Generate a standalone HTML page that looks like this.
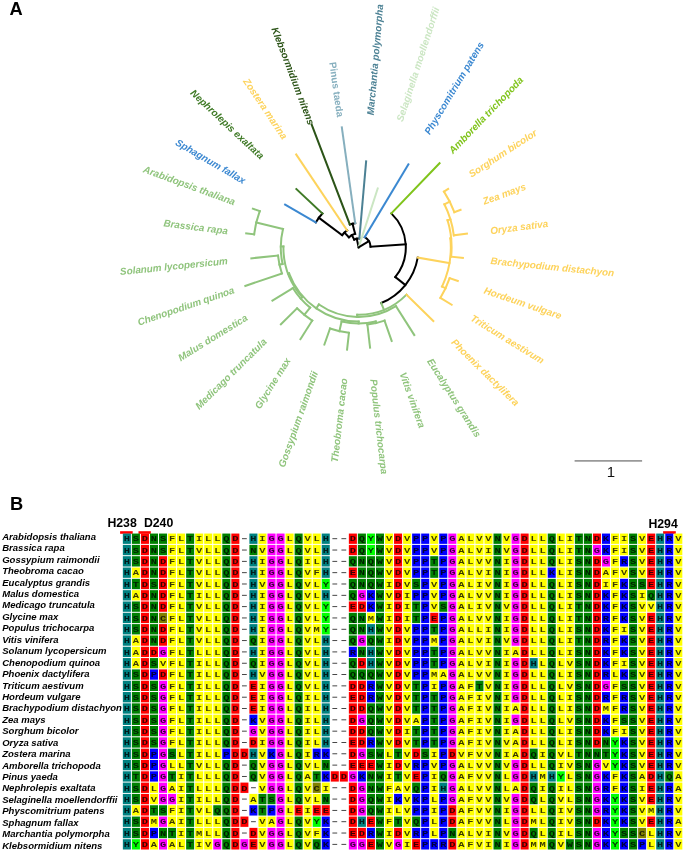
<!DOCTYPE html>
<html><head><meta charset="utf-8"><style>
html,body{margin:0;padding:0;background:#fff;}
svg{display:block;filter:blur(0.3px);}
.tree path{fill:none;stroke-width:2.0;stroke-linecap:square;}
.lb{font:italic bold 9.9px "Liberation Sans",Arial,sans-serif;dominant-baseline:central;}
.li{font:italic 9.9px "Liberation Sans",Arial,sans-serif;dominant-baseline:central;}
.lbo{font:bold 9.9px "Liberation Sans",Arial,sans-serif;dominant-baseline:central;}
.lr{font:9.9px "Liberation Sans",Arial,sans-serif;dominant-baseline:central;}
.aa text{font:bold 8.0px "Liberation Mono","Courier New",monospace;text-anchor:middle;fill:#000;fill-opacity:0.78;}
.rl text{font:italic bold 9.8px "Liberation Sans",Arial,sans-serif;fill:#000;}
.pl{font:bold 18.3px "Liberation Sans",Arial,sans-serif;fill:#000;}
.ml{font:bold 12.3px "Liberation Sans",Arial,sans-serif;fill:#000;}
</style></head><body>
<svg width="685" height="852" viewBox="0 0 685 852">
<rect width="685" height="852" fill="#fff"/>
<text class="pl" x="9.6" y="14.5">A</text>
<g class="tree">
<path d="M358.60,247.40L356.73,238.60" stroke="#000000"/>
<path d="M354.23,239.53A9.00,9.00 0 0 1 359.38,238.43" stroke="#000000"/>
<path d="M354.23,239.53L351.81,235.16" stroke="#000000"/>
<path d="M348.95,237.26A14.00,14.00 0 0 1 355.11,233.84" stroke="#000000"/>
<path d="M348.95,237.26L344.46,232.55" stroke="#000000"/>
<path d="M342.16,235.15A20.50,20.50 0 0 1 347.17,230.38" stroke="#000000"/>
<path d="M342.16,235.15L318.82,217.77" stroke="#000000"/>
<path d="M315.73,222.45A49.60,49.60 0 0 1 322.42,213.47" stroke="#000000"/>
<path d="M315.73,222.45L285.14,204.64" stroke="#3b88d1"/>
<path d="M322.42,213.47L296.38,189.05" stroke="#3f7a26"/>
<path d="M347.17,230.38L296.17,154.42" stroke="#fdd35c"/>
<path d="M355.11,233.84L352.49,223.67" stroke="#000000"/>
<path d="M349.85,224.52A24.50,24.50 0 0 1 355.21,223.14" stroke="#000000"/>
<path d="M349.85,224.52L311.65,124.57" stroke="#2c5418"/>
<path d="M355.21,223.14L341.83,127.47" stroke="#86afbe"/>
<path d="M359.38,238.43L366.12,161.43" stroke="#4c8194"/>
<path d="M358.60,247.40L377.72,188.42" stroke="#cbe6c3"/>
<path d="M358.60,247.40L368.85,241.15" stroke="#000000"/>
<path d="M364.77,237.11A12.00,12.00 0 0 1 370.58,246.64" stroke="#000000"/>
<path d="M364.77,237.11L408.39,164.27" stroke="#3b88d1"/>
<path d="M370.58,246.64L405.70,244.40" stroke="#000000"/>
<path d="M391.32,213.38A47.20,47.20 0 0 1 395.37,276.99" stroke="#000000"/>
<path d="M391.32,213.38L439.56,163.21" stroke="#80c41c"/>
<path d="M395.37,276.99L405.34,285.02" stroke="#000000"/>
<path d="M417.73,257.58A60.00,60.00 0 0 1 381.19,302.99" stroke="#000000"/>
<path d="M417.73,257.58L449.46,263.05" stroke="#fdd35c"/>
<path d="M450.36,238.37A92.20,92.20 0 0 1 442.05,286.60" stroke="#fdd35c"/>
<path d="M450.36,238.37L451.15,238.29" stroke="#fdd35c"/>
<path d="M447.56,220.27A93.00,93.00 0 0 1 451.14,256.67" stroke="#fdd35c"/>
<path d="M447.56,220.27L450.42,219.40" stroke="#fdd35c"/>
<path d="M444.38,204.30A96.00,96.00 0 0 1 453.83,235.30" stroke="#fdd35c"/>
<path d="M444.38,204.30L449.74,201.60" stroke="#fdd35c"/>
<path d="M443.99,191.61A102.00,102.00 0 0 1 454.33,212.18" stroke="#fdd35c"/>
<path d="M443.99,191.61L448.17,188.87" stroke="#fdd35c"/>
<path d="M454.33,212.18L460.52,209.90" stroke="#fdd35c"/>
<path d="M453.83,235.30L466.93,233.64" stroke="#fdd35c"/>
<path d="M451.14,256.67L462.88,257.85" stroke="#fdd35c"/>
<path d="M442.05,286.60L445.58,288.26" stroke="#fdd35c"/>
<path d="M449.64,278.18A96.10,96.10 0 0 1 440.42,297.81" stroke="#fdd35c"/>
<path d="M449.64,278.18L457.78,280.93" stroke="#fdd35c"/>
<path d="M440.42,297.81L451.65,304.74" stroke="#fdd35c"/>
<path d="M381.19,302.99L383.93,309.75" stroke="#8fc47c"/>
<path d="M406.52,294.65A67.30,67.30 0 0 1 357.22,314.69" stroke="#8fc47c"/>
<path d="M406.52,294.65L433.36,321.13" stroke="#fdd35c"/>
<path d="M357.22,314.69L357.17,316.89" stroke="#8fc47c"/>
<path d="M395.88,306.05A69.50,69.50 0 0 1 318.95,304.48" stroke="#8fc47c"/>
<path d="M395.88,306.05L414.28,335.00" stroke="#8fc47c"/>
<path d="M318.95,304.48L316.26,308.34" stroke="#8fc47c"/>
<path d="M358.65,321.60A74.20,74.20 0 0 1 289.04,273.24" stroke="#8fc47c"/>
<path d="M358.65,321.60L358.65,323.40" stroke="#8fc47c"/>
<path d="M375.70,321.45A76.00,76.00 0 0 1 341.61,321.48" stroke="#8fc47c"/>
<path d="M375.70,321.45L376.08,323.11" stroke="#8fc47c"/>
<path d="M384.51,320.65A77.70,77.70 0 0 1 367.42,324.60" stroke="#8fc47c"/>
<path d="M384.51,320.65L391.68,340.92" stroke="#8fc47c"/>
<path d="M367.42,324.60L370.06,347.65" stroke="#8fc47c"/>
<path d="M341.61,321.48L339.37,331.22" stroke="#8fc47c"/>
<path d="M348.95,332.86A86.00,86.00 0 0 1 330.03,328.52" stroke="#8fc47c"/>
<path d="M348.95,332.86L347.07,349.55" stroke="#8fc47c"/>
<path d="M330.03,328.52L324.39,344.55" stroke="#8fc47c"/>
<path d="M289.04,273.24L288.11,273.59" stroke="#8fc47c"/>
<path d="M302.23,297.17A75.20,75.20 0 0 1 283.41,246.51" stroke="#8fc47c"/>
<path d="M302.23,297.17L300.65,298.56" stroke="#8fc47c"/>
<path d="M310.12,307.61A77.30,77.30 0 0 1 292.85,288.04" stroke="#8fc47c"/>
<path d="M310.12,307.61L304.29,314.85" stroke="#8fc47c"/>
<path d="M312.25,320.55A86.60,86.60 0 0 1 297.02,308.29" stroke="#8fc47c"/>
<path d="M312.25,320.55L300.47,339.13" stroke="#8fc47c"/>
<path d="M297.02,308.29L280.88,324.25" stroke="#8fc47c"/>
<path d="M292.85,288.04L272.43,300.66" stroke="#8fc47c"/>
<path d="M283.41,246.51L280.81,246.48" stroke="#8fc47c"/>
<path d="M282.58,263.95A77.80,77.80 0 0 1 282.99,229.05" stroke="#8fc47c"/>
<path d="M282.58,263.95L279.45,264.63" stroke="#8fc47c"/>
<path d="M281.90,273.45A81.00,81.00 0 0 1 278.01,255.59" stroke="#8fc47c"/>
<path d="M281.90,273.45L245.35,285.86" stroke="#8fc47c"/>
<path d="M278.01,255.59L251.35,258.29" stroke="#8fc47c"/>
<path d="M282.99,229.05L256.27,222.57" stroke="#8fc47c"/>
<path d="M254.12,234.28A105.30,105.30 0 0 1 259.73,211.18" stroke="#8fc47c"/>
<path d="M254.12,234.28L246.18,233.28" stroke="#8fc47c"/>
<path d="M259.73,211.18L252.87,208.67" stroke="#8fc47c"/>
</g>
<g>
<text class="lb" x="244.78" y="181.15" fill="#3b88d1" text-anchor="end" transform="rotate(30.20 244.78 181.15)">Sphagnum fallax</text>
<text class="lb" x="262.53" y="157.31" fill="#3f7a26" text-anchor="end" transform="rotate(43.16 262.53 157.31)">Nephrolepis exaltata</text>
<text class="lb" x="285.18" y="138.06" fill="#fdd35c" text-anchor="end" transform="rotate(56.12 285.18 138.06)">Zostera marina</text>
<text class="lb" x="311.57" y="124.38" fill="#2c5418" text-anchor="end" transform="rotate(69.08 311.57 124.38)">Klebsormidium nitens</text>
<text class="lbo" x="340.36" y="116.97" fill="#86afbe" text-anchor="end" transform="rotate(82.04 340.36 116.97)">Pinus taeda</text>
<text class="lb" x="370.17" y="115.20" fill="#4c8194" text-anchor="start" transform="rotate(-85.00 370.17 115.20)">Marchantia polymorpha</text>
<text class="lb" x="399.52" y="121.17" fill="#cbe6c3" text-anchor="start" transform="rotate(-72.04 399.52 121.17)">Selaginella moellendorffii</text>
<text class="lb" x="426.79" y="133.56" fill="#3b88d1" text-anchor="start" transform="rotate(-59.08 426.79 133.56)">Physcomitrium patens</text>
<text class="lb" x="450.58" y="151.75" fill="#80c41c" text-anchor="start" transform="rotate(-46.12 450.58 151.75)">Amborella trichopoda</text>
<text class="lb" x="469.69" y="174.82" fill="#fdd35c" text-anchor="start" transform="rotate(-33.16 469.69 174.82)">Sorghum bicolor</text>
<text class="lb" x="483.14" y="201.58" fill="#fdd35c" text-anchor="start" transform="rotate(-20.20 483.14 201.58)">Zea mays</text>
<text class="lb" x="490.24" y="230.68" fill="#fdd35c" text-anchor="start" transform="rotate(-7.24 490.24 230.68)">Oryza sativa</text>
<text class="lb" x="490.64" y="260.63" fill="#fdd35c" text-anchor="start" transform="rotate(5.72 490.64 260.63)">Brachypodium distachyon</text>
<text class="lb" x="484.31" y="289.90" fill="#fdd35c" text-anchor="start" transform="rotate(18.68 484.31 289.90)">Hordeum vulgare</text>
<text class="lb" x="471.58" y="317.01" fill="#fdd35c" text-anchor="start" transform="rotate(31.64 471.58 317.01)">Triticum aestivum</text>
<text class="lb" x="453.09" y="340.58" fill="#fdd35c" text-anchor="start" transform="rotate(44.60 453.09 340.58)">Phoenix dactylifera</text>
<text class="lb" x="429.78" y="359.39" fill="#8fc47c" text-anchor="start" transform="rotate(57.56 429.78 359.39)">Eucalyptus grandis</text>
<text class="lb" x="402.85" y="372.50" fill="#8fc47c" text-anchor="start" transform="rotate(70.52 402.85 372.50)">Vitis vinifera</text>
<text class="lb" x="373.67" y="379.24" fill="#8fc47c" text-anchor="start" transform="rotate(83.48 373.67 379.24)">Populus trichocarpa</text>
<text class="lb" x="343.83" y="378.27" fill="#8fc47c" text-anchor="end" transform="rotate(276.44 343.83 378.27)">Theobroma cacao</text>
<text class="lb" x="314.85" y="371.62" fill="#8fc47c" text-anchor="end" transform="rotate(289.40 314.85 371.62)">Gossypium raimondii</text>
<text class="lb" x="288.11" y="358.65" fill="#8fc47c" text-anchor="end" transform="rotate(302.36 288.11 358.65)">Glycine max</text>
<text class="lb" x="264.96" y="340.00" fill="#8fc47c" text-anchor="end" transform="rotate(315.32 264.96 340.00)">Medicago truncatula</text>
<text class="lb" x="246.57" y="316.64" fill="#8fc47c" text-anchor="end" transform="rotate(328.28 246.57 316.64)">Malus domestica</text>
<text class="lb" x="233.90" y="289.76" fill="#8fc47c" text-anchor="end" transform="rotate(341.24 233.90 289.76)">Chenopodium quinoa</text>
<text class="lb" x="227.57" y="260.71" fill="#8fc47c" text-anchor="end" transform="rotate(354.20 227.57 260.71)">Solanum lycopersicum</text>
<text class="lb" x="227.93" y="230.98" fill="#8fc47c" text-anchor="end" transform="rotate(7.16 227.93 230.98)">Brassica rapa</text>
<text class="lb" x="234.94" y="202.10" fill="#8fc47c" text-anchor="end" transform="rotate(20.12 234.94 202.10)">Arabidopsis thaliana</text>
</g>
<line x1="574.6" y1="460.9" x2="642.1" y2="460.9" stroke="#999" stroke-width="1.6"/>
<text x="611" y="477.2" font-family="Liberation Sans, Arial, sans-serif" font-size="15" text-anchor="middle" fill="#111">1</text>
<text class="pl" x="10.0" y="509.7">B</text>
<text class="ml" x="107.4" y="526.7">H238</text>
<text class="ml" x="143.9" y="526.7">D240</text>
<text class="ml" x="648.4" y="527.6">H294</text>
<rect x="120.1" y="531.2" width="12.6" height="2.6" fill="#ff0000"/>
<rect x="138.5" y="531.2" width="12.3" height="2.6" fill="#ff0000"/>
<rect x="663.1" y="531.2" width="12.7" height="2.6" fill="#ff0000"/>
<g class="rl" transform="translate(2.2,0) scale(0.975,1)">
<text x="0" y="539.80">Arabidopsis thaliana</text>
<text x="0" y="551.24">Brassica rapa</text>
<text x="0" y="562.68">Gossypium raimondii</text>
<text x="0" y="574.12">Theobroma cacao</text>
<text x="0" y="585.56">Eucalyptus grandis</text>
<text x="0" y="597.00">Malus domestica</text>
<text x="0" y="608.44">Medicago truncatula</text>
<text x="0" y="619.88">Glycine max</text>
<text x="0" y="631.32">Populus trichocarpa</text>
<text x="0" y="642.76">Vitis vinifera</text>
<text x="0" y="654.20">Solanum lycopersicum</text>
<text x="0" y="665.64">Chenopodium quinoa</text>
<text x="0" y="677.08">Phoenix dactylifera</text>
<text x="0" y="688.52">Triticum aestivum</text>
<text x="0" y="699.96">Hordeum vulgare</text>
<text x="0" y="711.40">Brachypodium distachyon</text>
<text x="0" y="722.84">Zea mays</text>
<text x="0" y="734.28">Sorghum bicolor</text>
<text x="0" y="745.72">Oryza sativa</text>
<text x="0" y="757.16">Zostera marina</text>
<text x="0" y="768.60">Amborella trichopoda</text>
<text x="0" y="780.04">Pinus yaeda</text>
<text x="0" y="791.48">Nephrolepis exaltata</text>
<text x="0" y="802.92">Selaginella moellendorffii</text>
<text x="0" y="814.36">Physcomitrium patens</text>
<text x="0" y="825.80">Sphagnum fallax</text>
<text x="0" y="837.24">Marchantia polymorpha</text>
<text x="0" y="848.68">Klebsormidium nitens</text>
</g>
<g class="aa">
<rect x="122.85" y="533.55" width="8.04" height="10.32" fill="#008080"/>
<rect x="131.89" y="533.55" width="8.04" height="10.32" fill="#008000"/>
<rect x="140.93" y="533.55" width="8.04" height="10.32" fill="#ff0000"/>
<rect x="149.97" y="533.55" width="8.04" height="10.32" fill="#008000"/>
<rect x="159.01" y="533.55" width="8.04" height="10.32" fill="#008000"/>
<rect x="168.05" y="533.55" width="8.04" height="10.32" fill="#ffff00"/>
<rect x="177.09" y="533.55" width="8.04" height="10.32" fill="#ffff00"/>
<rect x="186.13" y="533.55" width="8.04" height="10.32" fill="#008000"/>
<rect x="195.17" y="533.55" width="8.04" height="10.32" fill="#ffff00"/>
<rect x="204.21" y="533.55" width="8.04" height="10.32" fill="#ffff00"/>
<rect x="213.25" y="533.55" width="8.04" height="10.32" fill="#ffff00"/>
<rect x="222.29" y="533.55" width="8.04" height="10.32" fill="#008000"/>
<rect x="231.33" y="533.55" width="8.04" height="10.32" fill="#ff0000"/>
<rect x="249.41" y="533.55" width="8.04" height="10.32" fill="#008080"/>
<rect x="258.45" y="533.55" width="8.04" height="10.32" fill="#ffff00"/>
<rect x="267.49" y="533.55" width="8.04" height="10.32" fill="#ff00ff"/>
<rect x="276.53" y="533.55" width="8.04" height="10.32" fill="#ff00ff"/>
<rect x="285.57" y="533.55" width="8.04" height="10.32" fill="#ffff00"/>
<rect x="294.61" y="533.55" width="8.04" height="10.32" fill="#008000"/>
<rect x="303.65" y="533.55" width="8.04" height="10.32" fill="#ffff00"/>
<rect x="312.69" y="533.55" width="8.04" height="10.32" fill="#ffff00"/>
<rect x="321.73" y="533.55" width="8.04" height="10.32" fill="#008080"/>
<rect x="348.85" y="533.55" width="8.04" height="10.32" fill="#ff0000"/>
<rect x="357.89" y="533.55" width="8.04" height="10.32" fill="#008000"/>
<rect x="366.93" y="533.55" width="8.04" height="10.32" fill="#00ff00"/>
<rect x="375.97" y="533.55" width="8.04" height="10.32" fill="#008000"/>
<rect x="385.01" y="533.55" width="8.04" height="10.32" fill="#ffff00"/>
<rect x="394.05" y="533.55" width="8.04" height="10.32" fill="#ff0000"/>
<rect x="403.09" y="533.55" width="8.04" height="10.32" fill="#ffff00"/>
<rect x="412.13" y="533.55" width="8.04" height="10.32" fill="#0000ff"/>
<rect x="421.17" y="533.55" width="8.04" height="10.32" fill="#0000ff"/>
<rect x="430.21" y="533.55" width="8.04" height="10.32" fill="#ffff00"/>
<rect x="439.25" y="533.55" width="8.04" height="10.32" fill="#0000ff"/>
<rect x="448.29" y="533.55" width="8.04" height="10.32" fill="#ff00ff"/>
<rect x="457.33" y="533.55" width="8.04" height="10.32" fill="#ffff00"/>
<rect x="466.37" y="533.55" width="8.04" height="10.32" fill="#ffff00"/>
<rect x="475.41" y="533.55" width="8.04" height="10.32" fill="#ffff00"/>
<rect x="484.45" y="533.55" width="8.04" height="10.32" fill="#ffff00"/>
<rect x="493.49" y="533.55" width="8.04" height="10.32" fill="#008000"/>
<rect x="502.53" y="533.55" width="8.04" height="10.32" fill="#ffff00"/>
<rect x="511.57" y="533.55" width="8.04" height="10.32" fill="#ff00ff"/>
<rect x="520.61" y="533.55" width="8.04" height="10.32" fill="#ff0000"/>
<rect x="529.65" y="533.55" width="8.04" height="10.32" fill="#ffff00"/>
<rect x="538.69" y="533.55" width="8.04" height="10.32" fill="#ffff00"/>
<rect x="547.73" y="533.55" width="8.04" height="10.32" fill="#008000"/>
<rect x="556.77" y="533.55" width="8.04" height="10.32" fill="#ffff00"/>
<rect x="565.81" y="533.55" width="8.04" height="10.32" fill="#ffff00"/>
<rect x="574.85" y="533.55" width="8.04" height="10.32" fill="#008000"/>
<rect x="583.89" y="533.55" width="8.04" height="10.32" fill="#008000"/>
<rect x="592.93" y="533.55" width="8.04" height="10.32" fill="#ff0000"/>
<rect x="601.97" y="533.55" width="8.04" height="10.32" fill="#0000ff"/>
<rect x="611.01" y="533.55" width="8.04" height="10.32" fill="#ffff00"/>
<rect x="620.05" y="533.55" width="8.04" height="10.32" fill="#ffff00"/>
<rect x="629.09" y="533.55" width="8.04" height="10.32" fill="#008000"/>
<rect x="638.13" y="533.55" width="8.04" height="10.32" fill="#ffff00"/>
<rect x="647.17" y="533.55" width="8.04" height="10.32" fill="#ff0000"/>
<rect x="656.21" y="533.55" width="8.04" height="10.32" fill="#008080"/>
<rect x="665.25" y="533.55" width="8.04" height="10.32" fill="#0000ff"/>
<rect x="674.29" y="533.55" width="8.04" height="10.32" fill="#ffff00"/>
<rect x="122.85" y="544.87" width="8.04" height="10.32" fill="#008080"/>
<rect x="131.89" y="544.87" width="8.04" height="10.32" fill="#008000"/>
<rect x="140.93" y="544.87" width="8.04" height="10.32" fill="#ff0000"/>
<rect x="149.97" y="544.87" width="8.04" height="10.32" fill="#008000"/>
<rect x="159.01" y="544.87" width="8.04" height="10.32" fill="#008000"/>
<rect x="168.05" y="544.87" width="8.04" height="10.32" fill="#ffff00"/>
<rect x="177.09" y="544.87" width="8.04" height="10.32" fill="#ffff00"/>
<rect x="186.13" y="544.87" width="8.04" height="10.32" fill="#008000"/>
<rect x="195.17" y="544.87" width="8.04" height="10.32" fill="#ffff00"/>
<rect x="204.21" y="544.87" width="8.04" height="10.32" fill="#ffff00"/>
<rect x="213.25" y="544.87" width="8.04" height="10.32" fill="#ffff00"/>
<rect x="222.29" y="544.87" width="8.04" height="10.32" fill="#008000"/>
<rect x="231.33" y="544.87" width="8.04" height="10.32" fill="#ff0000"/>
<rect x="249.41" y="544.87" width="8.04" height="10.32" fill="#008000"/>
<rect x="258.45" y="544.87" width="8.04" height="10.32" fill="#ffff00"/>
<rect x="267.49" y="544.87" width="8.04" height="10.32" fill="#ff00ff"/>
<rect x="276.53" y="544.87" width="8.04" height="10.32" fill="#ff00ff"/>
<rect x="285.57" y="544.87" width="8.04" height="10.32" fill="#ffff00"/>
<rect x="294.61" y="544.87" width="8.04" height="10.32" fill="#008000"/>
<rect x="303.65" y="544.87" width="8.04" height="10.32" fill="#ffff00"/>
<rect x="312.69" y="544.87" width="8.04" height="10.32" fill="#ffff00"/>
<rect x="321.73" y="544.87" width="8.04" height="10.32" fill="#008080"/>
<rect x="348.85" y="544.87" width="8.04" height="10.32" fill="#ff0000"/>
<rect x="357.89" y="544.87" width="8.04" height="10.32" fill="#008000"/>
<rect x="366.93" y="544.87" width="8.04" height="10.32" fill="#00ff00"/>
<rect x="375.97" y="544.87" width="8.04" height="10.32" fill="#008000"/>
<rect x="385.01" y="544.87" width="8.04" height="10.32" fill="#ffff00"/>
<rect x="394.05" y="544.87" width="8.04" height="10.32" fill="#ff0000"/>
<rect x="403.09" y="544.87" width="8.04" height="10.32" fill="#ffff00"/>
<rect x="412.13" y="544.87" width="8.04" height="10.32" fill="#0000ff"/>
<rect x="421.17" y="544.87" width="8.04" height="10.32" fill="#0000ff"/>
<rect x="430.21" y="544.87" width="8.04" height="10.32" fill="#ffff00"/>
<rect x="439.25" y="544.87" width="8.04" height="10.32" fill="#0000ff"/>
<rect x="448.29" y="544.87" width="8.04" height="10.32" fill="#ff00ff"/>
<rect x="457.33" y="544.87" width="8.04" height="10.32" fill="#ffff00"/>
<rect x="466.37" y="544.87" width="8.04" height="10.32" fill="#ffff00"/>
<rect x="475.41" y="544.87" width="8.04" height="10.32" fill="#ffff00"/>
<rect x="484.45" y="544.87" width="8.04" height="10.32" fill="#ffff00"/>
<rect x="493.49" y="544.87" width="8.04" height="10.32" fill="#008000"/>
<rect x="502.53" y="544.87" width="8.04" height="10.32" fill="#ffff00"/>
<rect x="511.57" y="544.87" width="8.04" height="10.32" fill="#ff00ff"/>
<rect x="520.61" y="544.87" width="8.04" height="10.32" fill="#ff0000"/>
<rect x="529.65" y="544.87" width="8.04" height="10.32" fill="#ffff00"/>
<rect x="538.69" y="544.87" width="8.04" height="10.32" fill="#ffff00"/>
<rect x="547.73" y="544.87" width="8.04" height="10.32" fill="#008000"/>
<rect x="556.77" y="544.87" width="8.04" height="10.32" fill="#ffff00"/>
<rect x="565.81" y="544.87" width="8.04" height="10.32" fill="#ffff00"/>
<rect x="574.85" y="544.87" width="8.04" height="10.32" fill="#008000"/>
<rect x="583.89" y="544.87" width="8.04" height="10.32" fill="#008000"/>
<rect x="592.93" y="544.87" width="8.04" height="10.32" fill="#ff00ff"/>
<rect x="601.97" y="544.87" width="8.04" height="10.32" fill="#0000ff"/>
<rect x="611.01" y="544.87" width="8.04" height="10.32" fill="#ffff00"/>
<rect x="620.05" y="544.87" width="8.04" height="10.32" fill="#ffff00"/>
<rect x="629.09" y="544.87" width="8.04" height="10.32" fill="#008000"/>
<rect x="638.13" y="544.87" width="8.04" height="10.32" fill="#ffff00"/>
<rect x="647.17" y="544.87" width="8.04" height="10.32" fill="#ff0000"/>
<rect x="656.21" y="544.87" width="8.04" height="10.32" fill="#008080"/>
<rect x="665.25" y="544.87" width="8.04" height="10.32" fill="#0000ff"/>
<rect x="674.29" y="544.87" width="8.04" height="10.32" fill="#ffff00"/>
<rect x="122.85" y="556.19" width="8.04" height="10.32" fill="#008080"/>
<rect x="131.89" y="556.19" width="8.04" height="10.32" fill="#008000"/>
<rect x="140.93" y="556.19" width="8.04" height="10.32" fill="#ff0000"/>
<rect x="149.97" y="556.19" width="8.04" height="10.32" fill="#008000"/>
<rect x="159.01" y="556.19" width="8.04" height="10.32" fill="#ff0000"/>
<rect x="168.05" y="556.19" width="8.04" height="10.32" fill="#ffff00"/>
<rect x="177.09" y="556.19" width="8.04" height="10.32" fill="#ffff00"/>
<rect x="186.13" y="556.19" width="8.04" height="10.32" fill="#008000"/>
<rect x="195.17" y="556.19" width="8.04" height="10.32" fill="#ffff00"/>
<rect x="204.21" y="556.19" width="8.04" height="10.32" fill="#ffff00"/>
<rect x="213.25" y="556.19" width="8.04" height="10.32" fill="#ffff00"/>
<rect x="222.29" y="556.19" width="8.04" height="10.32" fill="#008000"/>
<rect x="231.33" y="556.19" width="8.04" height="10.32" fill="#ff0000"/>
<rect x="249.41" y="556.19" width="8.04" height="10.32" fill="#008080"/>
<rect x="258.45" y="556.19" width="8.04" height="10.32" fill="#ffff00"/>
<rect x="267.49" y="556.19" width="8.04" height="10.32" fill="#ff00ff"/>
<rect x="276.53" y="556.19" width="8.04" height="10.32" fill="#ff00ff"/>
<rect x="285.57" y="556.19" width="8.04" height="10.32" fill="#ffff00"/>
<rect x="294.61" y="556.19" width="8.04" height="10.32" fill="#008000"/>
<rect x="303.65" y="556.19" width="8.04" height="10.32" fill="#ffff00"/>
<rect x="312.69" y="556.19" width="8.04" height="10.32" fill="#ffff00"/>
<rect x="321.73" y="556.19" width="8.04" height="10.32" fill="#008080"/>
<rect x="348.85" y="556.19" width="8.04" height="10.32" fill="#008000"/>
<rect x="357.89" y="556.19" width="8.04" height="10.32" fill="#008000"/>
<rect x="366.93" y="556.19" width="8.04" height="10.32" fill="#008000"/>
<rect x="375.97" y="556.19" width="8.04" height="10.32" fill="#008000"/>
<rect x="385.01" y="556.19" width="8.04" height="10.32" fill="#ffff00"/>
<rect x="394.05" y="556.19" width="8.04" height="10.32" fill="#ff0000"/>
<rect x="403.09" y="556.19" width="8.04" height="10.32" fill="#ffff00"/>
<rect x="412.13" y="556.19" width="8.04" height="10.32" fill="#0000ff"/>
<rect x="421.17" y="556.19" width="8.04" height="10.32" fill="#0000ff"/>
<rect x="430.21" y="556.19" width="8.04" height="10.32" fill="#008000"/>
<rect x="439.25" y="556.19" width="8.04" height="10.32" fill="#0000ff"/>
<rect x="448.29" y="556.19" width="8.04" height="10.32" fill="#ff00ff"/>
<rect x="457.33" y="556.19" width="8.04" height="10.32" fill="#ffff00"/>
<rect x="466.37" y="556.19" width="8.04" height="10.32" fill="#ffff00"/>
<rect x="475.41" y="556.19" width="8.04" height="10.32" fill="#ffff00"/>
<rect x="484.45" y="556.19" width="8.04" height="10.32" fill="#ffff00"/>
<rect x="493.49" y="556.19" width="8.04" height="10.32" fill="#008000"/>
<rect x="502.53" y="556.19" width="8.04" height="10.32" fill="#ffff00"/>
<rect x="511.57" y="556.19" width="8.04" height="10.32" fill="#ff00ff"/>
<rect x="520.61" y="556.19" width="8.04" height="10.32" fill="#ff0000"/>
<rect x="529.65" y="556.19" width="8.04" height="10.32" fill="#ffff00"/>
<rect x="538.69" y="556.19" width="8.04" height="10.32" fill="#ffff00"/>
<rect x="547.73" y="556.19" width="8.04" height="10.32" fill="#008000"/>
<rect x="556.77" y="556.19" width="8.04" height="10.32" fill="#ffff00"/>
<rect x="565.81" y="556.19" width="8.04" height="10.32" fill="#ffff00"/>
<rect x="574.85" y="556.19" width="8.04" height="10.32" fill="#008000"/>
<rect x="583.89" y="556.19" width="8.04" height="10.32" fill="#008000"/>
<rect x="592.93" y="556.19" width="8.04" height="10.32" fill="#ff0000"/>
<rect x="601.97" y="556.19" width="8.04" height="10.32" fill="#ff00ff"/>
<rect x="611.01" y="556.19" width="8.04" height="10.32" fill="#ffff00"/>
<rect x="620.05" y="556.19" width="8.04" height="10.32" fill="#0000ff"/>
<rect x="629.09" y="556.19" width="8.04" height="10.32" fill="#008000"/>
<rect x="638.13" y="556.19" width="8.04" height="10.32" fill="#ffff00"/>
<rect x="647.17" y="556.19" width="8.04" height="10.32" fill="#ff0000"/>
<rect x="656.21" y="556.19" width="8.04" height="10.32" fill="#008080"/>
<rect x="665.25" y="556.19" width="8.04" height="10.32" fill="#0000ff"/>
<rect x="674.29" y="556.19" width="8.04" height="10.32" fill="#ffff00"/>
<rect x="122.85" y="567.51" width="8.04" height="10.32" fill="#008080"/>
<rect x="131.89" y="567.51" width="8.04" height="10.32" fill="#ffff00"/>
<rect x="140.93" y="567.51" width="8.04" height="10.32" fill="#ff0000"/>
<rect x="149.97" y="567.51" width="8.04" height="10.32" fill="#008000"/>
<rect x="159.01" y="567.51" width="8.04" height="10.32" fill="#ff0000"/>
<rect x="168.05" y="567.51" width="8.04" height="10.32" fill="#ffff00"/>
<rect x="177.09" y="567.51" width="8.04" height="10.32" fill="#ffff00"/>
<rect x="186.13" y="567.51" width="8.04" height="10.32" fill="#008000"/>
<rect x="195.17" y="567.51" width="8.04" height="10.32" fill="#ffff00"/>
<rect x="204.21" y="567.51" width="8.04" height="10.32" fill="#ffff00"/>
<rect x="213.25" y="567.51" width="8.04" height="10.32" fill="#ffff00"/>
<rect x="222.29" y="567.51" width="8.04" height="10.32" fill="#008000"/>
<rect x="231.33" y="567.51" width="8.04" height="10.32" fill="#ff0000"/>
<rect x="249.41" y="567.51" width="8.04" height="10.32" fill="#008080"/>
<rect x="258.45" y="567.51" width="8.04" height="10.32" fill="#ffff00"/>
<rect x="267.49" y="567.51" width="8.04" height="10.32" fill="#ff00ff"/>
<rect x="276.53" y="567.51" width="8.04" height="10.32" fill="#ff00ff"/>
<rect x="285.57" y="567.51" width="8.04" height="10.32" fill="#ffff00"/>
<rect x="294.61" y="567.51" width="8.04" height="10.32" fill="#008000"/>
<rect x="303.65" y="567.51" width="8.04" height="10.32" fill="#ffff00"/>
<rect x="312.69" y="567.51" width="8.04" height="10.32" fill="#ffff00"/>
<rect x="321.73" y="567.51" width="8.04" height="10.32" fill="#008080"/>
<rect x="348.85" y="567.51" width="8.04" height="10.32" fill="#ff0000"/>
<rect x="357.89" y="567.51" width="8.04" height="10.32" fill="#008000"/>
<rect x="366.93" y="567.51" width="8.04" height="10.32" fill="#008000"/>
<rect x="375.97" y="567.51" width="8.04" height="10.32" fill="#008000"/>
<rect x="385.01" y="567.51" width="8.04" height="10.32" fill="#ffff00"/>
<rect x="394.05" y="567.51" width="8.04" height="10.32" fill="#ff0000"/>
<rect x="403.09" y="567.51" width="8.04" height="10.32" fill="#ffff00"/>
<rect x="412.13" y="567.51" width="8.04" height="10.32" fill="#0000ff"/>
<rect x="421.17" y="567.51" width="8.04" height="10.32" fill="#0000ff"/>
<rect x="430.21" y="567.51" width="8.04" height="10.32" fill="#008000"/>
<rect x="439.25" y="567.51" width="8.04" height="10.32" fill="#0000ff"/>
<rect x="448.29" y="567.51" width="8.04" height="10.32" fill="#ff00ff"/>
<rect x="457.33" y="567.51" width="8.04" height="10.32" fill="#ffff00"/>
<rect x="466.37" y="567.51" width="8.04" height="10.32" fill="#ffff00"/>
<rect x="475.41" y="567.51" width="8.04" height="10.32" fill="#ffff00"/>
<rect x="484.45" y="567.51" width="8.04" height="10.32" fill="#ffff00"/>
<rect x="493.49" y="567.51" width="8.04" height="10.32" fill="#008000"/>
<rect x="502.53" y="567.51" width="8.04" height="10.32" fill="#ffff00"/>
<rect x="511.57" y="567.51" width="8.04" height="10.32" fill="#ff00ff"/>
<rect x="520.61" y="567.51" width="8.04" height="10.32" fill="#ff0000"/>
<rect x="529.65" y="567.51" width="8.04" height="10.32" fill="#ffff00"/>
<rect x="538.69" y="567.51" width="8.04" height="10.32" fill="#ffff00"/>
<rect x="547.73" y="567.51" width="8.04" height="10.32" fill="#0000ff"/>
<rect x="556.77" y="567.51" width="8.04" height="10.32" fill="#ffff00"/>
<rect x="565.81" y="567.51" width="8.04" height="10.32" fill="#ffff00"/>
<rect x="574.85" y="567.51" width="8.04" height="10.32" fill="#008000"/>
<rect x="583.89" y="567.51" width="8.04" height="10.32" fill="#008000"/>
<rect x="592.93" y="567.51" width="8.04" height="10.32" fill="#ff0000"/>
<rect x="601.97" y="567.51" width="8.04" height="10.32" fill="#ffff00"/>
<rect x="611.01" y="567.51" width="8.04" height="10.32" fill="#ffff00"/>
<rect x="620.05" y="567.51" width="8.04" height="10.32" fill="#ffff00"/>
<rect x="629.09" y="567.51" width="8.04" height="10.32" fill="#008000"/>
<rect x="638.13" y="567.51" width="8.04" height="10.32" fill="#ffff00"/>
<rect x="647.17" y="567.51" width="8.04" height="10.32" fill="#ff0000"/>
<rect x="656.21" y="567.51" width="8.04" height="10.32" fill="#008080"/>
<rect x="665.25" y="567.51" width="8.04" height="10.32" fill="#0000ff"/>
<rect x="674.29" y="567.51" width="8.04" height="10.32" fill="#ffff00"/>
<rect x="122.85" y="578.83" width="8.04" height="10.32" fill="#008080"/>
<rect x="131.89" y="578.83" width="8.04" height="10.32" fill="#008000"/>
<rect x="140.93" y="578.83" width="8.04" height="10.32" fill="#ff0000"/>
<rect x="149.97" y="578.83" width="8.04" height="10.32" fill="#008000"/>
<rect x="159.01" y="578.83" width="8.04" height="10.32" fill="#ff0000"/>
<rect x="168.05" y="578.83" width="8.04" height="10.32" fill="#ffff00"/>
<rect x="177.09" y="578.83" width="8.04" height="10.32" fill="#ffff00"/>
<rect x="186.13" y="578.83" width="8.04" height="10.32" fill="#008000"/>
<rect x="195.17" y="578.83" width="8.04" height="10.32" fill="#ffff00"/>
<rect x="204.21" y="578.83" width="8.04" height="10.32" fill="#ffff00"/>
<rect x="213.25" y="578.83" width="8.04" height="10.32" fill="#ffff00"/>
<rect x="222.29" y="578.83" width="8.04" height="10.32" fill="#008000"/>
<rect x="231.33" y="578.83" width="8.04" height="10.32" fill="#ff0000"/>
<rect x="249.41" y="578.83" width="8.04" height="10.32" fill="#008080"/>
<rect x="258.45" y="578.83" width="8.04" height="10.32" fill="#ffff00"/>
<rect x="267.49" y="578.83" width="8.04" height="10.32" fill="#ff00ff"/>
<rect x="276.53" y="578.83" width="8.04" height="10.32" fill="#ff00ff"/>
<rect x="285.57" y="578.83" width="8.04" height="10.32" fill="#ffff00"/>
<rect x="294.61" y="578.83" width="8.04" height="10.32" fill="#008000"/>
<rect x="303.65" y="578.83" width="8.04" height="10.32" fill="#ffff00"/>
<rect x="312.69" y="578.83" width="8.04" height="10.32" fill="#ffff00"/>
<rect x="321.73" y="578.83" width="8.04" height="10.32" fill="#00ff00"/>
<rect x="348.85" y="578.83" width="8.04" height="10.32" fill="#008000"/>
<rect x="357.89" y="578.83" width="8.04" height="10.32" fill="#008000"/>
<rect x="366.93" y="578.83" width="8.04" height="10.32" fill="#008000"/>
<rect x="375.97" y="578.83" width="8.04" height="10.32" fill="#008000"/>
<rect x="385.01" y="578.83" width="8.04" height="10.32" fill="#ffff00"/>
<rect x="394.05" y="578.83" width="8.04" height="10.32" fill="#ff0000"/>
<rect x="403.09" y="578.83" width="8.04" height="10.32" fill="#ffff00"/>
<rect x="412.13" y="578.83" width="8.04" height="10.32" fill="#008000"/>
<rect x="421.17" y="578.83" width="8.04" height="10.32" fill="#0000ff"/>
<rect x="430.21" y="578.83" width="8.04" height="10.32" fill="#ffff00"/>
<rect x="439.25" y="578.83" width="8.04" height="10.32" fill="#0000ff"/>
<rect x="448.29" y="578.83" width="8.04" height="10.32" fill="#ff00ff"/>
<rect x="457.33" y="578.83" width="8.04" height="10.32" fill="#ffff00"/>
<rect x="466.37" y="578.83" width="8.04" height="10.32" fill="#ffff00"/>
<rect x="475.41" y="578.83" width="8.04" height="10.32" fill="#ffff00"/>
<rect x="484.45" y="578.83" width="8.04" height="10.32" fill="#ffff00"/>
<rect x="493.49" y="578.83" width="8.04" height="10.32" fill="#008000"/>
<rect x="502.53" y="578.83" width="8.04" height="10.32" fill="#ffff00"/>
<rect x="511.57" y="578.83" width="8.04" height="10.32" fill="#ff00ff"/>
<rect x="520.61" y="578.83" width="8.04" height="10.32" fill="#ff0000"/>
<rect x="529.65" y="578.83" width="8.04" height="10.32" fill="#ffff00"/>
<rect x="538.69" y="578.83" width="8.04" height="10.32" fill="#ffff00"/>
<rect x="547.73" y="578.83" width="8.04" height="10.32" fill="#008000"/>
<rect x="556.77" y="578.83" width="8.04" height="10.32" fill="#ffff00"/>
<rect x="565.81" y="578.83" width="8.04" height="10.32" fill="#ffff00"/>
<rect x="574.85" y="578.83" width="8.04" height="10.32" fill="#008000"/>
<rect x="583.89" y="578.83" width="8.04" height="10.32" fill="#008000"/>
<rect x="592.93" y="578.83" width="8.04" height="10.32" fill="#ff0000"/>
<rect x="601.97" y="578.83" width="8.04" height="10.32" fill="#ffff00"/>
<rect x="611.01" y="578.83" width="8.04" height="10.32" fill="#ffff00"/>
<rect x="620.05" y="578.83" width="8.04" height="10.32" fill="#0000ff"/>
<rect x="629.09" y="578.83" width="8.04" height="10.32" fill="#008000"/>
<rect x="638.13" y="578.83" width="8.04" height="10.32" fill="#008000"/>
<rect x="647.17" y="578.83" width="8.04" height="10.32" fill="#ff0000"/>
<rect x="656.21" y="578.83" width="8.04" height="10.32" fill="#008080"/>
<rect x="665.25" y="578.83" width="8.04" height="10.32" fill="#0000ff"/>
<rect x="674.29" y="578.83" width="8.04" height="10.32" fill="#ffff00"/>
<rect x="122.85" y="590.15" width="8.04" height="10.32" fill="#008080"/>
<rect x="131.89" y="590.15" width="8.04" height="10.32" fill="#ffff00"/>
<rect x="140.93" y="590.15" width="8.04" height="10.32" fill="#ff0000"/>
<rect x="149.97" y="590.15" width="8.04" height="10.32" fill="#008000"/>
<rect x="159.01" y="590.15" width="8.04" height="10.32" fill="#ff0000"/>
<rect x="168.05" y="590.15" width="8.04" height="10.32" fill="#ffff00"/>
<rect x="177.09" y="590.15" width="8.04" height="10.32" fill="#ffff00"/>
<rect x="186.13" y="590.15" width="8.04" height="10.32" fill="#008000"/>
<rect x="195.17" y="590.15" width="8.04" height="10.32" fill="#ffff00"/>
<rect x="204.21" y="590.15" width="8.04" height="10.32" fill="#ffff00"/>
<rect x="213.25" y="590.15" width="8.04" height="10.32" fill="#ffff00"/>
<rect x="222.29" y="590.15" width="8.04" height="10.32" fill="#008000"/>
<rect x="231.33" y="590.15" width="8.04" height="10.32" fill="#ff0000"/>
<rect x="249.41" y="590.15" width="8.04" height="10.32" fill="#008080"/>
<rect x="258.45" y="590.15" width="8.04" height="10.32" fill="#ffff00"/>
<rect x="267.49" y="590.15" width="8.04" height="10.32" fill="#ff00ff"/>
<rect x="276.53" y="590.15" width="8.04" height="10.32" fill="#ff00ff"/>
<rect x="285.57" y="590.15" width="8.04" height="10.32" fill="#ffff00"/>
<rect x="294.61" y="590.15" width="8.04" height="10.32" fill="#008000"/>
<rect x="303.65" y="590.15" width="8.04" height="10.32" fill="#ffff00"/>
<rect x="312.69" y="590.15" width="8.04" height="10.32" fill="#ffff00"/>
<rect x="321.73" y="590.15" width="8.04" height="10.32" fill="#008080"/>
<rect x="348.85" y="590.15" width="8.04" height="10.32" fill="#008000"/>
<rect x="357.89" y="590.15" width="8.04" height="10.32" fill="#ff00ff"/>
<rect x="366.93" y="590.15" width="8.04" height="10.32" fill="#0000ff"/>
<rect x="375.97" y="590.15" width="8.04" height="10.32" fill="#008000"/>
<rect x="385.01" y="590.15" width="8.04" height="10.32" fill="#ffff00"/>
<rect x="394.05" y="590.15" width="8.04" height="10.32" fill="#ff0000"/>
<rect x="403.09" y="590.15" width="8.04" height="10.32" fill="#ffff00"/>
<rect x="412.13" y="590.15" width="8.04" height="10.32" fill="#0000ff"/>
<rect x="421.17" y="590.15" width="8.04" height="10.32" fill="#0000ff"/>
<rect x="430.21" y="590.15" width="8.04" height="10.32" fill="#ffff00"/>
<rect x="439.25" y="590.15" width="8.04" height="10.32" fill="#0000ff"/>
<rect x="448.29" y="590.15" width="8.04" height="10.32" fill="#ff00ff"/>
<rect x="457.33" y="590.15" width="8.04" height="10.32" fill="#ffff00"/>
<rect x="466.37" y="590.15" width="8.04" height="10.32" fill="#ffff00"/>
<rect x="475.41" y="590.15" width="8.04" height="10.32" fill="#ffff00"/>
<rect x="484.45" y="590.15" width="8.04" height="10.32" fill="#ffff00"/>
<rect x="493.49" y="590.15" width="8.04" height="10.32" fill="#008000"/>
<rect x="502.53" y="590.15" width="8.04" height="10.32" fill="#ffff00"/>
<rect x="511.57" y="590.15" width="8.04" height="10.32" fill="#ff00ff"/>
<rect x="520.61" y="590.15" width="8.04" height="10.32" fill="#ff0000"/>
<rect x="529.65" y="590.15" width="8.04" height="10.32" fill="#ffff00"/>
<rect x="538.69" y="590.15" width="8.04" height="10.32" fill="#ffff00"/>
<rect x="547.73" y="590.15" width="8.04" height="10.32" fill="#008000"/>
<rect x="556.77" y="590.15" width="8.04" height="10.32" fill="#ffff00"/>
<rect x="565.81" y="590.15" width="8.04" height="10.32" fill="#ffff00"/>
<rect x="574.85" y="590.15" width="8.04" height="10.32" fill="#008000"/>
<rect x="583.89" y="590.15" width="8.04" height="10.32" fill="#008000"/>
<rect x="592.93" y="590.15" width="8.04" height="10.32" fill="#ff0000"/>
<rect x="601.97" y="590.15" width="8.04" height="10.32" fill="#0000ff"/>
<rect x="611.01" y="590.15" width="8.04" height="10.32" fill="#ffff00"/>
<rect x="620.05" y="590.15" width="8.04" height="10.32" fill="#0000ff"/>
<rect x="629.09" y="590.15" width="8.04" height="10.32" fill="#008000"/>
<rect x="638.13" y="590.15" width="8.04" height="10.32" fill="#ffff00"/>
<rect x="647.17" y="590.15" width="8.04" height="10.32" fill="#008000"/>
<rect x="656.21" y="590.15" width="8.04" height="10.32" fill="#008080"/>
<rect x="665.25" y="590.15" width="8.04" height="10.32" fill="#0000ff"/>
<rect x="674.29" y="590.15" width="8.04" height="10.32" fill="#ffff00"/>
<rect x="122.85" y="601.47" width="8.04" height="10.32" fill="#008080"/>
<rect x="131.89" y="601.47" width="8.04" height="10.32" fill="#008000"/>
<rect x="140.93" y="601.47" width="8.04" height="10.32" fill="#ff0000"/>
<rect x="149.97" y="601.47" width="8.04" height="10.32" fill="#008000"/>
<rect x="159.01" y="601.47" width="8.04" height="10.32" fill="#ff0000"/>
<rect x="168.05" y="601.47" width="8.04" height="10.32" fill="#ffff00"/>
<rect x="177.09" y="601.47" width="8.04" height="10.32" fill="#ffff00"/>
<rect x="186.13" y="601.47" width="8.04" height="10.32" fill="#008000"/>
<rect x="195.17" y="601.47" width="8.04" height="10.32" fill="#ffff00"/>
<rect x="204.21" y="601.47" width="8.04" height="10.32" fill="#ffff00"/>
<rect x="213.25" y="601.47" width="8.04" height="10.32" fill="#ffff00"/>
<rect x="222.29" y="601.47" width="8.04" height="10.32" fill="#008000"/>
<rect x="231.33" y="601.47" width="8.04" height="10.32" fill="#ff0000"/>
<rect x="249.41" y="601.47" width="8.04" height="10.32" fill="#008080"/>
<rect x="258.45" y="601.47" width="8.04" height="10.32" fill="#ffff00"/>
<rect x="267.49" y="601.47" width="8.04" height="10.32" fill="#ff00ff"/>
<rect x="276.53" y="601.47" width="8.04" height="10.32" fill="#ff00ff"/>
<rect x="285.57" y="601.47" width="8.04" height="10.32" fill="#ffff00"/>
<rect x="294.61" y="601.47" width="8.04" height="10.32" fill="#008000"/>
<rect x="303.65" y="601.47" width="8.04" height="10.32" fill="#ffff00"/>
<rect x="312.69" y="601.47" width="8.04" height="10.32" fill="#ffff00"/>
<rect x="321.73" y="601.47" width="8.04" height="10.32" fill="#00ff00"/>
<rect x="348.85" y="601.47" width="8.04" height="10.32" fill="#ff0000"/>
<rect x="357.89" y="601.47" width="8.04" height="10.32" fill="#ff0000"/>
<rect x="366.93" y="601.47" width="8.04" height="10.32" fill="#0000ff"/>
<rect x="375.97" y="601.47" width="8.04" height="10.32" fill="#008000"/>
<rect x="385.01" y="601.47" width="8.04" height="10.32" fill="#ffff00"/>
<rect x="394.05" y="601.47" width="8.04" height="10.32" fill="#ff0000"/>
<rect x="403.09" y="601.47" width="8.04" height="10.32" fill="#ffff00"/>
<rect x="412.13" y="601.47" width="8.04" height="10.32" fill="#008000"/>
<rect x="421.17" y="601.47" width="8.04" height="10.32" fill="#0000ff"/>
<rect x="430.21" y="601.47" width="8.04" height="10.32" fill="#ffff00"/>
<rect x="439.25" y="601.47" width="8.04" height="10.32" fill="#008000"/>
<rect x="448.29" y="601.47" width="8.04" height="10.32" fill="#ff00ff"/>
<rect x="457.33" y="601.47" width="8.04" height="10.32" fill="#ffff00"/>
<rect x="466.37" y="601.47" width="8.04" height="10.32" fill="#ffff00"/>
<rect x="475.41" y="601.47" width="8.04" height="10.32" fill="#ffff00"/>
<rect x="484.45" y="601.47" width="8.04" height="10.32" fill="#ffff00"/>
<rect x="493.49" y="601.47" width="8.04" height="10.32" fill="#008000"/>
<rect x="502.53" y="601.47" width="8.04" height="10.32" fill="#ffff00"/>
<rect x="511.57" y="601.47" width="8.04" height="10.32" fill="#ff00ff"/>
<rect x="520.61" y="601.47" width="8.04" height="10.32" fill="#ff0000"/>
<rect x="529.65" y="601.47" width="8.04" height="10.32" fill="#ffff00"/>
<rect x="538.69" y="601.47" width="8.04" height="10.32" fill="#ffff00"/>
<rect x="547.73" y="601.47" width="8.04" height="10.32" fill="#008000"/>
<rect x="556.77" y="601.47" width="8.04" height="10.32" fill="#ffff00"/>
<rect x="565.81" y="601.47" width="8.04" height="10.32" fill="#ffff00"/>
<rect x="574.85" y="601.47" width="8.04" height="10.32" fill="#008000"/>
<rect x="583.89" y="601.47" width="8.04" height="10.32" fill="#008000"/>
<rect x="592.93" y="601.47" width="8.04" height="10.32" fill="#ff0000"/>
<rect x="601.97" y="601.47" width="8.04" height="10.32" fill="#0000ff"/>
<rect x="611.01" y="601.47" width="8.04" height="10.32" fill="#ffff00"/>
<rect x="620.05" y="601.47" width="8.04" height="10.32" fill="#0000ff"/>
<rect x="629.09" y="601.47" width="8.04" height="10.32" fill="#008000"/>
<rect x="638.13" y="601.47" width="8.04" height="10.32" fill="#ffff00"/>
<rect x="647.17" y="601.47" width="8.04" height="10.32" fill="#ffff00"/>
<rect x="656.21" y="601.47" width="8.04" height="10.32" fill="#008080"/>
<rect x="665.25" y="601.47" width="8.04" height="10.32" fill="#0000ff"/>
<rect x="674.29" y="601.47" width="8.04" height="10.32" fill="#ffff00"/>
<rect x="122.85" y="612.79" width="8.04" height="10.32" fill="#008080"/>
<rect x="131.89" y="612.79" width="8.04" height="10.32" fill="#008000"/>
<rect x="140.93" y="612.79" width="8.04" height="10.32" fill="#ff0000"/>
<rect x="149.97" y="612.79" width="8.04" height="10.32" fill="#008000"/>
<rect x="159.01" y="612.79" width="8.04" height="10.32" fill="#808000"/>
<rect x="168.05" y="612.79" width="8.04" height="10.32" fill="#ffff00"/>
<rect x="177.09" y="612.79" width="8.04" height="10.32" fill="#ffff00"/>
<rect x="186.13" y="612.79" width="8.04" height="10.32" fill="#008000"/>
<rect x="195.17" y="612.79" width="8.04" height="10.32" fill="#ffff00"/>
<rect x="204.21" y="612.79" width="8.04" height="10.32" fill="#ffff00"/>
<rect x="213.25" y="612.79" width="8.04" height="10.32" fill="#ffff00"/>
<rect x="222.29" y="612.79" width="8.04" height="10.32" fill="#008000"/>
<rect x="231.33" y="612.79" width="8.04" height="10.32" fill="#ff0000"/>
<rect x="249.41" y="612.79" width="8.04" height="10.32" fill="#008080"/>
<rect x="258.45" y="612.79" width="8.04" height="10.32" fill="#ffff00"/>
<rect x="267.49" y="612.79" width="8.04" height="10.32" fill="#ff00ff"/>
<rect x="276.53" y="612.79" width="8.04" height="10.32" fill="#ff00ff"/>
<rect x="285.57" y="612.79" width="8.04" height="10.32" fill="#ffff00"/>
<rect x="294.61" y="612.79" width="8.04" height="10.32" fill="#008000"/>
<rect x="303.65" y="612.79" width="8.04" height="10.32" fill="#ffff00"/>
<rect x="312.69" y="612.79" width="8.04" height="10.32" fill="#ffff00"/>
<rect x="321.73" y="612.79" width="8.04" height="10.32" fill="#00ff00"/>
<rect x="348.85" y="612.79" width="8.04" height="10.32" fill="#008000"/>
<rect x="357.89" y="612.79" width="8.04" height="10.32" fill="#008000"/>
<rect x="366.93" y="612.79" width="8.04" height="10.32" fill="#ffff00"/>
<rect x="375.97" y="612.79" width="8.04" height="10.32" fill="#008000"/>
<rect x="385.01" y="612.79" width="8.04" height="10.32" fill="#ffff00"/>
<rect x="394.05" y="612.79" width="8.04" height="10.32" fill="#ff0000"/>
<rect x="403.09" y="612.79" width="8.04" height="10.32" fill="#ffff00"/>
<rect x="412.13" y="612.79" width="8.04" height="10.32" fill="#008000"/>
<rect x="421.17" y="612.79" width="8.04" height="10.32" fill="#0000ff"/>
<rect x="430.21" y="612.79" width="8.04" height="10.32" fill="#ff0000"/>
<rect x="439.25" y="612.79" width="8.04" height="10.32" fill="#0000ff"/>
<rect x="448.29" y="612.79" width="8.04" height="10.32" fill="#ff00ff"/>
<rect x="457.33" y="612.79" width="8.04" height="10.32" fill="#ffff00"/>
<rect x="466.37" y="612.79" width="8.04" height="10.32" fill="#ffff00"/>
<rect x="475.41" y="612.79" width="8.04" height="10.32" fill="#ffff00"/>
<rect x="484.45" y="612.79" width="8.04" height="10.32" fill="#ffff00"/>
<rect x="493.49" y="612.79" width="8.04" height="10.32" fill="#008000"/>
<rect x="502.53" y="612.79" width="8.04" height="10.32" fill="#ffff00"/>
<rect x="511.57" y="612.79" width="8.04" height="10.32" fill="#ff00ff"/>
<rect x="520.61" y="612.79" width="8.04" height="10.32" fill="#ff0000"/>
<rect x="529.65" y="612.79" width="8.04" height="10.32" fill="#ffff00"/>
<rect x="538.69" y="612.79" width="8.04" height="10.32" fill="#ffff00"/>
<rect x="547.73" y="612.79" width="8.04" height="10.32" fill="#008000"/>
<rect x="556.77" y="612.79" width="8.04" height="10.32" fill="#ffff00"/>
<rect x="565.81" y="612.79" width="8.04" height="10.32" fill="#ffff00"/>
<rect x="574.85" y="612.79" width="8.04" height="10.32" fill="#008000"/>
<rect x="583.89" y="612.79" width="8.04" height="10.32" fill="#008000"/>
<rect x="592.93" y="612.79" width="8.04" height="10.32" fill="#ff0000"/>
<rect x="601.97" y="612.79" width="8.04" height="10.32" fill="#0000ff"/>
<rect x="611.01" y="612.79" width="8.04" height="10.32" fill="#ffff00"/>
<rect x="620.05" y="612.79" width="8.04" height="10.32" fill="#0000ff"/>
<rect x="629.09" y="612.79" width="8.04" height="10.32" fill="#008000"/>
<rect x="638.13" y="612.79" width="8.04" height="10.32" fill="#ffff00"/>
<rect x="647.17" y="612.79" width="8.04" height="10.32" fill="#ff0000"/>
<rect x="656.21" y="612.79" width="8.04" height="10.32" fill="#008080"/>
<rect x="665.25" y="612.79" width="8.04" height="10.32" fill="#0000ff"/>
<rect x="674.29" y="612.79" width="8.04" height="10.32" fill="#ffff00"/>
<rect x="122.85" y="624.11" width="8.04" height="10.32" fill="#008080"/>
<rect x="131.89" y="624.11" width="8.04" height="10.32" fill="#008000"/>
<rect x="140.93" y="624.11" width="8.04" height="10.32" fill="#ff0000"/>
<rect x="149.97" y="624.11" width="8.04" height="10.32" fill="#008000"/>
<rect x="159.01" y="624.11" width="8.04" height="10.32" fill="#ff0000"/>
<rect x="168.05" y="624.11" width="8.04" height="10.32" fill="#ffff00"/>
<rect x="177.09" y="624.11" width="8.04" height="10.32" fill="#ffff00"/>
<rect x="186.13" y="624.11" width="8.04" height="10.32" fill="#008000"/>
<rect x="195.17" y="624.11" width="8.04" height="10.32" fill="#ffff00"/>
<rect x="204.21" y="624.11" width="8.04" height="10.32" fill="#ffff00"/>
<rect x="213.25" y="624.11" width="8.04" height="10.32" fill="#ffff00"/>
<rect x="222.29" y="624.11" width="8.04" height="10.32" fill="#008000"/>
<rect x="231.33" y="624.11" width="8.04" height="10.32" fill="#ff0000"/>
<rect x="249.41" y="624.11" width="8.04" height="10.32" fill="#008080"/>
<rect x="258.45" y="624.11" width="8.04" height="10.32" fill="#ffff00"/>
<rect x="267.49" y="624.11" width="8.04" height="10.32" fill="#ff00ff"/>
<rect x="276.53" y="624.11" width="8.04" height="10.32" fill="#ff00ff"/>
<rect x="285.57" y="624.11" width="8.04" height="10.32" fill="#ffff00"/>
<rect x="294.61" y="624.11" width="8.04" height="10.32" fill="#008000"/>
<rect x="303.65" y="624.11" width="8.04" height="10.32" fill="#ffff00"/>
<rect x="312.69" y="624.11" width="8.04" height="10.32" fill="#ffff00"/>
<rect x="321.73" y="624.11" width="8.04" height="10.32" fill="#00ff00"/>
<rect x="348.85" y="624.11" width="8.04" height="10.32" fill="#008000"/>
<rect x="357.89" y="624.11" width="8.04" height="10.32" fill="#008000"/>
<rect x="366.93" y="624.11" width="8.04" height="10.32" fill="#008080"/>
<rect x="375.97" y="624.11" width="8.04" height="10.32" fill="#008000"/>
<rect x="385.01" y="624.11" width="8.04" height="10.32" fill="#ffff00"/>
<rect x="394.05" y="624.11" width="8.04" height="10.32" fill="#ff0000"/>
<rect x="403.09" y="624.11" width="8.04" height="10.32" fill="#ffff00"/>
<rect x="412.13" y="624.11" width="8.04" height="10.32" fill="#0000ff"/>
<rect x="421.17" y="624.11" width="8.04" height="10.32" fill="#0000ff"/>
<rect x="430.21" y="624.11" width="8.04" height="10.32" fill="#008000"/>
<rect x="439.25" y="624.11" width="8.04" height="10.32" fill="#0000ff"/>
<rect x="448.29" y="624.11" width="8.04" height="10.32" fill="#ff00ff"/>
<rect x="457.33" y="624.11" width="8.04" height="10.32" fill="#ffff00"/>
<rect x="466.37" y="624.11" width="8.04" height="10.32" fill="#ffff00"/>
<rect x="475.41" y="624.11" width="8.04" height="10.32" fill="#ffff00"/>
<rect x="484.45" y="624.11" width="8.04" height="10.32" fill="#ffff00"/>
<rect x="493.49" y="624.11" width="8.04" height="10.32" fill="#008000"/>
<rect x="502.53" y="624.11" width="8.04" height="10.32" fill="#ffff00"/>
<rect x="511.57" y="624.11" width="8.04" height="10.32" fill="#ff00ff"/>
<rect x="520.61" y="624.11" width="8.04" height="10.32" fill="#ff0000"/>
<rect x="529.65" y="624.11" width="8.04" height="10.32" fill="#ffff00"/>
<rect x="538.69" y="624.11" width="8.04" height="10.32" fill="#ffff00"/>
<rect x="547.73" y="624.11" width="8.04" height="10.32" fill="#008000"/>
<rect x="556.77" y="624.11" width="8.04" height="10.32" fill="#ffff00"/>
<rect x="565.81" y="624.11" width="8.04" height="10.32" fill="#ffff00"/>
<rect x="574.85" y="624.11" width="8.04" height="10.32" fill="#008000"/>
<rect x="583.89" y="624.11" width="8.04" height="10.32" fill="#008000"/>
<rect x="592.93" y="624.11" width="8.04" height="10.32" fill="#ff0000"/>
<rect x="601.97" y="624.11" width="8.04" height="10.32" fill="#0000ff"/>
<rect x="611.01" y="624.11" width="8.04" height="10.32" fill="#ffff00"/>
<rect x="620.05" y="624.11" width="8.04" height="10.32" fill="#ffff00"/>
<rect x="629.09" y="624.11" width="8.04" height="10.32" fill="#008000"/>
<rect x="638.13" y="624.11" width="8.04" height="10.32" fill="#ffff00"/>
<rect x="647.17" y="624.11" width="8.04" height="10.32" fill="#ff0000"/>
<rect x="656.21" y="624.11" width="8.04" height="10.32" fill="#008080"/>
<rect x="665.25" y="624.11" width="8.04" height="10.32" fill="#0000ff"/>
<rect x="674.29" y="624.11" width="8.04" height="10.32" fill="#ffff00"/>
<rect x="122.85" y="635.43" width="8.04" height="10.32" fill="#008080"/>
<rect x="131.89" y="635.43" width="8.04" height="10.32" fill="#ffff00"/>
<rect x="140.93" y="635.43" width="8.04" height="10.32" fill="#ff0000"/>
<rect x="149.97" y="635.43" width="8.04" height="10.32" fill="#008000"/>
<rect x="159.01" y="635.43" width="8.04" height="10.32" fill="#ff0000"/>
<rect x="168.05" y="635.43" width="8.04" height="10.32" fill="#ffff00"/>
<rect x="177.09" y="635.43" width="8.04" height="10.32" fill="#ffff00"/>
<rect x="186.13" y="635.43" width="8.04" height="10.32" fill="#008000"/>
<rect x="195.17" y="635.43" width="8.04" height="10.32" fill="#ffff00"/>
<rect x="204.21" y="635.43" width="8.04" height="10.32" fill="#ffff00"/>
<rect x="213.25" y="635.43" width="8.04" height="10.32" fill="#ffff00"/>
<rect x="222.29" y="635.43" width="8.04" height="10.32" fill="#008000"/>
<rect x="231.33" y="635.43" width="8.04" height="10.32" fill="#ff0000"/>
<rect x="249.41" y="635.43" width="8.04" height="10.32" fill="#008000"/>
<rect x="258.45" y="635.43" width="8.04" height="10.32" fill="#ffff00"/>
<rect x="267.49" y="635.43" width="8.04" height="10.32" fill="#ff00ff"/>
<rect x="276.53" y="635.43" width="8.04" height="10.32" fill="#ff00ff"/>
<rect x="285.57" y="635.43" width="8.04" height="10.32" fill="#ffff00"/>
<rect x="294.61" y="635.43" width="8.04" height="10.32" fill="#008000"/>
<rect x="303.65" y="635.43" width="8.04" height="10.32" fill="#ffff00"/>
<rect x="312.69" y="635.43" width="8.04" height="10.32" fill="#ffff00"/>
<rect x="321.73" y="635.43" width="8.04" height="10.32" fill="#008080"/>
<rect x="348.85" y="635.43" width="8.04" height="10.32" fill="#008000"/>
<rect x="357.89" y="635.43" width="8.04" height="10.32" fill="#ff00ff"/>
<rect x="366.93" y="635.43" width="8.04" height="10.32" fill="#008000"/>
<rect x="375.97" y="635.43" width="8.04" height="10.32" fill="#008000"/>
<rect x="385.01" y="635.43" width="8.04" height="10.32" fill="#ffff00"/>
<rect x="394.05" y="635.43" width="8.04" height="10.32" fill="#ff0000"/>
<rect x="403.09" y="635.43" width="8.04" height="10.32" fill="#ffff00"/>
<rect x="412.13" y="635.43" width="8.04" height="10.32" fill="#0000ff"/>
<rect x="421.17" y="635.43" width="8.04" height="10.32" fill="#0000ff"/>
<rect x="430.21" y="635.43" width="8.04" height="10.32" fill="#ffff00"/>
<rect x="439.25" y="635.43" width="8.04" height="10.32" fill="#0000ff"/>
<rect x="448.29" y="635.43" width="8.04" height="10.32" fill="#ff00ff"/>
<rect x="457.33" y="635.43" width="8.04" height="10.32" fill="#ffff00"/>
<rect x="466.37" y="635.43" width="8.04" height="10.32" fill="#ffff00"/>
<rect x="475.41" y="635.43" width="8.04" height="10.32" fill="#ffff00"/>
<rect x="484.45" y="635.43" width="8.04" height="10.32" fill="#ffff00"/>
<rect x="493.49" y="635.43" width="8.04" height="10.32" fill="#008000"/>
<rect x="502.53" y="635.43" width="8.04" height="10.32" fill="#ffff00"/>
<rect x="511.57" y="635.43" width="8.04" height="10.32" fill="#ff00ff"/>
<rect x="520.61" y="635.43" width="8.04" height="10.32" fill="#ff0000"/>
<rect x="529.65" y="635.43" width="8.04" height="10.32" fill="#ffff00"/>
<rect x="538.69" y="635.43" width="8.04" height="10.32" fill="#ffff00"/>
<rect x="547.73" y="635.43" width="8.04" height="10.32" fill="#008000"/>
<rect x="556.77" y="635.43" width="8.04" height="10.32" fill="#ffff00"/>
<rect x="565.81" y="635.43" width="8.04" height="10.32" fill="#ffff00"/>
<rect x="574.85" y="635.43" width="8.04" height="10.32" fill="#008000"/>
<rect x="583.89" y="635.43" width="8.04" height="10.32" fill="#008000"/>
<rect x="592.93" y="635.43" width="8.04" height="10.32" fill="#ff0000"/>
<rect x="601.97" y="635.43" width="8.04" height="10.32" fill="#0000ff"/>
<rect x="611.01" y="635.43" width="8.04" height="10.32" fill="#ffff00"/>
<rect x="620.05" y="635.43" width="8.04" height="10.32" fill="#0000ff"/>
<rect x="629.09" y="635.43" width="8.04" height="10.32" fill="#008000"/>
<rect x="638.13" y="635.43" width="8.04" height="10.32" fill="#ffff00"/>
<rect x="647.17" y="635.43" width="8.04" height="10.32" fill="#ff0000"/>
<rect x="656.21" y="635.43" width="8.04" height="10.32" fill="#008080"/>
<rect x="665.25" y="635.43" width="8.04" height="10.32" fill="#0000ff"/>
<rect x="674.29" y="635.43" width="8.04" height="10.32" fill="#ffff00"/>
<rect x="122.85" y="646.75" width="8.04" height="10.32" fill="#008080"/>
<rect x="131.89" y="646.75" width="8.04" height="10.32" fill="#ffff00"/>
<rect x="140.93" y="646.75" width="8.04" height="10.32" fill="#ff0000"/>
<rect x="149.97" y="646.75" width="8.04" height="10.32" fill="#ff0000"/>
<rect x="159.01" y="646.75" width="8.04" height="10.32" fill="#ff00ff"/>
<rect x="168.05" y="646.75" width="8.04" height="10.32" fill="#ffff00"/>
<rect x="177.09" y="646.75" width="8.04" height="10.32" fill="#ffff00"/>
<rect x="186.13" y="646.75" width="8.04" height="10.32" fill="#008000"/>
<rect x="195.17" y="646.75" width="8.04" height="10.32" fill="#ffff00"/>
<rect x="204.21" y="646.75" width="8.04" height="10.32" fill="#ffff00"/>
<rect x="213.25" y="646.75" width="8.04" height="10.32" fill="#ffff00"/>
<rect x="222.29" y="646.75" width="8.04" height="10.32" fill="#008000"/>
<rect x="231.33" y="646.75" width="8.04" height="10.32" fill="#ff0000"/>
<rect x="249.41" y="646.75" width="8.04" height="10.32" fill="#008080"/>
<rect x="258.45" y="646.75" width="8.04" height="10.32" fill="#ffff00"/>
<rect x="267.49" y="646.75" width="8.04" height="10.32" fill="#ff00ff"/>
<rect x="276.53" y="646.75" width="8.04" height="10.32" fill="#ff00ff"/>
<rect x="285.57" y="646.75" width="8.04" height="10.32" fill="#ffff00"/>
<rect x="294.61" y="646.75" width="8.04" height="10.32" fill="#008000"/>
<rect x="303.65" y="646.75" width="8.04" height="10.32" fill="#ffff00"/>
<rect x="312.69" y="646.75" width="8.04" height="10.32" fill="#ffff00"/>
<rect x="321.73" y="646.75" width="8.04" height="10.32" fill="#008080"/>
<rect x="348.85" y="646.75" width="8.04" height="10.32" fill="#0000ff"/>
<rect x="357.89" y="646.75" width="8.04" height="10.32" fill="#008000"/>
<rect x="366.93" y="646.75" width="8.04" height="10.32" fill="#008080"/>
<rect x="375.97" y="646.75" width="8.04" height="10.32" fill="#008000"/>
<rect x="385.01" y="646.75" width="8.04" height="10.32" fill="#ffff00"/>
<rect x="394.05" y="646.75" width="8.04" height="10.32" fill="#ff0000"/>
<rect x="403.09" y="646.75" width="8.04" height="10.32" fill="#ffff00"/>
<rect x="412.13" y="646.75" width="8.04" height="10.32" fill="#0000ff"/>
<rect x="421.17" y="646.75" width="8.04" height="10.32" fill="#0000ff"/>
<rect x="430.21" y="646.75" width="8.04" height="10.32" fill="#008000"/>
<rect x="439.25" y="646.75" width="8.04" height="10.32" fill="#0000ff"/>
<rect x="448.29" y="646.75" width="8.04" height="10.32" fill="#ff00ff"/>
<rect x="457.33" y="646.75" width="8.04" height="10.32" fill="#ffff00"/>
<rect x="466.37" y="646.75" width="8.04" height="10.32" fill="#ffff00"/>
<rect x="475.41" y="646.75" width="8.04" height="10.32" fill="#ffff00"/>
<rect x="484.45" y="646.75" width="8.04" height="10.32" fill="#ffff00"/>
<rect x="493.49" y="646.75" width="8.04" height="10.32" fill="#008000"/>
<rect x="502.53" y="646.75" width="8.04" height="10.32" fill="#ffff00"/>
<rect x="511.57" y="646.75" width="8.04" height="10.32" fill="#ffff00"/>
<rect x="520.61" y="646.75" width="8.04" height="10.32" fill="#ff0000"/>
<rect x="529.65" y="646.75" width="8.04" height="10.32" fill="#ffff00"/>
<rect x="538.69" y="646.75" width="8.04" height="10.32" fill="#ffff00"/>
<rect x="547.73" y="646.75" width="8.04" height="10.32" fill="#008000"/>
<rect x="556.77" y="646.75" width="8.04" height="10.32" fill="#ffff00"/>
<rect x="565.81" y="646.75" width="8.04" height="10.32" fill="#ffff00"/>
<rect x="574.85" y="646.75" width="8.04" height="10.32" fill="#008000"/>
<rect x="583.89" y="646.75" width="8.04" height="10.32" fill="#008000"/>
<rect x="592.93" y="646.75" width="8.04" height="10.32" fill="#ff0000"/>
<rect x="601.97" y="646.75" width="8.04" height="10.32" fill="#0000ff"/>
<rect x="611.01" y="646.75" width="8.04" height="10.32" fill="#ffff00"/>
<rect x="620.05" y="646.75" width="8.04" height="10.32" fill="#0000ff"/>
<rect x="629.09" y="646.75" width="8.04" height="10.32" fill="#008000"/>
<rect x="638.13" y="646.75" width="8.04" height="10.32" fill="#ffff00"/>
<rect x="647.17" y="646.75" width="8.04" height="10.32" fill="#ff0000"/>
<rect x="656.21" y="646.75" width="8.04" height="10.32" fill="#008080"/>
<rect x="665.25" y="646.75" width="8.04" height="10.32" fill="#0000ff"/>
<rect x="674.29" y="646.75" width="8.04" height="10.32" fill="#ffff00"/>
<rect x="122.85" y="658.07" width="8.04" height="10.32" fill="#008080"/>
<rect x="131.89" y="658.07" width="8.04" height="10.32" fill="#ffff00"/>
<rect x="140.93" y="658.07" width="8.04" height="10.32" fill="#ff0000"/>
<rect x="149.97" y="658.07" width="8.04" height="10.32" fill="#008000"/>
<rect x="159.01" y="658.07" width="8.04" height="10.32" fill="#ffff00"/>
<rect x="168.05" y="658.07" width="8.04" height="10.32" fill="#ffff00"/>
<rect x="177.09" y="658.07" width="8.04" height="10.32" fill="#ffff00"/>
<rect x="186.13" y="658.07" width="8.04" height="10.32" fill="#008000"/>
<rect x="195.17" y="658.07" width="8.04" height="10.32" fill="#ffff00"/>
<rect x="204.21" y="658.07" width="8.04" height="10.32" fill="#ffff00"/>
<rect x="213.25" y="658.07" width="8.04" height="10.32" fill="#ffff00"/>
<rect x="222.29" y="658.07" width="8.04" height="10.32" fill="#008000"/>
<rect x="231.33" y="658.07" width="8.04" height="10.32" fill="#ff0000"/>
<rect x="249.41" y="658.07" width="8.04" height="10.32" fill="#008000"/>
<rect x="258.45" y="658.07" width="8.04" height="10.32" fill="#ffff00"/>
<rect x="267.49" y="658.07" width="8.04" height="10.32" fill="#ff00ff"/>
<rect x="276.53" y="658.07" width="8.04" height="10.32" fill="#ff00ff"/>
<rect x="285.57" y="658.07" width="8.04" height="10.32" fill="#ffff00"/>
<rect x="294.61" y="658.07" width="8.04" height="10.32" fill="#008000"/>
<rect x="303.65" y="658.07" width="8.04" height="10.32" fill="#ffff00"/>
<rect x="312.69" y="658.07" width="8.04" height="10.32" fill="#ffff00"/>
<rect x="321.73" y="658.07" width="8.04" height="10.32" fill="#008080"/>
<rect x="348.85" y="658.07" width="8.04" height="10.32" fill="#008000"/>
<rect x="357.89" y="658.07" width="8.04" height="10.32" fill="#ff0000"/>
<rect x="366.93" y="658.07" width="8.04" height="10.32" fill="#008080"/>
<rect x="375.97" y="658.07" width="8.04" height="10.32" fill="#008000"/>
<rect x="385.01" y="658.07" width="8.04" height="10.32" fill="#ffff00"/>
<rect x="394.05" y="658.07" width="8.04" height="10.32" fill="#ff0000"/>
<rect x="403.09" y="658.07" width="8.04" height="10.32" fill="#ffff00"/>
<rect x="412.13" y="658.07" width="8.04" height="10.32" fill="#0000ff"/>
<rect x="421.17" y="658.07" width="8.04" height="10.32" fill="#0000ff"/>
<rect x="430.21" y="658.07" width="8.04" height="10.32" fill="#008000"/>
<rect x="439.25" y="658.07" width="8.04" height="10.32" fill="#0000ff"/>
<rect x="448.29" y="658.07" width="8.04" height="10.32" fill="#ff00ff"/>
<rect x="457.33" y="658.07" width="8.04" height="10.32" fill="#ffff00"/>
<rect x="466.37" y="658.07" width="8.04" height="10.32" fill="#ffff00"/>
<rect x="475.41" y="658.07" width="8.04" height="10.32" fill="#ffff00"/>
<rect x="484.45" y="658.07" width="8.04" height="10.32" fill="#ffff00"/>
<rect x="493.49" y="658.07" width="8.04" height="10.32" fill="#008000"/>
<rect x="502.53" y="658.07" width="8.04" height="10.32" fill="#ffff00"/>
<rect x="511.57" y="658.07" width="8.04" height="10.32" fill="#ff00ff"/>
<rect x="520.61" y="658.07" width="8.04" height="10.32" fill="#ff0000"/>
<rect x="529.65" y="658.07" width="8.04" height="10.32" fill="#008080"/>
<rect x="538.69" y="658.07" width="8.04" height="10.32" fill="#ffff00"/>
<rect x="547.73" y="658.07" width="8.04" height="10.32" fill="#008000"/>
<rect x="556.77" y="658.07" width="8.04" height="10.32" fill="#ffff00"/>
<rect x="565.81" y="658.07" width="8.04" height="10.32" fill="#ffff00"/>
<rect x="574.85" y="658.07" width="8.04" height="10.32" fill="#008000"/>
<rect x="583.89" y="658.07" width="8.04" height="10.32" fill="#008000"/>
<rect x="592.93" y="658.07" width="8.04" height="10.32" fill="#ff0000"/>
<rect x="601.97" y="658.07" width="8.04" height="10.32" fill="#0000ff"/>
<rect x="611.01" y="658.07" width="8.04" height="10.32" fill="#ffff00"/>
<rect x="620.05" y="658.07" width="8.04" height="10.32" fill="#ffff00"/>
<rect x="629.09" y="658.07" width="8.04" height="10.32" fill="#008000"/>
<rect x="638.13" y="658.07" width="8.04" height="10.32" fill="#ffff00"/>
<rect x="647.17" y="658.07" width="8.04" height="10.32" fill="#ff0000"/>
<rect x="656.21" y="658.07" width="8.04" height="10.32" fill="#008080"/>
<rect x="665.25" y="658.07" width="8.04" height="10.32" fill="#0000ff"/>
<rect x="674.29" y="658.07" width="8.04" height="10.32" fill="#ffff00"/>
<rect x="122.85" y="669.39" width="8.04" height="10.32" fill="#008080"/>
<rect x="131.89" y="669.39" width="8.04" height="10.32" fill="#008000"/>
<rect x="140.93" y="669.39" width="8.04" height="10.32" fill="#ff0000"/>
<rect x="149.97" y="669.39" width="8.04" height="10.32" fill="#0000ff"/>
<rect x="159.01" y="669.39" width="8.04" height="10.32" fill="#ff0000"/>
<rect x="168.05" y="669.39" width="8.04" height="10.32" fill="#ffff00"/>
<rect x="177.09" y="669.39" width="8.04" height="10.32" fill="#ffff00"/>
<rect x="186.13" y="669.39" width="8.04" height="10.32" fill="#008000"/>
<rect x="195.17" y="669.39" width="8.04" height="10.32" fill="#ffff00"/>
<rect x="204.21" y="669.39" width="8.04" height="10.32" fill="#ffff00"/>
<rect x="213.25" y="669.39" width="8.04" height="10.32" fill="#ffff00"/>
<rect x="222.29" y="669.39" width="8.04" height="10.32" fill="#008000"/>
<rect x="231.33" y="669.39" width="8.04" height="10.32" fill="#ff0000"/>
<rect x="249.41" y="669.39" width="8.04" height="10.32" fill="#008080"/>
<rect x="258.45" y="669.39" width="8.04" height="10.32" fill="#ffff00"/>
<rect x="267.49" y="669.39" width="8.04" height="10.32" fill="#ff00ff"/>
<rect x="276.53" y="669.39" width="8.04" height="10.32" fill="#ff00ff"/>
<rect x="285.57" y="669.39" width="8.04" height="10.32" fill="#ffff00"/>
<rect x="294.61" y="669.39" width="8.04" height="10.32" fill="#008000"/>
<rect x="303.65" y="669.39" width="8.04" height="10.32" fill="#ffff00"/>
<rect x="312.69" y="669.39" width="8.04" height="10.32" fill="#ffff00"/>
<rect x="321.73" y="669.39" width="8.04" height="10.32" fill="#008080"/>
<rect x="348.85" y="669.39" width="8.04" height="10.32" fill="#008000"/>
<rect x="357.89" y="669.39" width="8.04" height="10.32" fill="#008000"/>
<rect x="366.93" y="669.39" width="8.04" height="10.32" fill="#008000"/>
<rect x="375.97" y="669.39" width="8.04" height="10.32" fill="#008000"/>
<rect x="385.01" y="669.39" width="8.04" height="10.32" fill="#ffff00"/>
<rect x="394.05" y="669.39" width="8.04" height="10.32" fill="#ff0000"/>
<rect x="403.09" y="669.39" width="8.04" height="10.32" fill="#ffff00"/>
<rect x="412.13" y="669.39" width="8.04" height="10.32" fill="#0000ff"/>
<rect x="421.17" y="669.39" width="8.04" height="10.32" fill="#0000ff"/>
<rect x="430.21" y="669.39" width="8.04" height="10.32" fill="#ffff00"/>
<rect x="439.25" y="669.39" width="8.04" height="10.32" fill="#ffff00"/>
<rect x="448.29" y="669.39" width="8.04" height="10.32" fill="#ff00ff"/>
<rect x="457.33" y="669.39" width="8.04" height="10.32" fill="#ffff00"/>
<rect x="466.37" y="669.39" width="8.04" height="10.32" fill="#ffff00"/>
<rect x="475.41" y="669.39" width="8.04" height="10.32" fill="#ffff00"/>
<rect x="484.45" y="669.39" width="8.04" height="10.32" fill="#ffff00"/>
<rect x="493.49" y="669.39" width="8.04" height="10.32" fill="#008000"/>
<rect x="502.53" y="669.39" width="8.04" height="10.32" fill="#ffff00"/>
<rect x="511.57" y="669.39" width="8.04" height="10.32" fill="#ff00ff"/>
<rect x="520.61" y="669.39" width="8.04" height="10.32" fill="#ff0000"/>
<rect x="529.65" y="669.39" width="8.04" height="10.32" fill="#ffff00"/>
<rect x="538.69" y="669.39" width="8.04" height="10.32" fill="#ffff00"/>
<rect x="547.73" y="669.39" width="8.04" height="10.32" fill="#008000"/>
<rect x="556.77" y="669.39" width="8.04" height="10.32" fill="#ffff00"/>
<rect x="565.81" y="669.39" width="8.04" height="10.32" fill="#ffff00"/>
<rect x="574.85" y="669.39" width="8.04" height="10.32" fill="#008000"/>
<rect x="583.89" y="669.39" width="8.04" height="10.32" fill="#008000"/>
<rect x="592.93" y="669.39" width="8.04" height="10.32" fill="#ff0000"/>
<rect x="601.97" y="669.39" width="8.04" height="10.32" fill="#0000ff"/>
<rect x="611.01" y="669.39" width="8.04" height="10.32" fill="#ffff00"/>
<rect x="620.05" y="669.39" width="8.04" height="10.32" fill="#0000ff"/>
<rect x="629.09" y="669.39" width="8.04" height="10.32" fill="#008000"/>
<rect x="638.13" y="669.39" width="8.04" height="10.32" fill="#ffff00"/>
<rect x="647.17" y="669.39" width="8.04" height="10.32" fill="#ff0000"/>
<rect x="656.21" y="669.39" width="8.04" height="10.32" fill="#008080"/>
<rect x="665.25" y="669.39" width="8.04" height="10.32" fill="#0000ff"/>
<rect x="674.29" y="669.39" width="8.04" height="10.32" fill="#ffff00"/>
<rect x="122.85" y="680.71" width="8.04" height="10.32" fill="#008080"/>
<rect x="131.89" y="680.71" width="8.04" height="10.32" fill="#008000"/>
<rect x="140.93" y="680.71" width="8.04" height="10.32" fill="#ff0000"/>
<rect x="149.97" y="680.71" width="8.04" height="10.32" fill="#008000"/>
<rect x="159.01" y="680.71" width="8.04" height="10.32" fill="#ff00ff"/>
<rect x="168.05" y="680.71" width="8.04" height="10.32" fill="#ffff00"/>
<rect x="177.09" y="680.71" width="8.04" height="10.32" fill="#ffff00"/>
<rect x="186.13" y="680.71" width="8.04" height="10.32" fill="#008000"/>
<rect x="195.17" y="680.71" width="8.04" height="10.32" fill="#ffff00"/>
<rect x="204.21" y="680.71" width="8.04" height="10.32" fill="#ffff00"/>
<rect x="213.25" y="680.71" width="8.04" height="10.32" fill="#ffff00"/>
<rect x="222.29" y="680.71" width="8.04" height="10.32" fill="#008000"/>
<rect x="231.33" y="680.71" width="8.04" height="10.32" fill="#ff0000"/>
<rect x="249.41" y="680.71" width="8.04" height="10.32" fill="#ff0000"/>
<rect x="258.45" y="680.71" width="8.04" height="10.32" fill="#ffff00"/>
<rect x="267.49" y="680.71" width="8.04" height="10.32" fill="#ff00ff"/>
<rect x="276.53" y="680.71" width="8.04" height="10.32" fill="#ff00ff"/>
<rect x="285.57" y="680.71" width="8.04" height="10.32" fill="#ffff00"/>
<rect x="294.61" y="680.71" width="8.04" height="10.32" fill="#008000"/>
<rect x="303.65" y="680.71" width="8.04" height="10.32" fill="#ffff00"/>
<rect x="312.69" y="680.71" width="8.04" height="10.32" fill="#ffff00"/>
<rect x="321.73" y="680.71" width="8.04" height="10.32" fill="#008080"/>
<rect x="348.85" y="680.71" width="8.04" height="10.32" fill="#ff0000"/>
<rect x="357.89" y="680.71" width="8.04" height="10.32" fill="#ff0000"/>
<rect x="366.93" y="680.71" width="8.04" height="10.32" fill="#0000ff"/>
<rect x="375.97" y="680.71" width="8.04" height="10.32" fill="#008000"/>
<rect x="385.01" y="680.71" width="8.04" height="10.32" fill="#ffff00"/>
<rect x="394.05" y="680.71" width="8.04" height="10.32" fill="#ff0000"/>
<rect x="403.09" y="680.71" width="8.04" height="10.32" fill="#ffff00"/>
<rect x="412.13" y="680.71" width="8.04" height="10.32" fill="#008000"/>
<rect x="421.17" y="680.71" width="8.04" height="10.32" fill="#0000ff"/>
<rect x="430.21" y="680.71" width="8.04" height="10.32" fill="#ffff00"/>
<rect x="439.25" y="680.71" width="8.04" height="10.32" fill="#0000ff"/>
<rect x="448.29" y="680.71" width="8.04" height="10.32" fill="#ff00ff"/>
<rect x="457.33" y="680.71" width="8.04" height="10.32" fill="#ffff00"/>
<rect x="466.37" y="680.71" width="8.04" height="10.32" fill="#ffff00"/>
<rect x="475.41" y="680.71" width="8.04" height="10.32" fill="#008000"/>
<rect x="484.45" y="680.71" width="8.04" height="10.32" fill="#ffff00"/>
<rect x="493.49" y="680.71" width="8.04" height="10.32" fill="#008000"/>
<rect x="502.53" y="680.71" width="8.04" height="10.32" fill="#ffff00"/>
<rect x="511.57" y="680.71" width="8.04" height="10.32" fill="#ff00ff"/>
<rect x="520.61" y="680.71" width="8.04" height="10.32" fill="#ff0000"/>
<rect x="529.65" y="680.71" width="8.04" height="10.32" fill="#ffff00"/>
<rect x="538.69" y="680.71" width="8.04" height="10.32" fill="#ffff00"/>
<rect x="547.73" y="680.71" width="8.04" height="10.32" fill="#008000"/>
<rect x="556.77" y="680.71" width="8.04" height="10.32" fill="#ffff00"/>
<rect x="565.81" y="680.71" width="8.04" height="10.32" fill="#ffff00"/>
<rect x="574.85" y="680.71" width="8.04" height="10.32" fill="#008000"/>
<rect x="583.89" y="680.71" width="8.04" height="10.32" fill="#008000"/>
<rect x="592.93" y="680.71" width="8.04" height="10.32" fill="#ff0000"/>
<rect x="601.97" y="680.71" width="8.04" height="10.32" fill="#ff00ff"/>
<rect x="611.01" y="680.71" width="8.04" height="10.32" fill="#ffff00"/>
<rect x="620.05" y="680.71" width="8.04" height="10.32" fill="#008000"/>
<rect x="629.09" y="680.71" width="8.04" height="10.32" fill="#008000"/>
<rect x="638.13" y="680.71" width="8.04" height="10.32" fill="#ffff00"/>
<rect x="647.17" y="680.71" width="8.04" height="10.32" fill="#ff0000"/>
<rect x="656.21" y="680.71" width="8.04" height="10.32" fill="#008080"/>
<rect x="665.25" y="680.71" width="8.04" height="10.32" fill="#0000ff"/>
<rect x="674.29" y="680.71" width="8.04" height="10.32" fill="#ffff00"/>
<rect x="122.85" y="692.03" width="8.04" height="10.32" fill="#008080"/>
<rect x="131.89" y="692.03" width="8.04" height="10.32" fill="#008000"/>
<rect x="140.93" y="692.03" width="8.04" height="10.32" fill="#ff0000"/>
<rect x="149.97" y="692.03" width="8.04" height="10.32" fill="#008000"/>
<rect x="159.01" y="692.03" width="8.04" height="10.32" fill="#ff00ff"/>
<rect x="168.05" y="692.03" width="8.04" height="10.32" fill="#ffff00"/>
<rect x="177.09" y="692.03" width="8.04" height="10.32" fill="#ffff00"/>
<rect x="186.13" y="692.03" width="8.04" height="10.32" fill="#008000"/>
<rect x="195.17" y="692.03" width="8.04" height="10.32" fill="#ffff00"/>
<rect x="204.21" y="692.03" width="8.04" height="10.32" fill="#ffff00"/>
<rect x="213.25" y="692.03" width="8.04" height="10.32" fill="#ffff00"/>
<rect x="222.29" y="692.03" width="8.04" height="10.32" fill="#008000"/>
<rect x="231.33" y="692.03" width="8.04" height="10.32" fill="#ff0000"/>
<rect x="249.41" y="692.03" width="8.04" height="10.32" fill="#ff0000"/>
<rect x="258.45" y="692.03" width="8.04" height="10.32" fill="#ffff00"/>
<rect x="267.49" y="692.03" width="8.04" height="10.32" fill="#ff00ff"/>
<rect x="276.53" y="692.03" width="8.04" height="10.32" fill="#ff00ff"/>
<rect x="285.57" y="692.03" width="8.04" height="10.32" fill="#ffff00"/>
<rect x="294.61" y="692.03" width="8.04" height="10.32" fill="#008000"/>
<rect x="303.65" y="692.03" width="8.04" height="10.32" fill="#ffff00"/>
<rect x="312.69" y="692.03" width="8.04" height="10.32" fill="#ffff00"/>
<rect x="321.73" y="692.03" width="8.04" height="10.32" fill="#008080"/>
<rect x="348.85" y="692.03" width="8.04" height="10.32" fill="#ff0000"/>
<rect x="357.89" y="692.03" width="8.04" height="10.32" fill="#ff0000"/>
<rect x="366.93" y="692.03" width="8.04" height="10.32" fill="#0000ff"/>
<rect x="375.97" y="692.03" width="8.04" height="10.32" fill="#008000"/>
<rect x="385.01" y="692.03" width="8.04" height="10.32" fill="#ffff00"/>
<rect x="394.05" y="692.03" width="8.04" height="10.32" fill="#ff0000"/>
<rect x="403.09" y="692.03" width="8.04" height="10.32" fill="#ffff00"/>
<rect x="412.13" y="692.03" width="8.04" height="10.32" fill="#008000"/>
<rect x="421.17" y="692.03" width="8.04" height="10.32" fill="#0000ff"/>
<rect x="430.21" y="692.03" width="8.04" height="10.32" fill="#008000"/>
<rect x="439.25" y="692.03" width="8.04" height="10.32" fill="#0000ff"/>
<rect x="448.29" y="692.03" width="8.04" height="10.32" fill="#ff00ff"/>
<rect x="457.33" y="692.03" width="8.04" height="10.32" fill="#ffff00"/>
<rect x="466.37" y="692.03" width="8.04" height="10.32" fill="#ffff00"/>
<rect x="475.41" y="692.03" width="8.04" height="10.32" fill="#ffff00"/>
<rect x="484.45" y="692.03" width="8.04" height="10.32" fill="#ffff00"/>
<rect x="493.49" y="692.03" width="8.04" height="10.32" fill="#008000"/>
<rect x="502.53" y="692.03" width="8.04" height="10.32" fill="#ffff00"/>
<rect x="511.57" y="692.03" width="8.04" height="10.32" fill="#ff00ff"/>
<rect x="520.61" y="692.03" width="8.04" height="10.32" fill="#ff0000"/>
<rect x="529.65" y="692.03" width="8.04" height="10.32" fill="#ffff00"/>
<rect x="538.69" y="692.03" width="8.04" height="10.32" fill="#ffff00"/>
<rect x="547.73" y="692.03" width="8.04" height="10.32" fill="#008000"/>
<rect x="556.77" y="692.03" width="8.04" height="10.32" fill="#ffff00"/>
<rect x="565.81" y="692.03" width="8.04" height="10.32" fill="#ffff00"/>
<rect x="574.85" y="692.03" width="8.04" height="10.32" fill="#008000"/>
<rect x="583.89" y="692.03" width="8.04" height="10.32" fill="#008000"/>
<rect x="592.93" y="692.03" width="8.04" height="10.32" fill="#ff0000"/>
<rect x="601.97" y="692.03" width="8.04" height="10.32" fill="#0000ff"/>
<rect x="611.01" y="692.03" width="8.04" height="10.32" fill="#ffff00"/>
<rect x="620.05" y="692.03" width="8.04" height="10.32" fill="#0000ff"/>
<rect x="629.09" y="692.03" width="8.04" height="10.32" fill="#008000"/>
<rect x="638.13" y="692.03" width="8.04" height="10.32" fill="#ffff00"/>
<rect x="647.17" y="692.03" width="8.04" height="10.32" fill="#ff0000"/>
<rect x="656.21" y="692.03" width="8.04" height="10.32" fill="#008080"/>
<rect x="665.25" y="692.03" width="8.04" height="10.32" fill="#0000ff"/>
<rect x="674.29" y="692.03" width="8.04" height="10.32" fill="#ffff00"/>
<rect x="122.85" y="703.35" width="8.04" height="10.32" fill="#008080"/>
<rect x="131.89" y="703.35" width="8.04" height="10.32" fill="#008000"/>
<rect x="140.93" y="703.35" width="8.04" height="10.32" fill="#ff0000"/>
<rect x="149.97" y="703.35" width="8.04" height="10.32" fill="#008000"/>
<rect x="159.01" y="703.35" width="8.04" height="10.32" fill="#ff00ff"/>
<rect x="168.05" y="703.35" width="8.04" height="10.32" fill="#ffff00"/>
<rect x="177.09" y="703.35" width="8.04" height="10.32" fill="#ffff00"/>
<rect x="186.13" y="703.35" width="8.04" height="10.32" fill="#008000"/>
<rect x="195.17" y="703.35" width="8.04" height="10.32" fill="#ffff00"/>
<rect x="204.21" y="703.35" width="8.04" height="10.32" fill="#ffff00"/>
<rect x="213.25" y="703.35" width="8.04" height="10.32" fill="#ffff00"/>
<rect x="222.29" y="703.35" width="8.04" height="10.32" fill="#008000"/>
<rect x="231.33" y="703.35" width="8.04" height="10.32" fill="#ff0000"/>
<rect x="249.41" y="703.35" width="8.04" height="10.32" fill="#ff0000"/>
<rect x="258.45" y="703.35" width="8.04" height="10.32" fill="#ffff00"/>
<rect x="267.49" y="703.35" width="8.04" height="10.32" fill="#ff00ff"/>
<rect x="276.53" y="703.35" width="8.04" height="10.32" fill="#ff00ff"/>
<rect x="285.57" y="703.35" width="8.04" height="10.32" fill="#ffff00"/>
<rect x="294.61" y="703.35" width="8.04" height="10.32" fill="#008000"/>
<rect x="303.65" y="703.35" width="8.04" height="10.32" fill="#ffff00"/>
<rect x="312.69" y="703.35" width="8.04" height="10.32" fill="#ffff00"/>
<rect x="321.73" y="703.35" width="8.04" height="10.32" fill="#008080"/>
<rect x="348.85" y="703.35" width="8.04" height="10.32" fill="#ff0000"/>
<rect x="357.89" y="703.35" width="8.04" height="10.32" fill="#ff0000"/>
<rect x="366.93" y="703.35" width="8.04" height="10.32" fill="#008000"/>
<rect x="375.97" y="703.35" width="8.04" height="10.32" fill="#008000"/>
<rect x="385.01" y="703.35" width="8.04" height="10.32" fill="#ffff00"/>
<rect x="394.05" y="703.35" width="8.04" height="10.32" fill="#ff0000"/>
<rect x="403.09" y="703.35" width="8.04" height="10.32" fill="#ffff00"/>
<rect x="412.13" y="703.35" width="8.04" height="10.32" fill="#008000"/>
<rect x="421.17" y="703.35" width="8.04" height="10.32" fill="#0000ff"/>
<rect x="430.21" y="703.35" width="8.04" height="10.32" fill="#008000"/>
<rect x="439.25" y="703.35" width="8.04" height="10.32" fill="#0000ff"/>
<rect x="448.29" y="703.35" width="8.04" height="10.32" fill="#ff00ff"/>
<rect x="457.33" y="703.35" width="8.04" height="10.32" fill="#ffff00"/>
<rect x="466.37" y="703.35" width="8.04" height="10.32" fill="#ffff00"/>
<rect x="475.41" y="703.35" width="8.04" height="10.32" fill="#ffff00"/>
<rect x="484.45" y="703.35" width="8.04" height="10.32" fill="#ffff00"/>
<rect x="493.49" y="703.35" width="8.04" height="10.32" fill="#008000"/>
<rect x="502.53" y="703.35" width="8.04" height="10.32" fill="#ffff00"/>
<rect x="511.57" y="703.35" width="8.04" height="10.32" fill="#ffff00"/>
<rect x="520.61" y="703.35" width="8.04" height="10.32" fill="#ff0000"/>
<rect x="529.65" y="703.35" width="8.04" height="10.32" fill="#ffff00"/>
<rect x="538.69" y="703.35" width="8.04" height="10.32" fill="#ffff00"/>
<rect x="547.73" y="703.35" width="8.04" height="10.32" fill="#008000"/>
<rect x="556.77" y="703.35" width="8.04" height="10.32" fill="#ffff00"/>
<rect x="565.81" y="703.35" width="8.04" height="10.32" fill="#ffff00"/>
<rect x="574.85" y="703.35" width="8.04" height="10.32" fill="#008000"/>
<rect x="583.89" y="703.35" width="8.04" height="10.32" fill="#008000"/>
<rect x="592.93" y="703.35" width="8.04" height="10.32" fill="#ff0000"/>
<rect x="601.97" y="703.35" width="8.04" height="10.32" fill="#ffff00"/>
<rect x="611.01" y="703.35" width="8.04" height="10.32" fill="#ffff00"/>
<rect x="620.05" y="703.35" width="8.04" height="10.32" fill="#0000ff"/>
<rect x="629.09" y="703.35" width="8.04" height="10.32" fill="#008000"/>
<rect x="638.13" y="703.35" width="8.04" height="10.32" fill="#ffff00"/>
<rect x="647.17" y="703.35" width="8.04" height="10.32" fill="#ff0000"/>
<rect x="656.21" y="703.35" width="8.04" height="10.32" fill="#008080"/>
<rect x="665.25" y="703.35" width="8.04" height="10.32" fill="#0000ff"/>
<rect x="674.29" y="703.35" width="8.04" height="10.32" fill="#ffff00"/>
<rect x="122.85" y="714.67" width="8.04" height="10.32" fill="#008080"/>
<rect x="131.89" y="714.67" width="8.04" height="10.32" fill="#008000"/>
<rect x="140.93" y="714.67" width="8.04" height="10.32" fill="#ff0000"/>
<rect x="149.97" y="714.67" width="8.04" height="10.32" fill="#008000"/>
<rect x="159.01" y="714.67" width="8.04" height="10.32" fill="#ff00ff"/>
<rect x="168.05" y="714.67" width="8.04" height="10.32" fill="#ffff00"/>
<rect x="177.09" y="714.67" width="8.04" height="10.32" fill="#ffff00"/>
<rect x="186.13" y="714.67" width="8.04" height="10.32" fill="#008000"/>
<rect x="195.17" y="714.67" width="8.04" height="10.32" fill="#ffff00"/>
<rect x="204.21" y="714.67" width="8.04" height="10.32" fill="#ffff00"/>
<rect x="213.25" y="714.67" width="8.04" height="10.32" fill="#ffff00"/>
<rect x="222.29" y="714.67" width="8.04" height="10.32" fill="#008000"/>
<rect x="231.33" y="714.67" width="8.04" height="10.32" fill="#ff0000"/>
<rect x="249.41" y="714.67" width="8.04" height="10.32" fill="#0000ff"/>
<rect x="258.45" y="714.67" width="8.04" height="10.32" fill="#ffff00"/>
<rect x="267.49" y="714.67" width="8.04" height="10.32" fill="#ff00ff"/>
<rect x="276.53" y="714.67" width="8.04" height="10.32" fill="#ff00ff"/>
<rect x="285.57" y="714.67" width="8.04" height="10.32" fill="#ffff00"/>
<rect x="294.61" y="714.67" width="8.04" height="10.32" fill="#008000"/>
<rect x="303.65" y="714.67" width="8.04" height="10.32" fill="#ffff00"/>
<rect x="312.69" y="714.67" width="8.04" height="10.32" fill="#ffff00"/>
<rect x="321.73" y="714.67" width="8.04" height="10.32" fill="#008080"/>
<rect x="348.85" y="714.67" width="8.04" height="10.32" fill="#ff0000"/>
<rect x="357.89" y="714.67" width="8.04" height="10.32" fill="#ff00ff"/>
<rect x="366.93" y="714.67" width="8.04" height="10.32" fill="#008000"/>
<rect x="375.97" y="714.67" width="8.04" height="10.32" fill="#008000"/>
<rect x="385.01" y="714.67" width="8.04" height="10.32" fill="#ffff00"/>
<rect x="394.05" y="714.67" width="8.04" height="10.32" fill="#ff0000"/>
<rect x="403.09" y="714.67" width="8.04" height="10.32" fill="#ffff00"/>
<rect x="412.13" y="714.67" width="8.04" height="10.32" fill="#ffff00"/>
<rect x="421.17" y="714.67" width="8.04" height="10.32" fill="#0000ff"/>
<rect x="430.21" y="714.67" width="8.04" height="10.32" fill="#008000"/>
<rect x="439.25" y="714.67" width="8.04" height="10.32" fill="#0000ff"/>
<rect x="448.29" y="714.67" width="8.04" height="10.32" fill="#ff00ff"/>
<rect x="457.33" y="714.67" width="8.04" height="10.32" fill="#ffff00"/>
<rect x="466.37" y="714.67" width="8.04" height="10.32" fill="#ffff00"/>
<rect x="475.41" y="714.67" width="8.04" height="10.32" fill="#ffff00"/>
<rect x="484.45" y="714.67" width="8.04" height="10.32" fill="#ffff00"/>
<rect x="493.49" y="714.67" width="8.04" height="10.32" fill="#008000"/>
<rect x="502.53" y="714.67" width="8.04" height="10.32" fill="#ffff00"/>
<rect x="511.57" y="714.67" width="8.04" height="10.32" fill="#ff00ff"/>
<rect x="520.61" y="714.67" width="8.04" height="10.32" fill="#ff0000"/>
<rect x="529.65" y="714.67" width="8.04" height="10.32" fill="#ffff00"/>
<rect x="538.69" y="714.67" width="8.04" height="10.32" fill="#ffff00"/>
<rect x="547.73" y="714.67" width="8.04" height="10.32" fill="#008000"/>
<rect x="556.77" y="714.67" width="8.04" height="10.32" fill="#ffff00"/>
<rect x="565.81" y="714.67" width="8.04" height="10.32" fill="#ffff00"/>
<rect x="574.85" y="714.67" width="8.04" height="10.32" fill="#008000"/>
<rect x="583.89" y="714.67" width="8.04" height="10.32" fill="#008000"/>
<rect x="592.93" y="714.67" width="8.04" height="10.32" fill="#ff0000"/>
<rect x="601.97" y="714.67" width="8.04" height="10.32" fill="#0000ff"/>
<rect x="611.01" y="714.67" width="8.04" height="10.32" fill="#ffff00"/>
<rect x="620.05" y="714.67" width="8.04" height="10.32" fill="#008000"/>
<rect x="629.09" y="714.67" width="8.04" height="10.32" fill="#008000"/>
<rect x="638.13" y="714.67" width="8.04" height="10.32" fill="#ffff00"/>
<rect x="647.17" y="714.67" width="8.04" height="10.32" fill="#ff0000"/>
<rect x="656.21" y="714.67" width="8.04" height="10.32" fill="#008080"/>
<rect x="665.25" y="714.67" width="8.04" height="10.32" fill="#0000ff"/>
<rect x="674.29" y="714.67" width="8.04" height="10.32" fill="#ffff00"/>
<rect x="122.85" y="725.99" width="8.04" height="10.32" fill="#008080"/>
<rect x="131.89" y="725.99" width="8.04" height="10.32" fill="#008000"/>
<rect x="140.93" y="725.99" width="8.04" height="10.32" fill="#ff0000"/>
<rect x="149.97" y="725.99" width="8.04" height="10.32" fill="#008000"/>
<rect x="159.01" y="725.99" width="8.04" height="10.32" fill="#ff00ff"/>
<rect x="168.05" y="725.99" width="8.04" height="10.32" fill="#ffff00"/>
<rect x="177.09" y="725.99" width="8.04" height="10.32" fill="#ffff00"/>
<rect x="186.13" y="725.99" width="8.04" height="10.32" fill="#008000"/>
<rect x="195.17" y="725.99" width="8.04" height="10.32" fill="#ffff00"/>
<rect x="204.21" y="725.99" width="8.04" height="10.32" fill="#ffff00"/>
<rect x="213.25" y="725.99" width="8.04" height="10.32" fill="#ffff00"/>
<rect x="222.29" y="725.99" width="8.04" height="10.32" fill="#008000"/>
<rect x="231.33" y="725.99" width="8.04" height="10.32" fill="#ff0000"/>
<rect x="249.41" y="725.99" width="8.04" height="10.32" fill="#ff00ff"/>
<rect x="258.45" y="725.99" width="8.04" height="10.32" fill="#ffff00"/>
<rect x="267.49" y="725.99" width="8.04" height="10.32" fill="#ff00ff"/>
<rect x="276.53" y="725.99" width="8.04" height="10.32" fill="#ff00ff"/>
<rect x="285.57" y="725.99" width="8.04" height="10.32" fill="#ffff00"/>
<rect x="294.61" y="725.99" width="8.04" height="10.32" fill="#008000"/>
<rect x="303.65" y="725.99" width="8.04" height="10.32" fill="#ffff00"/>
<rect x="312.69" y="725.99" width="8.04" height="10.32" fill="#ffff00"/>
<rect x="321.73" y="725.99" width="8.04" height="10.32" fill="#008080"/>
<rect x="348.85" y="725.99" width="8.04" height="10.32" fill="#ff0000"/>
<rect x="357.89" y="725.99" width="8.04" height="10.32" fill="#ff0000"/>
<rect x="366.93" y="725.99" width="8.04" height="10.32" fill="#008000"/>
<rect x="375.97" y="725.99" width="8.04" height="10.32" fill="#008000"/>
<rect x="385.01" y="725.99" width="8.04" height="10.32" fill="#ffff00"/>
<rect x="394.05" y="725.99" width="8.04" height="10.32" fill="#ff0000"/>
<rect x="403.09" y="725.99" width="8.04" height="10.32" fill="#ffff00"/>
<rect x="412.13" y="725.99" width="8.04" height="10.32" fill="#008000"/>
<rect x="421.17" y="725.99" width="8.04" height="10.32" fill="#0000ff"/>
<rect x="430.21" y="725.99" width="8.04" height="10.32" fill="#008000"/>
<rect x="439.25" y="725.99" width="8.04" height="10.32" fill="#0000ff"/>
<rect x="448.29" y="725.99" width="8.04" height="10.32" fill="#ff00ff"/>
<rect x="457.33" y="725.99" width="8.04" height="10.32" fill="#ffff00"/>
<rect x="466.37" y="725.99" width="8.04" height="10.32" fill="#ffff00"/>
<rect x="475.41" y="725.99" width="8.04" height="10.32" fill="#ffff00"/>
<rect x="484.45" y="725.99" width="8.04" height="10.32" fill="#ffff00"/>
<rect x="493.49" y="725.99" width="8.04" height="10.32" fill="#008000"/>
<rect x="502.53" y="725.99" width="8.04" height="10.32" fill="#ffff00"/>
<rect x="511.57" y="725.99" width="8.04" height="10.32" fill="#ffff00"/>
<rect x="520.61" y="725.99" width="8.04" height="10.32" fill="#ff0000"/>
<rect x="529.65" y="725.99" width="8.04" height="10.32" fill="#ffff00"/>
<rect x="538.69" y="725.99" width="8.04" height="10.32" fill="#ffff00"/>
<rect x="547.73" y="725.99" width="8.04" height="10.32" fill="#008000"/>
<rect x="556.77" y="725.99" width="8.04" height="10.32" fill="#ffff00"/>
<rect x="565.81" y="725.99" width="8.04" height="10.32" fill="#ffff00"/>
<rect x="574.85" y="725.99" width="8.04" height="10.32" fill="#008000"/>
<rect x="583.89" y="725.99" width="8.04" height="10.32" fill="#008000"/>
<rect x="592.93" y="725.99" width="8.04" height="10.32" fill="#ff0000"/>
<rect x="601.97" y="725.99" width="8.04" height="10.32" fill="#0000ff"/>
<rect x="611.01" y="725.99" width="8.04" height="10.32" fill="#ffff00"/>
<rect x="620.05" y="725.99" width="8.04" height="10.32" fill="#ffff00"/>
<rect x="629.09" y="725.99" width="8.04" height="10.32" fill="#008000"/>
<rect x="638.13" y="725.99" width="8.04" height="10.32" fill="#ffff00"/>
<rect x="647.17" y="725.99" width="8.04" height="10.32" fill="#ff0000"/>
<rect x="656.21" y="725.99" width="8.04" height="10.32" fill="#008080"/>
<rect x="665.25" y="725.99" width="8.04" height="10.32" fill="#0000ff"/>
<rect x="674.29" y="725.99" width="8.04" height="10.32" fill="#ffff00"/>
<rect x="122.85" y="737.31" width="8.04" height="10.32" fill="#008080"/>
<rect x="131.89" y="737.31" width="8.04" height="10.32" fill="#008000"/>
<rect x="140.93" y="737.31" width="8.04" height="10.32" fill="#ff0000"/>
<rect x="149.97" y="737.31" width="8.04" height="10.32" fill="#008000"/>
<rect x="159.01" y="737.31" width="8.04" height="10.32" fill="#ff00ff"/>
<rect x="168.05" y="737.31" width="8.04" height="10.32" fill="#ffff00"/>
<rect x="177.09" y="737.31" width="8.04" height="10.32" fill="#ffff00"/>
<rect x="186.13" y="737.31" width="8.04" height="10.32" fill="#008000"/>
<rect x="195.17" y="737.31" width="8.04" height="10.32" fill="#ffff00"/>
<rect x="204.21" y="737.31" width="8.04" height="10.32" fill="#ffff00"/>
<rect x="213.25" y="737.31" width="8.04" height="10.32" fill="#ffff00"/>
<rect x="222.29" y="737.31" width="8.04" height="10.32" fill="#008000"/>
<rect x="231.33" y="737.31" width="8.04" height="10.32" fill="#ff0000"/>
<rect x="249.41" y="737.31" width="8.04" height="10.32" fill="#ff0000"/>
<rect x="258.45" y="737.31" width="8.04" height="10.32" fill="#ffff00"/>
<rect x="267.49" y="737.31" width="8.04" height="10.32" fill="#ff00ff"/>
<rect x="276.53" y="737.31" width="8.04" height="10.32" fill="#ff00ff"/>
<rect x="285.57" y="737.31" width="8.04" height="10.32" fill="#ffff00"/>
<rect x="294.61" y="737.31" width="8.04" height="10.32" fill="#008000"/>
<rect x="303.65" y="737.31" width="8.04" height="10.32" fill="#ffff00"/>
<rect x="312.69" y="737.31" width="8.04" height="10.32" fill="#ffff00"/>
<rect x="321.73" y="737.31" width="8.04" height="10.32" fill="#008080"/>
<rect x="348.85" y="737.31" width="8.04" height="10.32" fill="#ff0000"/>
<rect x="357.89" y="737.31" width="8.04" height="10.32" fill="#ff0000"/>
<rect x="366.93" y="737.31" width="8.04" height="10.32" fill="#0000ff"/>
<rect x="375.97" y="737.31" width="8.04" height="10.32" fill="#008000"/>
<rect x="385.01" y="737.31" width="8.04" height="10.32" fill="#ffff00"/>
<rect x="394.05" y="737.31" width="8.04" height="10.32" fill="#ff0000"/>
<rect x="403.09" y="737.31" width="8.04" height="10.32" fill="#ffff00"/>
<rect x="412.13" y="737.31" width="8.04" height="10.32" fill="#008000"/>
<rect x="421.17" y="737.31" width="8.04" height="10.32" fill="#0000ff"/>
<rect x="430.21" y="737.31" width="8.04" height="10.32" fill="#008000"/>
<rect x="439.25" y="737.31" width="8.04" height="10.32" fill="#0000ff"/>
<rect x="448.29" y="737.31" width="8.04" height="10.32" fill="#ff00ff"/>
<rect x="457.33" y="737.31" width="8.04" height="10.32" fill="#ffff00"/>
<rect x="466.37" y="737.31" width="8.04" height="10.32" fill="#ffff00"/>
<rect x="475.41" y="737.31" width="8.04" height="10.32" fill="#ffff00"/>
<rect x="484.45" y="737.31" width="8.04" height="10.32" fill="#ffff00"/>
<rect x="493.49" y="737.31" width="8.04" height="10.32" fill="#008000"/>
<rect x="502.53" y="737.31" width="8.04" height="10.32" fill="#ffff00"/>
<rect x="511.57" y="737.31" width="8.04" height="10.32" fill="#ffff00"/>
<rect x="520.61" y="737.31" width="8.04" height="10.32" fill="#ff0000"/>
<rect x="529.65" y="737.31" width="8.04" height="10.32" fill="#ffff00"/>
<rect x="538.69" y="737.31" width="8.04" height="10.32" fill="#ffff00"/>
<rect x="547.73" y="737.31" width="8.04" height="10.32" fill="#008000"/>
<rect x="556.77" y="737.31" width="8.04" height="10.32" fill="#ffff00"/>
<rect x="565.81" y="737.31" width="8.04" height="10.32" fill="#ffff00"/>
<rect x="574.85" y="737.31" width="8.04" height="10.32" fill="#008000"/>
<rect x="583.89" y="737.31" width="8.04" height="10.32" fill="#008000"/>
<rect x="592.93" y="737.31" width="8.04" height="10.32" fill="#ff0000"/>
<rect x="601.97" y="737.31" width="8.04" height="10.32" fill="#008000"/>
<rect x="611.01" y="737.31" width="8.04" height="10.32" fill="#00ff00"/>
<rect x="620.05" y="737.31" width="8.04" height="10.32" fill="#0000ff"/>
<rect x="629.09" y="737.31" width="8.04" height="10.32" fill="#008000"/>
<rect x="638.13" y="737.31" width="8.04" height="10.32" fill="#ffff00"/>
<rect x="647.17" y="737.31" width="8.04" height="10.32" fill="#ff0000"/>
<rect x="656.21" y="737.31" width="8.04" height="10.32" fill="#008080"/>
<rect x="665.25" y="737.31" width="8.04" height="10.32" fill="#0000ff"/>
<rect x="674.29" y="737.31" width="8.04" height="10.32" fill="#ffff00"/>
<rect x="122.85" y="748.63" width="8.04" height="10.32" fill="#008080"/>
<rect x="131.89" y="748.63" width="8.04" height="10.32" fill="#008000"/>
<rect x="140.93" y="748.63" width="8.04" height="10.32" fill="#ff0000"/>
<rect x="149.97" y="748.63" width="8.04" height="10.32" fill="#0000ff"/>
<rect x="159.01" y="748.63" width="8.04" height="10.32" fill="#ff00ff"/>
<rect x="168.05" y="748.63" width="8.04" height="10.32" fill="#008000"/>
<rect x="177.09" y="748.63" width="8.04" height="10.32" fill="#ffff00"/>
<rect x="186.13" y="748.63" width="8.04" height="10.32" fill="#008000"/>
<rect x="195.17" y="748.63" width="8.04" height="10.32" fill="#ffff00"/>
<rect x="204.21" y="748.63" width="8.04" height="10.32" fill="#ffff00"/>
<rect x="213.25" y="748.63" width="8.04" height="10.32" fill="#ffff00"/>
<rect x="222.29" y="748.63" width="8.04" height="10.32" fill="#0000ff"/>
<rect x="231.33" y="748.63" width="8.04" height="10.32" fill="#ff0000"/>
<rect x="240.37" y="748.63" width="8.04" height="10.32" fill="#ff0000"/>
<rect x="249.41" y="748.63" width="8.04" height="10.32" fill="#008080"/>
<rect x="258.45" y="748.63" width="8.04" height="10.32" fill="#ffff00"/>
<rect x="267.49" y="748.63" width="8.04" height="10.32" fill="#0000ff"/>
<rect x="276.53" y="748.63" width="8.04" height="10.32" fill="#ff00ff"/>
<rect x="285.57" y="748.63" width="8.04" height="10.32" fill="#ffff00"/>
<rect x="294.61" y="748.63" width="8.04" height="10.32" fill="#008000"/>
<rect x="303.65" y="748.63" width="8.04" height="10.32" fill="#ffff00"/>
<rect x="312.69" y="748.63" width="8.04" height="10.32" fill="#0000ff"/>
<rect x="321.73" y="748.63" width="8.04" height="10.32" fill="#0000ff"/>
<rect x="348.85" y="748.63" width="8.04" height="10.32" fill="#ff0000"/>
<rect x="357.89" y="748.63" width="8.04" height="10.32" fill="#ff00ff"/>
<rect x="366.93" y="748.63" width="8.04" height="10.32" fill="#008000"/>
<rect x="375.97" y="748.63" width="8.04" height="10.32" fill="#008000"/>
<rect x="385.01" y="748.63" width="8.04" height="10.32" fill="#ffff00"/>
<rect x="394.05" y="748.63" width="8.04" height="10.32" fill="#008000"/>
<rect x="403.09" y="748.63" width="8.04" height="10.32" fill="#ffff00"/>
<rect x="412.13" y="748.63" width="8.04" height="10.32" fill="#ff0000"/>
<rect x="421.17" y="748.63" width="8.04" height="10.32" fill="#008000"/>
<rect x="430.21" y="748.63" width="8.04" height="10.32" fill="#ffff00"/>
<rect x="439.25" y="748.63" width="8.04" height="10.32" fill="#0000ff"/>
<rect x="448.29" y="748.63" width="8.04" height="10.32" fill="#ff0000"/>
<rect x="457.33" y="748.63" width="8.04" height="10.32" fill="#ffff00"/>
<rect x="466.37" y="748.63" width="8.04" height="10.32" fill="#ffff00"/>
<rect x="475.41" y="748.63" width="8.04" height="10.32" fill="#ffff00"/>
<rect x="484.45" y="748.63" width="8.04" height="10.32" fill="#ffff00"/>
<rect x="493.49" y="748.63" width="8.04" height="10.32" fill="#008000"/>
<rect x="502.53" y="748.63" width="8.04" height="10.32" fill="#ffff00"/>
<rect x="511.57" y="748.63" width="8.04" height="10.32" fill="#ffff00"/>
<rect x="520.61" y="748.63" width="8.04" height="10.32" fill="#ff0000"/>
<rect x="529.65" y="748.63" width="8.04" height="10.32" fill="#008000"/>
<rect x="538.69" y="748.63" width="8.04" height="10.32" fill="#ffff00"/>
<rect x="547.73" y="748.63" width="8.04" height="10.32" fill="#008000"/>
<rect x="556.77" y="748.63" width="8.04" height="10.32" fill="#ffff00"/>
<rect x="565.81" y="748.63" width="8.04" height="10.32" fill="#ffff00"/>
<rect x="574.85" y="748.63" width="8.04" height="10.32" fill="#008000"/>
<rect x="583.89" y="748.63" width="8.04" height="10.32" fill="#008000"/>
<rect x="592.93" y="748.63" width="8.04" height="10.32" fill="#008000"/>
<rect x="601.97" y="748.63" width="8.04" height="10.32" fill="#008000"/>
<rect x="611.01" y="748.63" width="8.04" height="10.32" fill="#00ff00"/>
<rect x="620.05" y="748.63" width="8.04" height="10.32" fill="#0000ff"/>
<rect x="629.09" y="748.63" width="8.04" height="10.32" fill="#008000"/>
<rect x="638.13" y="748.63" width="8.04" height="10.32" fill="#ffff00"/>
<rect x="647.17" y="748.63" width="8.04" height="10.32" fill="#ff0000"/>
<rect x="656.21" y="748.63" width="8.04" height="10.32" fill="#008080"/>
<rect x="665.25" y="748.63" width="8.04" height="10.32" fill="#0000ff"/>
<rect x="674.29" y="748.63" width="8.04" height="10.32" fill="#ffff00"/>
<rect x="122.85" y="759.95" width="8.04" height="10.32" fill="#008080"/>
<rect x="131.89" y="759.95" width="8.04" height="10.32" fill="#008000"/>
<rect x="140.93" y="759.95" width="8.04" height="10.32" fill="#ff0000"/>
<rect x="149.97" y="759.95" width="8.04" height="10.32" fill="#0000ff"/>
<rect x="159.01" y="759.95" width="8.04" height="10.32" fill="#ff00ff"/>
<rect x="168.05" y="759.95" width="8.04" height="10.32" fill="#ffff00"/>
<rect x="177.09" y="759.95" width="8.04" height="10.32" fill="#ffff00"/>
<rect x="186.13" y="759.95" width="8.04" height="10.32" fill="#008000"/>
<rect x="195.17" y="759.95" width="8.04" height="10.32" fill="#ffff00"/>
<rect x="204.21" y="759.95" width="8.04" height="10.32" fill="#ffff00"/>
<rect x="213.25" y="759.95" width="8.04" height="10.32" fill="#ffff00"/>
<rect x="222.29" y="759.95" width="8.04" height="10.32" fill="#008000"/>
<rect x="231.33" y="759.95" width="8.04" height="10.32" fill="#ff0000"/>
<rect x="249.41" y="759.95" width="8.04" height="10.32" fill="#008000"/>
<rect x="258.45" y="759.95" width="8.04" height="10.32" fill="#ffff00"/>
<rect x="267.49" y="759.95" width="8.04" height="10.32" fill="#ff00ff"/>
<rect x="276.53" y="759.95" width="8.04" height="10.32" fill="#ff00ff"/>
<rect x="285.57" y="759.95" width="8.04" height="10.32" fill="#ffff00"/>
<rect x="294.61" y="759.95" width="8.04" height="10.32" fill="#008000"/>
<rect x="303.65" y="759.95" width="8.04" height="10.32" fill="#ffff00"/>
<rect x="312.69" y="759.95" width="8.04" height="10.32" fill="#ffff00"/>
<rect x="321.73" y="759.95" width="8.04" height="10.32" fill="#008000"/>
<rect x="348.85" y="759.95" width="8.04" height="10.32" fill="#ff0000"/>
<rect x="357.89" y="759.95" width="8.04" height="10.32" fill="#ff0000"/>
<rect x="366.93" y="759.95" width="8.04" height="10.32" fill="#ff0000"/>
<rect x="375.97" y="759.95" width="8.04" height="10.32" fill="#008000"/>
<rect x="385.01" y="759.95" width="8.04" height="10.32" fill="#ffff00"/>
<rect x="394.05" y="759.95" width="8.04" height="10.32" fill="#ff0000"/>
<rect x="403.09" y="759.95" width="8.04" height="10.32" fill="#ffff00"/>
<rect x="412.13" y="759.95" width="8.04" height="10.32" fill="#0000ff"/>
<rect x="421.17" y="759.95" width="8.04" height="10.32" fill="#0000ff"/>
<rect x="430.21" y="759.95" width="8.04" height="10.32" fill="#ffff00"/>
<rect x="439.25" y="759.95" width="8.04" height="10.32" fill="#0000ff"/>
<rect x="448.29" y="759.95" width="8.04" height="10.32" fill="#ff00ff"/>
<rect x="457.33" y="759.95" width="8.04" height="10.32" fill="#ffff00"/>
<rect x="466.37" y="759.95" width="8.04" height="10.32" fill="#ffff00"/>
<rect x="475.41" y="759.95" width="8.04" height="10.32" fill="#ffff00"/>
<rect x="484.45" y="759.95" width="8.04" height="10.32" fill="#ffff00"/>
<rect x="493.49" y="759.95" width="8.04" height="10.32" fill="#008000"/>
<rect x="502.53" y="759.95" width="8.04" height="10.32" fill="#ffff00"/>
<rect x="511.57" y="759.95" width="8.04" height="10.32" fill="#ff00ff"/>
<rect x="520.61" y="759.95" width="8.04" height="10.32" fill="#ff0000"/>
<rect x="529.65" y="759.95" width="8.04" height="10.32" fill="#ffff00"/>
<rect x="538.69" y="759.95" width="8.04" height="10.32" fill="#ffff00"/>
<rect x="547.73" y="759.95" width="8.04" height="10.32" fill="#008000"/>
<rect x="556.77" y="759.95" width="8.04" height="10.32" fill="#ffff00"/>
<rect x="565.81" y="759.95" width="8.04" height="10.32" fill="#ffff00"/>
<rect x="574.85" y="759.95" width="8.04" height="10.32" fill="#008000"/>
<rect x="583.89" y="759.95" width="8.04" height="10.32" fill="#008000"/>
<rect x="592.93" y="759.95" width="8.04" height="10.32" fill="#ff00ff"/>
<rect x="601.97" y="759.95" width="8.04" height="10.32" fill="#ffff00"/>
<rect x="611.01" y="759.95" width="8.04" height="10.32" fill="#00ff00"/>
<rect x="620.05" y="759.95" width="8.04" height="10.32" fill="#0000ff"/>
<rect x="629.09" y="759.95" width="8.04" height="10.32" fill="#008000"/>
<rect x="638.13" y="759.95" width="8.04" height="10.32" fill="#ffff00"/>
<rect x="647.17" y="759.95" width="8.04" height="10.32" fill="#ff0000"/>
<rect x="656.21" y="759.95" width="8.04" height="10.32" fill="#008080"/>
<rect x="665.25" y="759.95" width="8.04" height="10.32" fill="#0000ff"/>
<rect x="674.29" y="759.95" width="8.04" height="10.32" fill="#ffff00"/>
<rect x="122.85" y="771.27" width="8.04" height="10.32" fill="#008080"/>
<rect x="131.89" y="771.27" width="8.04" height="10.32" fill="#008000"/>
<rect x="140.93" y="771.27" width="8.04" height="10.32" fill="#ff0000"/>
<rect x="149.97" y="771.27" width="8.04" height="10.32" fill="#0000ff"/>
<rect x="159.01" y="771.27" width="8.04" height="10.32" fill="#ff00ff"/>
<rect x="168.05" y="771.27" width="8.04" height="10.32" fill="#008000"/>
<rect x="177.09" y="771.27" width="8.04" height="10.32" fill="#ffff00"/>
<rect x="186.13" y="771.27" width="8.04" height="10.32" fill="#008000"/>
<rect x="195.17" y="771.27" width="8.04" height="10.32" fill="#ffff00"/>
<rect x="204.21" y="771.27" width="8.04" height="10.32" fill="#ffff00"/>
<rect x="213.25" y="771.27" width="8.04" height="10.32" fill="#ffff00"/>
<rect x="222.29" y="771.27" width="8.04" height="10.32" fill="#008000"/>
<rect x="231.33" y="771.27" width="8.04" height="10.32" fill="#ff0000"/>
<rect x="249.41" y="771.27" width="8.04" height="10.32" fill="#008000"/>
<rect x="258.45" y="771.27" width="8.04" height="10.32" fill="#ffff00"/>
<rect x="267.49" y="771.27" width="8.04" height="10.32" fill="#ff00ff"/>
<rect x="276.53" y="771.27" width="8.04" height="10.32" fill="#ff00ff"/>
<rect x="285.57" y="771.27" width="8.04" height="10.32" fill="#ffff00"/>
<rect x="294.61" y="771.27" width="8.04" height="10.32" fill="#008000"/>
<rect x="303.65" y="771.27" width="8.04" height="10.32" fill="#ffff00"/>
<rect x="312.69" y="771.27" width="8.04" height="10.32" fill="#008000"/>
<rect x="321.73" y="771.27" width="8.04" height="10.32" fill="#0000ff"/>
<rect x="330.77" y="771.27" width="8.04" height="10.32" fill="#ff0000"/>
<rect x="339.81" y="771.27" width="8.04" height="10.32" fill="#ff0000"/>
<rect x="348.85" y="771.27" width="8.04" height="10.32" fill="#ff00ff"/>
<rect x="357.89" y="771.27" width="8.04" height="10.32" fill="#0000ff"/>
<rect x="366.93" y="771.27" width="8.04" height="10.32" fill="#008000"/>
<rect x="375.97" y="771.27" width="8.04" height="10.32" fill="#008000"/>
<rect x="385.01" y="771.27" width="8.04" height="10.32" fill="#ffff00"/>
<rect x="394.05" y="771.27" width="8.04" height="10.32" fill="#008000"/>
<rect x="403.09" y="771.27" width="8.04" height="10.32" fill="#ffff00"/>
<rect x="412.13" y="771.27" width="8.04" height="10.32" fill="#ff0000"/>
<rect x="421.17" y="771.27" width="8.04" height="10.32" fill="#0000ff"/>
<rect x="430.21" y="771.27" width="8.04" height="10.32" fill="#ffff00"/>
<rect x="439.25" y="771.27" width="8.04" height="10.32" fill="#008000"/>
<rect x="448.29" y="771.27" width="8.04" height="10.32" fill="#ff00ff"/>
<rect x="457.33" y="771.27" width="8.04" height="10.32" fill="#ffff00"/>
<rect x="466.37" y="771.27" width="8.04" height="10.32" fill="#ffff00"/>
<rect x="475.41" y="771.27" width="8.04" height="10.32" fill="#ffff00"/>
<rect x="484.45" y="771.27" width="8.04" height="10.32" fill="#ffff00"/>
<rect x="493.49" y="771.27" width="8.04" height="10.32" fill="#008000"/>
<rect x="502.53" y="771.27" width="8.04" height="10.32" fill="#ffff00"/>
<rect x="511.57" y="771.27" width="8.04" height="10.32" fill="#ff00ff"/>
<rect x="520.61" y="771.27" width="8.04" height="10.32" fill="#ff0000"/>
<rect x="529.65" y="771.27" width="8.04" height="10.32" fill="#008080"/>
<rect x="538.69" y="771.27" width="8.04" height="10.32" fill="#ffff00"/>
<rect x="547.73" y="771.27" width="8.04" height="10.32" fill="#008080"/>
<rect x="556.77" y="771.27" width="8.04" height="10.32" fill="#00ff00"/>
<rect x="565.81" y="771.27" width="8.04" height="10.32" fill="#ffff00"/>
<rect x="574.85" y="771.27" width="8.04" height="10.32" fill="#008000"/>
<rect x="583.89" y="771.27" width="8.04" height="10.32" fill="#008000"/>
<rect x="592.93" y="771.27" width="8.04" height="10.32" fill="#ff00ff"/>
<rect x="601.97" y="771.27" width="8.04" height="10.32" fill="#0000ff"/>
<rect x="611.01" y="771.27" width="8.04" height="10.32" fill="#ffff00"/>
<rect x="620.05" y="771.27" width="8.04" height="10.32" fill="#0000ff"/>
<rect x="629.09" y="771.27" width="8.04" height="10.32" fill="#008000"/>
<rect x="638.13" y="771.27" width="8.04" height="10.32" fill="#ffff00"/>
<rect x="647.17" y="771.27" width="8.04" height="10.32" fill="#ff0000"/>
<rect x="656.21" y="771.27" width="8.04" height="10.32" fill="#008080"/>
<rect x="665.25" y="771.27" width="8.04" height="10.32" fill="#008000"/>
<rect x="674.29" y="771.27" width="8.04" height="10.32" fill="#ffff00"/>
<rect x="122.85" y="782.59" width="8.04" height="10.32" fill="#008080"/>
<rect x="131.89" y="782.59" width="8.04" height="10.32" fill="#008000"/>
<rect x="140.93" y="782.59" width="8.04" height="10.32" fill="#ff0000"/>
<rect x="149.97" y="782.59" width="8.04" height="10.32" fill="#ffff00"/>
<rect x="159.01" y="782.59" width="8.04" height="10.32" fill="#ff00ff"/>
<rect x="168.05" y="782.59" width="8.04" height="10.32" fill="#ffff00"/>
<rect x="177.09" y="782.59" width="8.04" height="10.32" fill="#ffff00"/>
<rect x="186.13" y="782.59" width="8.04" height="10.32" fill="#008000"/>
<rect x="195.17" y="782.59" width="8.04" height="10.32" fill="#ffff00"/>
<rect x="204.21" y="782.59" width="8.04" height="10.32" fill="#ffff00"/>
<rect x="213.25" y="782.59" width="8.04" height="10.32" fill="#ffff00"/>
<rect x="222.29" y="782.59" width="8.04" height="10.32" fill="#008000"/>
<rect x="231.33" y="782.59" width="8.04" height="10.32" fill="#ff0000"/>
<rect x="240.37" y="782.59" width="8.04" height="10.32" fill="#ff0000"/>
<rect x="258.45" y="782.59" width="8.04" height="10.32" fill="#ffff00"/>
<rect x="267.49" y="782.59" width="8.04" height="10.32" fill="#ff00ff"/>
<rect x="276.53" y="782.59" width="8.04" height="10.32" fill="#ff00ff"/>
<rect x="285.57" y="782.59" width="8.04" height="10.32" fill="#ffff00"/>
<rect x="294.61" y="782.59" width="8.04" height="10.32" fill="#008000"/>
<rect x="303.65" y="782.59" width="8.04" height="10.32" fill="#ffff00"/>
<rect x="312.69" y="782.59" width="8.04" height="10.32" fill="#808000"/>
<rect x="321.73" y="782.59" width="8.04" height="10.32" fill="#ffff00"/>
<rect x="348.85" y="782.59" width="8.04" height="10.32" fill="#ff0000"/>
<rect x="357.89" y="782.59" width="8.04" height="10.32" fill="#ff00ff"/>
<rect x="366.93" y="782.59" width="8.04" height="10.32" fill="#008000"/>
<rect x="375.97" y="782.59" width="8.04" height="10.32" fill="#008000"/>
<rect x="385.01" y="782.59" width="8.04" height="10.32" fill="#ffff00"/>
<rect x="394.05" y="782.59" width="8.04" height="10.32" fill="#ffff00"/>
<rect x="403.09" y="782.59" width="8.04" height="10.32" fill="#ffff00"/>
<rect x="412.13" y="782.59" width="8.04" height="10.32" fill="#008000"/>
<rect x="421.17" y="782.59" width="8.04" height="10.32" fill="#0000ff"/>
<rect x="430.21" y="782.59" width="8.04" height="10.32" fill="#ffff00"/>
<rect x="439.25" y="782.59" width="8.04" height="10.32" fill="#008080"/>
<rect x="448.29" y="782.59" width="8.04" height="10.32" fill="#ff00ff"/>
<rect x="457.33" y="782.59" width="8.04" height="10.32" fill="#ffff00"/>
<rect x="466.37" y="782.59" width="8.04" height="10.32" fill="#ffff00"/>
<rect x="475.41" y="782.59" width="8.04" height="10.32" fill="#ffff00"/>
<rect x="484.45" y="782.59" width="8.04" height="10.32" fill="#ffff00"/>
<rect x="493.49" y="782.59" width="8.04" height="10.32" fill="#008000"/>
<rect x="502.53" y="782.59" width="8.04" height="10.32" fill="#ffff00"/>
<rect x="511.57" y="782.59" width="8.04" height="10.32" fill="#ffff00"/>
<rect x="520.61" y="782.59" width="8.04" height="10.32" fill="#ff0000"/>
<rect x="529.65" y="782.59" width="8.04" height="10.32" fill="#008000"/>
<rect x="538.69" y="782.59" width="8.04" height="10.32" fill="#ffff00"/>
<rect x="547.73" y="782.59" width="8.04" height="10.32" fill="#008000"/>
<rect x="556.77" y="782.59" width="8.04" height="10.32" fill="#ffff00"/>
<rect x="565.81" y="782.59" width="8.04" height="10.32" fill="#ffff00"/>
<rect x="574.85" y="782.59" width="8.04" height="10.32" fill="#008000"/>
<rect x="583.89" y="782.59" width="8.04" height="10.32" fill="#008000"/>
<rect x="592.93" y="782.59" width="8.04" height="10.32" fill="#ff00ff"/>
<rect x="601.97" y="782.59" width="8.04" height="10.32" fill="#0000ff"/>
<rect x="611.01" y="782.59" width="8.04" height="10.32" fill="#ffff00"/>
<rect x="620.05" y="782.59" width="8.04" height="10.32" fill="#0000ff"/>
<rect x="629.09" y="782.59" width="8.04" height="10.32" fill="#008000"/>
<rect x="638.13" y="782.59" width="8.04" height="10.32" fill="#ffff00"/>
<rect x="647.17" y="782.59" width="8.04" height="10.32" fill="#ff0000"/>
<rect x="656.21" y="782.59" width="8.04" height="10.32" fill="#008080"/>
<rect x="665.25" y="782.59" width="8.04" height="10.32" fill="#0000ff"/>
<rect x="674.29" y="782.59" width="8.04" height="10.32" fill="#ffff00"/>
<rect x="122.85" y="793.91" width="8.04" height="10.32" fill="#008080"/>
<rect x="131.89" y="793.91" width="8.04" height="10.32" fill="#008000"/>
<rect x="140.93" y="793.91" width="8.04" height="10.32" fill="#ff0000"/>
<rect x="149.97" y="793.91" width="8.04" height="10.32" fill="#ffff00"/>
<rect x="159.01" y="793.91" width="8.04" height="10.32" fill="#ff00ff"/>
<rect x="168.05" y="793.91" width="8.04" height="10.32" fill="#ff00ff"/>
<rect x="177.09" y="793.91" width="8.04" height="10.32" fill="#ffff00"/>
<rect x="186.13" y="793.91" width="8.04" height="10.32" fill="#008000"/>
<rect x="195.17" y="793.91" width="8.04" height="10.32" fill="#ffff00"/>
<rect x="204.21" y="793.91" width="8.04" height="10.32" fill="#ffff00"/>
<rect x="213.25" y="793.91" width="8.04" height="10.32" fill="#ffff00"/>
<rect x="222.29" y="793.91" width="8.04" height="10.32" fill="#008000"/>
<rect x="231.33" y="793.91" width="8.04" height="10.32" fill="#ff0000"/>
<rect x="249.41" y="793.91" width="8.04" height="10.32" fill="#ffff00"/>
<rect x="258.45" y="793.91" width="8.04" height="10.32" fill="#008000"/>
<rect x="267.49" y="793.91" width="8.04" height="10.32" fill="#008000"/>
<rect x="276.53" y="793.91" width="8.04" height="10.32" fill="#ff00ff"/>
<rect x="285.57" y="793.91" width="8.04" height="10.32" fill="#ffff00"/>
<rect x="294.61" y="793.91" width="8.04" height="10.32" fill="#008000"/>
<rect x="303.65" y="793.91" width="8.04" height="10.32" fill="#ffff00"/>
<rect x="312.69" y="793.91" width="8.04" height="10.32" fill="#ffff00"/>
<rect x="321.73" y="793.91" width="8.04" height="10.32" fill="#008000"/>
<rect x="348.85" y="793.91" width="8.04" height="10.32" fill="#ff0000"/>
<rect x="357.89" y="793.91" width="8.04" height="10.32" fill="#ff00ff"/>
<rect x="366.93" y="793.91" width="8.04" height="10.32" fill="#008000"/>
<rect x="375.97" y="793.91" width="8.04" height="10.32" fill="#008000"/>
<rect x="385.01" y="793.91" width="8.04" height="10.32" fill="#ffff00"/>
<rect x="394.05" y="793.91" width="8.04" height="10.32" fill="#0000ff"/>
<rect x="403.09" y="793.91" width="8.04" height="10.32" fill="#ffff00"/>
<rect x="412.13" y="793.91" width="8.04" height="10.32" fill="#0000ff"/>
<rect x="421.17" y="793.91" width="8.04" height="10.32" fill="#0000ff"/>
<rect x="430.21" y="793.91" width="8.04" height="10.32" fill="#ffff00"/>
<rect x="439.25" y="793.91" width="8.04" height="10.32" fill="#0000ff"/>
<rect x="448.29" y="793.91" width="8.04" height="10.32" fill="#ff00ff"/>
<rect x="457.33" y="793.91" width="8.04" height="10.32" fill="#ffff00"/>
<rect x="466.37" y="793.91" width="8.04" height="10.32" fill="#ffff00"/>
<rect x="475.41" y="793.91" width="8.04" height="10.32" fill="#ffff00"/>
<rect x="484.45" y="793.91" width="8.04" height="10.32" fill="#ffff00"/>
<rect x="493.49" y="793.91" width="8.04" height="10.32" fill="#008000"/>
<rect x="502.53" y="793.91" width="8.04" height="10.32" fill="#ffff00"/>
<rect x="511.57" y="793.91" width="8.04" height="10.32" fill="#ff00ff"/>
<rect x="520.61" y="793.91" width="8.04" height="10.32" fill="#ff0000"/>
<rect x="529.65" y="793.91" width="8.04" height="10.32" fill="#008000"/>
<rect x="538.69" y="793.91" width="8.04" height="10.32" fill="#ffff00"/>
<rect x="547.73" y="793.91" width="8.04" height="10.32" fill="#008000"/>
<rect x="556.77" y="793.91" width="8.04" height="10.32" fill="#ffff00"/>
<rect x="565.81" y="793.91" width="8.04" height="10.32" fill="#ffff00"/>
<rect x="574.85" y="793.91" width="8.04" height="10.32" fill="#008000"/>
<rect x="583.89" y="793.91" width="8.04" height="10.32" fill="#008000"/>
<rect x="592.93" y="793.91" width="8.04" height="10.32" fill="#ff00ff"/>
<rect x="601.97" y="793.91" width="8.04" height="10.32" fill="#0000ff"/>
<rect x="611.01" y="793.91" width="8.04" height="10.32" fill="#00ff00"/>
<rect x="620.05" y="793.91" width="8.04" height="10.32" fill="#0000ff"/>
<rect x="629.09" y="793.91" width="8.04" height="10.32" fill="#008000"/>
<rect x="638.13" y="793.91" width="8.04" height="10.32" fill="#ffff00"/>
<rect x="647.17" y="793.91" width="8.04" height="10.32" fill="#ff0000"/>
<rect x="656.21" y="793.91" width="8.04" height="10.32" fill="#008080"/>
<rect x="665.25" y="793.91" width="8.04" height="10.32" fill="#0000ff"/>
<rect x="674.29" y="793.91" width="8.04" height="10.32" fill="#ffff00"/>
<rect x="122.85" y="805.23" width="8.04" height="10.32" fill="#008080"/>
<rect x="131.89" y="805.23" width="8.04" height="10.32" fill="#ffff00"/>
<rect x="140.93" y="805.23" width="8.04" height="10.32" fill="#ff0000"/>
<rect x="149.97" y="805.23" width="8.04" height="10.32" fill="#008000"/>
<rect x="159.01" y="805.23" width="8.04" height="10.32" fill="#008000"/>
<rect x="168.05" y="805.23" width="8.04" height="10.32" fill="#ffff00"/>
<rect x="177.09" y="805.23" width="8.04" height="10.32" fill="#ffff00"/>
<rect x="186.13" y="805.23" width="8.04" height="10.32" fill="#008000"/>
<rect x="195.17" y="805.23" width="8.04" height="10.32" fill="#ffff00"/>
<rect x="204.21" y="805.23" width="8.04" height="10.32" fill="#ffff00"/>
<rect x="213.25" y="805.23" width="8.04" height="10.32" fill="#008000"/>
<rect x="222.29" y="805.23" width="8.04" height="10.32" fill="#008000"/>
<rect x="231.33" y="805.23" width="8.04" height="10.32" fill="#ff0000"/>
<rect x="249.41" y="805.23" width="8.04" height="10.32" fill="#0000ff"/>
<rect x="258.45" y="805.23" width="8.04" height="10.32" fill="#008000"/>
<rect x="267.49" y="805.23" width="8.04" height="10.32" fill="#0000ff"/>
<rect x="276.53" y="805.23" width="8.04" height="10.32" fill="#ff00ff"/>
<rect x="285.57" y="805.23" width="8.04" height="10.32" fill="#ffff00"/>
<rect x="294.61" y="805.23" width="8.04" height="10.32" fill="#ff0000"/>
<rect x="303.65" y="805.23" width="8.04" height="10.32" fill="#ffff00"/>
<rect x="312.69" y="805.23" width="8.04" height="10.32" fill="#ff0000"/>
<rect x="321.73" y="805.23" width="8.04" height="10.32" fill="#ff0000"/>
<rect x="348.85" y="805.23" width="8.04" height="10.32" fill="#ff0000"/>
<rect x="357.89" y="805.23" width="8.04" height="10.32" fill="#ff00ff"/>
<rect x="366.93" y="805.23" width="8.04" height="10.32" fill="#008000"/>
<rect x="375.97" y="805.23" width="8.04" height="10.32" fill="#008000"/>
<rect x="385.01" y="805.23" width="8.04" height="10.32" fill="#ffff00"/>
<rect x="394.05" y="805.23" width="8.04" height="10.32" fill="#ffff00"/>
<rect x="403.09" y="805.23" width="8.04" height="10.32" fill="#ffff00"/>
<rect x="412.13" y="805.23" width="8.04" height="10.32" fill="#0000ff"/>
<rect x="421.17" y="805.23" width="8.04" height="10.32" fill="#0000ff"/>
<rect x="430.21" y="805.23" width="8.04" height="10.32" fill="#ffff00"/>
<rect x="439.25" y="805.23" width="8.04" height="10.32" fill="#0000ff"/>
<rect x="448.29" y="805.23" width="8.04" height="10.32" fill="#ff0000"/>
<rect x="457.33" y="805.23" width="8.04" height="10.32" fill="#ffff00"/>
<rect x="466.37" y="805.23" width="8.04" height="10.32" fill="#ffff00"/>
<rect x="475.41" y="805.23" width="8.04" height="10.32" fill="#ffff00"/>
<rect x="484.45" y="805.23" width="8.04" height="10.32" fill="#ffff00"/>
<rect x="493.49" y="805.23" width="8.04" height="10.32" fill="#008000"/>
<rect x="502.53" y="805.23" width="8.04" height="10.32" fill="#ffff00"/>
<rect x="511.57" y="805.23" width="8.04" height="10.32" fill="#ff00ff"/>
<rect x="520.61" y="805.23" width="8.04" height="10.32" fill="#ff0000"/>
<rect x="529.65" y="805.23" width="8.04" height="10.32" fill="#ffff00"/>
<rect x="538.69" y="805.23" width="8.04" height="10.32" fill="#ffff00"/>
<rect x="547.73" y="805.23" width="8.04" height="10.32" fill="#008000"/>
<rect x="556.77" y="805.23" width="8.04" height="10.32" fill="#ffff00"/>
<rect x="565.81" y="805.23" width="8.04" height="10.32" fill="#ffff00"/>
<rect x="574.85" y="805.23" width="8.04" height="10.32" fill="#008000"/>
<rect x="583.89" y="805.23" width="8.04" height="10.32" fill="#008000"/>
<rect x="592.93" y="805.23" width="8.04" height="10.32" fill="#ff00ff"/>
<rect x="601.97" y="805.23" width="8.04" height="10.32" fill="#0000ff"/>
<rect x="611.01" y="805.23" width="8.04" height="10.32" fill="#00ff00"/>
<rect x="620.05" y="805.23" width="8.04" height="10.32" fill="#0000ff"/>
<rect x="629.09" y="805.23" width="8.04" height="10.32" fill="#008000"/>
<rect x="638.13" y="805.23" width="8.04" height="10.32" fill="#ffff00"/>
<rect x="647.17" y="805.23" width="8.04" height="10.32" fill="#ffff00"/>
<rect x="656.21" y="805.23" width="8.04" height="10.32" fill="#008080"/>
<rect x="665.25" y="805.23" width="8.04" height="10.32" fill="#0000ff"/>
<rect x="674.29" y="805.23" width="8.04" height="10.32" fill="#ffff00"/>
<rect x="122.85" y="816.55" width="8.04" height="10.32" fill="#008080"/>
<rect x="131.89" y="816.55" width="8.04" height="10.32" fill="#008000"/>
<rect x="140.93" y="816.55" width="8.04" height="10.32" fill="#ff0000"/>
<rect x="149.97" y="816.55" width="8.04" height="10.32" fill="#ffff00"/>
<rect x="159.01" y="816.55" width="8.04" height="10.32" fill="#ff00ff"/>
<rect x="168.05" y="816.55" width="8.04" height="10.32" fill="#ffff00"/>
<rect x="177.09" y="816.55" width="8.04" height="10.32" fill="#ffff00"/>
<rect x="186.13" y="816.55" width="8.04" height="10.32" fill="#008000"/>
<rect x="195.17" y="816.55" width="8.04" height="10.32" fill="#ffff00"/>
<rect x="204.21" y="816.55" width="8.04" height="10.32" fill="#ffff00"/>
<rect x="213.25" y="816.55" width="8.04" height="10.32" fill="#ffff00"/>
<rect x="222.29" y="816.55" width="8.04" height="10.32" fill="#008000"/>
<rect x="231.33" y="816.55" width="8.04" height="10.32" fill="#ff0000"/>
<rect x="240.37" y="816.55" width="8.04" height="10.32" fill="#ff0000"/>
<rect x="258.45" y="816.55" width="8.04" height="10.32" fill="#ffff00"/>
<rect x="267.49" y="816.55" width="8.04" height="10.32" fill="#ffff00"/>
<rect x="276.53" y="816.55" width="8.04" height="10.32" fill="#ff00ff"/>
<rect x="285.57" y="816.55" width="8.04" height="10.32" fill="#ffff00"/>
<rect x="294.61" y="816.55" width="8.04" height="10.32" fill="#008000"/>
<rect x="303.65" y="816.55" width="8.04" height="10.32" fill="#ffff00"/>
<rect x="312.69" y="816.55" width="8.04" height="10.32" fill="#00ff00"/>
<rect x="321.73" y="816.55" width="8.04" height="10.32" fill="#0000ff"/>
<rect x="348.85" y="816.55" width="8.04" height="10.32" fill="#ff0000"/>
<rect x="357.89" y="816.55" width="8.04" height="10.32" fill="#008080"/>
<rect x="366.93" y="816.55" width="8.04" height="10.32" fill="#ff0000"/>
<rect x="375.97" y="816.55" width="8.04" height="10.32" fill="#008000"/>
<rect x="385.01" y="816.55" width="8.04" height="10.32" fill="#ffff00"/>
<rect x="394.05" y="816.55" width="8.04" height="10.32" fill="#008000"/>
<rect x="403.09" y="816.55" width="8.04" height="10.32" fill="#ffff00"/>
<rect x="412.13" y="816.55" width="8.04" height="10.32" fill="#008000"/>
<rect x="421.17" y="816.55" width="8.04" height="10.32" fill="#0000ff"/>
<rect x="430.21" y="816.55" width="8.04" height="10.32" fill="#ffff00"/>
<rect x="439.25" y="816.55" width="8.04" height="10.32" fill="#0000ff"/>
<rect x="448.29" y="816.55" width="8.04" height="10.32" fill="#ff0000"/>
<rect x="457.33" y="816.55" width="8.04" height="10.32" fill="#ffff00"/>
<rect x="466.37" y="816.55" width="8.04" height="10.32" fill="#ffff00"/>
<rect x="475.41" y="816.55" width="8.04" height="10.32" fill="#ffff00"/>
<rect x="484.45" y="816.55" width="8.04" height="10.32" fill="#ffff00"/>
<rect x="493.49" y="816.55" width="8.04" height="10.32" fill="#008000"/>
<rect x="502.53" y="816.55" width="8.04" height="10.32" fill="#ffff00"/>
<rect x="511.57" y="816.55" width="8.04" height="10.32" fill="#ff00ff"/>
<rect x="520.61" y="816.55" width="8.04" height="10.32" fill="#ff0000"/>
<rect x="529.65" y="816.55" width="8.04" height="10.32" fill="#ffff00"/>
<rect x="538.69" y="816.55" width="8.04" height="10.32" fill="#ffff00"/>
<rect x="547.73" y="816.55" width="8.04" height="10.32" fill="#008000"/>
<rect x="556.77" y="816.55" width="8.04" height="10.32" fill="#ffff00"/>
<rect x="565.81" y="816.55" width="8.04" height="10.32" fill="#ffff00"/>
<rect x="574.85" y="816.55" width="8.04" height="10.32" fill="#008000"/>
<rect x="583.89" y="816.55" width="8.04" height="10.32" fill="#008000"/>
<rect x="592.93" y="816.55" width="8.04" height="10.32" fill="#ff0000"/>
<rect x="601.97" y="816.55" width="8.04" height="10.32" fill="#0000ff"/>
<rect x="611.01" y="816.55" width="8.04" height="10.32" fill="#00ff00"/>
<rect x="620.05" y="816.55" width="8.04" height="10.32" fill="#0000ff"/>
<rect x="629.09" y="816.55" width="8.04" height="10.32" fill="#008000"/>
<rect x="638.13" y="816.55" width="8.04" height="10.32" fill="#ffff00"/>
<rect x="647.17" y="816.55" width="8.04" height="10.32" fill="#ff0000"/>
<rect x="656.21" y="816.55" width="8.04" height="10.32" fill="#008080"/>
<rect x="665.25" y="816.55" width="8.04" height="10.32" fill="#0000ff"/>
<rect x="674.29" y="816.55" width="8.04" height="10.32" fill="#ffff00"/>
<rect x="122.85" y="827.87" width="8.04" height="10.32" fill="#008080"/>
<rect x="131.89" y="827.87" width="8.04" height="10.32" fill="#008000"/>
<rect x="140.93" y="827.87" width="8.04" height="10.32" fill="#ff0000"/>
<rect x="149.97" y="827.87" width="8.04" height="10.32" fill="#0000ff"/>
<rect x="159.01" y="827.87" width="8.04" height="10.32" fill="#008000"/>
<rect x="168.05" y="827.87" width="8.04" height="10.32" fill="#008000"/>
<rect x="177.09" y="827.87" width="8.04" height="10.32" fill="#ffff00"/>
<rect x="186.13" y="827.87" width="8.04" height="10.32" fill="#008000"/>
<rect x="195.17" y="827.87" width="8.04" height="10.32" fill="#ffff00"/>
<rect x="204.21" y="827.87" width="8.04" height="10.32" fill="#ffff00"/>
<rect x="213.25" y="827.87" width="8.04" height="10.32" fill="#ffff00"/>
<rect x="222.29" y="827.87" width="8.04" height="10.32" fill="#008000"/>
<rect x="231.33" y="827.87" width="8.04" height="10.32" fill="#ff0000"/>
<rect x="249.41" y="827.87" width="8.04" height="10.32" fill="#ff0000"/>
<rect x="258.45" y="827.87" width="8.04" height="10.32" fill="#ffff00"/>
<rect x="267.49" y="827.87" width="8.04" height="10.32" fill="#ff00ff"/>
<rect x="276.53" y="827.87" width="8.04" height="10.32" fill="#ff00ff"/>
<rect x="285.57" y="827.87" width="8.04" height="10.32" fill="#ffff00"/>
<rect x="294.61" y="827.87" width="8.04" height="10.32" fill="#008000"/>
<rect x="303.65" y="827.87" width="8.04" height="10.32" fill="#ffff00"/>
<rect x="312.69" y="827.87" width="8.04" height="10.32" fill="#ffff00"/>
<rect x="321.73" y="827.87" width="8.04" height="10.32" fill="#0000ff"/>
<rect x="348.85" y="827.87" width="8.04" height="10.32" fill="#ff0000"/>
<rect x="357.89" y="827.87" width="8.04" height="10.32" fill="#ff0000"/>
<rect x="366.93" y="827.87" width="8.04" height="10.32" fill="#0000ff"/>
<rect x="375.97" y="827.87" width="8.04" height="10.32" fill="#008000"/>
<rect x="385.01" y="827.87" width="8.04" height="10.32" fill="#ffff00"/>
<rect x="394.05" y="827.87" width="8.04" height="10.32" fill="#ff0000"/>
<rect x="403.09" y="827.87" width="8.04" height="10.32" fill="#ffff00"/>
<rect x="412.13" y="827.87" width="8.04" height="10.32" fill="#0000ff"/>
<rect x="421.17" y="827.87" width="8.04" height="10.32" fill="#0000ff"/>
<rect x="430.21" y="827.87" width="8.04" height="10.32" fill="#ffff00"/>
<rect x="439.25" y="827.87" width="8.04" height="10.32" fill="#0000ff"/>
<rect x="448.29" y="827.87" width="8.04" height="10.32" fill="#008000"/>
<rect x="457.33" y="827.87" width="8.04" height="10.32" fill="#ffff00"/>
<rect x="466.37" y="827.87" width="8.04" height="10.32" fill="#ffff00"/>
<rect x="475.41" y="827.87" width="8.04" height="10.32" fill="#ffff00"/>
<rect x="484.45" y="827.87" width="8.04" height="10.32" fill="#ffff00"/>
<rect x="493.49" y="827.87" width="8.04" height="10.32" fill="#008000"/>
<rect x="502.53" y="827.87" width="8.04" height="10.32" fill="#ffff00"/>
<rect x="511.57" y="827.87" width="8.04" height="10.32" fill="#ff00ff"/>
<rect x="520.61" y="827.87" width="8.04" height="10.32" fill="#ff0000"/>
<rect x="529.65" y="827.87" width="8.04" height="10.32" fill="#008000"/>
<rect x="538.69" y="827.87" width="8.04" height="10.32" fill="#ffff00"/>
<rect x="547.73" y="827.87" width="8.04" height="10.32" fill="#008000"/>
<rect x="556.77" y="827.87" width="8.04" height="10.32" fill="#ffff00"/>
<rect x="565.81" y="827.87" width="8.04" height="10.32" fill="#ffff00"/>
<rect x="574.85" y="827.87" width="8.04" height="10.32" fill="#008000"/>
<rect x="583.89" y="827.87" width="8.04" height="10.32" fill="#008000"/>
<rect x="592.93" y="827.87" width="8.04" height="10.32" fill="#ff00ff"/>
<rect x="601.97" y="827.87" width="8.04" height="10.32" fill="#0000ff"/>
<rect x="611.01" y="827.87" width="8.04" height="10.32" fill="#00ff00"/>
<rect x="620.05" y="827.87" width="8.04" height="10.32" fill="#008000"/>
<rect x="629.09" y="827.87" width="8.04" height="10.32" fill="#008000"/>
<rect x="638.13" y="827.87" width="8.04" height="10.32" fill="#808000"/>
<rect x="647.17" y="827.87" width="8.04" height="10.32" fill="#ffff00"/>
<rect x="656.21" y="827.87" width="8.04" height="10.32" fill="#008080"/>
<rect x="665.25" y="827.87" width="8.04" height="10.32" fill="#0000ff"/>
<rect x="674.29" y="827.87" width="8.04" height="10.32" fill="#ffff00"/>
<rect x="122.85" y="839.19" width="8.04" height="10.32" fill="#008080"/>
<rect x="131.89" y="839.19" width="8.04" height="10.32" fill="#00ff00"/>
<rect x="140.93" y="839.19" width="8.04" height="10.32" fill="#ff0000"/>
<rect x="149.97" y="839.19" width="8.04" height="10.32" fill="#ffff00"/>
<rect x="159.01" y="839.19" width="8.04" height="10.32" fill="#ff00ff"/>
<rect x="168.05" y="839.19" width="8.04" height="10.32" fill="#ffff00"/>
<rect x="177.09" y="839.19" width="8.04" height="10.32" fill="#ffff00"/>
<rect x="186.13" y="839.19" width="8.04" height="10.32" fill="#008000"/>
<rect x="195.17" y="839.19" width="8.04" height="10.32" fill="#ffff00"/>
<rect x="204.21" y="839.19" width="8.04" height="10.32" fill="#ffff00"/>
<rect x="213.25" y="839.19" width="8.04" height="10.32" fill="#ff00ff"/>
<rect x="222.29" y="839.19" width="8.04" height="10.32" fill="#008000"/>
<rect x="231.33" y="839.19" width="8.04" height="10.32" fill="#ff0000"/>
<rect x="240.37" y="839.19" width="8.04" height="10.32" fill="#ff00ff"/>
<rect x="249.41" y="839.19" width="8.04" height="10.32" fill="#ff0000"/>
<rect x="258.45" y="839.19" width="8.04" height="10.32" fill="#ffff00"/>
<rect x="267.49" y="839.19" width="8.04" height="10.32" fill="#ff00ff"/>
<rect x="276.53" y="839.19" width="8.04" height="10.32" fill="#ff00ff"/>
<rect x="285.57" y="839.19" width="8.04" height="10.32" fill="#ffff00"/>
<rect x="294.61" y="839.19" width="8.04" height="10.32" fill="#008000"/>
<rect x="303.65" y="839.19" width="8.04" height="10.32" fill="#ffff00"/>
<rect x="312.69" y="839.19" width="8.04" height="10.32" fill="#008000"/>
<rect x="321.73" y="839.19" width="8.04" height="10.32" fill="#0000ff"/>
<rect x="348.85" y="839.19" width="8.04" height="10.32" fill="#ff00ff"/>
<rect x="357.89" y="839.19" width="8.04" height="10.32" fill="#ff00ff"/>
<rect x="366.93" y="839.19" width="8.04" height="10.32" fill="#ff0000"/>
<rect x="375.97" y="839.19" width="8.04" height="10.32" fill="#008000"/>
<rect x="385.01" y="839.19" width="8.04" height="10.32" fill="#ffff00"/>
<rect x="394.05" y="839.19" width="8.04" height="10.32" fill="#ff00ff"/>
<rect x="403.09" y="839.19" width="8.04" height="10.32" fill="#ffff00"/>
<rect x="412.13" y="839.19" width="8.04" height="10.32" fill="#ff0000"/>
<rect x="421.17" y="839.19" width="8.04" height="10.32" fill="#0000ff"/>
<rect x="430.21" y="839.19" width="8.04" height="10.32" fill="#0000ff"/>
<rect x="439.25" y="839.19" width="8.04" height="10.32" fill="#0000ff"/>
<rect x="448.29" y="839.19" width="8.04" height="10.32" fill="#ff0000"/>
<rect x="457.33" y="839.19" width="8.04" height="10.32" fill="#ffff00"/>
<rect x="466.37" y="839.19" width="8.04" height="10.32" fill="#ffff00"/>
<rect x="475.41" y="839.19" width="8.04" height="10.32" fill="#ffff00"/>
<rect x="484.45" y="839.19" width="8.04" height="10.32" fill="#ffff00"/>
<rect x="493.49" y="839.19" width="8.04" height="10.32" fill="#008000"/>
<rect x="502.53" y="839.19" width="8.04" height="10.32" fill="#ffff00"/>
<rect x="511.57" y="839.19" width="8.04" height="10.32" fill="#ff00ff"/>
<rect x="520.61" y="839.19" width="8.04" height="10.32" fill="#ff0000"/>
<rect x="529.65" y="839.19" width="8.04" height="10.32" fill="#ffff00"/>
<rect x="538.69" y="839.19" width="8.04" height="10.32" fill="#ffff00"/>
<rect x="547.73" y="839.19" width="8.04" height="10.32" fill="#008000"/>
<rect x="556.77" y="839.19" width="8.04" height="10.32" fill="#ffff00"/>
<rect x="565.81" y="839.19" width="8.04" height="10.32" fill="#008000"/>
<rect x="574.85" y="839.19" width="8.04" height="10.32" fill="#008000"/>
<rect x="583.89" y="839.19" width="8.04" height="10.32" fill="#008000"/>
<rect x="592.93" y="839.19" width="8.04" height="10.32" fill="#ff00ff"/>
<rect x="601.97" y="839.19" width="8.04" height="10.32" fill="#0000ff"/>
<rect x="611.01" y="839.19" width="8.04" height="10.32" fill="#00ff00"/>
<rect x="620.05" y="839.19" width="8.04" height="10.32" fill="#0000ff"/>
<rect x="629.09" y="839.19" width="8.04" height="10.32" fill="#008000"/>
<rect x="638.13" y="839.19" width="8.04" height="10.32" fill="#0000ff"/>
<rect x="647.17" y="839.19" width="8.04" height="10.32" fill="#ffff00"/>
<rect x="656.21" y="839.19" width="8.04" height="10.32" fill="#008080"/>
<rect x="665.25" y="839.19" width="8.04" height="10.32" fill="#0000ff"/>
<rect x="674.29" y="839.19" width="8.04" height="10.32" fill="#ffff00"/>
<text transform="matrix(1.3,0,0,1,126.87,541.46)">H</text>
<text transform="matrix(1.3,0,0,1,135.91,541.46)">S</text>
<text transform="matrix(1.3,0,0,1,144.95,541.46)">D</text>
<text transform="matrix(1.3,0,0,1,153.99,541.46)">N</text>
<text transform="matrix(1.3,0,0,1,163.03,541.46)">S</text>
<text transform="matrix(1.3,0,0,1,172.07,541.46)">F</text>
<text transform="matrix(1.3,0,0,1,181.11,541.46)">L</text>
<text transform="matrix(1.3,0,0,1,190.15,541.46)">T</text>
<text transform="matrix(1.3,0,0,1,199.19,541.46)">I</text>
<text transform="matrix(1.3,0,0,1,208.23,541.46)">L</text>
<text transform="matrix(1.3,0,0,1,217.27,541.46)">L</text>
<text transform="matrix(1.3,0,0,1,226.31,541.46)">Q</text>
<text transform="matrix(1.3,0,0,1,235.35,541.46)">D</text>
<rect x="241.99" y="538.26" width="4.8" height="0.9" fill="#333"/>
<text transform="matrix(1.3,0,0,1,253.43,541.46)">H</text>
<text transform="matrix(1.3,0,0,1,262.47,541.46)">I</text>
<text transform="matrix(1.3,0,0,1,271.51,541.46)">G</text>
<text transform="matrix(1.3,0,0,1,280.55,541.46)">G</text>
<text transform="matrix(1.3,0,0,1,289.59,541.46)">L</text>
<text transform="matrix(1.3,0,0,1,298.63,541.46)">Q</text>
<text transform="matrix(1.3,0,0,1,307.67,541.46)">V</text>
<text transform="matrix(1.3,0,0,1,316.71,541.46)">L</text>
<text transform="matrix(1.3,0,0,1,325.75,541.46)">H</text>
<rect x="332.39" y="538.26" width="4.8" height="0.9" fill="#333"/>
<rect x="341.43" y="538.26" width="4.8" height="0.9" fill="#333"/>
<text transform="matrix(1.3,0,0,1,352.87,541.46)">D</text>
<text transform="matrix(1.3,0,0,1,361.91,541.46)">Q</text>
<text transform="matrix(1.3,0,0,1,370.95,541.46)">Y</text>
<text transform="matrix(1.3,0,0,1,379.99,541.46)">W</text>
<text transform="matrix(1.3,0,0,1,389.03,541.46)">V</text>
<text transform="matrix(1.3,0,0,1,398.07,541.46)">D</text>
<text transform="matrix(1.3,0,0,1,407.11,541.46)">V</text>
<text transform="matrix(1.3,0,0,1,416.15,541.46)">P</text>
<text transform="matrix(1.3,0,0,1,425.19,541.46)">P</text>
<text transform="matrix(1.3,0,0,1,434.23,541.46)">V</text>
<text transform="matrix(1.3,0,0,1,443.27,541.46)">P</text>
<text transform="matrix(1.3,0,0,1,452.31,541.46)">G</text>
<text transform="matrix(1.3,0,0,1,461.35,541.46)">A</text>
<text transform="matrix(1.3,0,0,1,470.39,541.46)">L</text>
<text transform="matrix(1.3,0,0,1,479.43,541.46)">V</text>
<text transform="matrix(1.3,0,0,1,488.47,541.46)">V</text>
<text transform="matrix(1.3,0,0,1,497.51,541.46)">N</text>
<text transform="matrix(1.3,0,0,1,506.55,541.46)">V</text>
<text transform="matrix(1.3,0,0,1,515.59,541.46)">G</text>
<text transform="matrix(1.3,0,0,1,524.63,541.46)">D</text>
<text transform="matrix(1.3,0,0,1,533.67,541.46)">L</text>
<text transform="matrix(1.3,0,0,1,542.71,541.46)">L</text>
<text transform="matrix(1.3,0,0,1,551.75,541.46)">Q</text>
<text transform="matrix(1.3,0,0,1,560.79,541.46)">L</text>
<text transform="matrix(1.3,0,0,1,569.83,541.46)">I</text>
<text transform="matrix(1.3,0,0,1,578.87,541.46)">T</text>
<text transform="matrix(1.3,0,0,1,587.91,541.46)">N</text>
<text transform="matrix(1.3,0,0,1,596.95,541.46)">D</text>
<text transform="matrix(1.3,0,0,1,605.99,541.46)">K</text>
<text transform="matrix(1.3,0,0,1,615.03,541.46)">F</text>
<text transform="matrix(1.3,0,0,1,624.07,541.46)">I</text>
<text transform="matrix(1.3,0,0,1,633.11,541.46)">S</text>
<text transform="matrix(1.3,0,0,1,642.15,541.46)">V</text>
<text transform="matrix(1.3,0,0,1,651.19,541.46)">E</text>
<text transform="matrix(1.3,0,0,1,660.23,541.46)">H</text>
<text transform="matrix(1.3,0,0,1,669.27,541.46)">R</text>
<text transform="matrix(1.3,0,0,1,678.31,541.46)">V</text>
<text transform="matrix(1.3,0,0,1,126.87,552.78)">H</text>
<text transform="matrix(1.3,0,0,1,135.91,552.78)">S</text>
<text transform="matrix(1.3,0,0,1,144.95,552.78)">D</text>
<text transform="matrix(1.3,0,0,1,153.99,552.78)">N</text>
<text transform="matrix(1.3,0,0,1,163.03,552.78)">S</text>
<text transform="matrix(1.3,0,0,1,172.07,552.78)">F</text>
<text transform="matrix(1.3,0,0,1,181.11,552.78)">L</text>
<text transform="matrix(1.3,0,0,1,190.15,552.78)">T</text>
<text transform="matrix(1.3,0,0,1,199.19,552.78)">V</text>
<text transform="matrix(1.3,0,0,1,208.23,552.78)">L</text>
<text transform="matrix(1.3,0,0,1,217.27,552.78)">L</text>
<text transform="matrix(1.3,0,0,1,226.31,552.78)">Q</text>
<text transform="matrix(1.3,0,0,1,235.35,552.78)">D</text>
<rect x="241.99" y="549.58" width="4.8" height="0.9" fill="#333"/>
<text transform="matrix(1.3,0,0,1,253.43,552.78)">N</text>
<text transform="matrix(1.3,0,0,1,262.47,552.78)">V</text>
<text transform="matrix(1.3,0,0,1,271.51,552.78)">G</text>
<text transform="matrix(1.3,0,0,1,280.55,552.78)">G</text>
<text transform="matrix(1.3,0,0,1,289.59,552.78)">L</text>
<text transform="matrix(1.3,0,0,1,298.63,552.78)">Q</text>
<text transform="matrix(1.3,0,0,1,307.67,552.78)">V</text>
<text transform="matrix(1.3,0,0,1,316.71,552.78)">L</text>
<text transform="matrix(1.3,0,0,1,325.75,552.78)">H</text>
<rect x="332.39" y="549.58" width="4.8" height="0.9" fill="#333"/>
<rect x="341.43" y="549.58" width="4.8" height="0.9" fill="#333"/>
<text transform="matrix(1.3,0,0,1,352.87,552.78)">D</text>
<text transform="matrix(1.3,0,0,1,361.91,552.78)">Q</text>
<text transform="matrix(1.3,0,0,1,370.95,552.78)">Y</text>
<text transform="matrix(1.3,0,0,1,379.99,552.78)">W</text>
<text transform="matrix(1.3,0,0,1,389.03,552.78)">V</text>
<text transform="matrix(1.3,0,0,1,398.07,552.78)">D</text>
<text transform="matrix(1.3,0,0,1,407.11,552.78)">V</text>
<text transform="matrix(1.3,0,0,1,416.15,552.78)">P</text>
<text transform="matrix(1.3,0,0,1,425.19,552.78)">P</text>
<text transform="matrix(1.3,0,0,1,434.23,552.78)">V</text>
<text transform="matrix(1.3,0,0,1,443.27,552.78)">P</text>
<text transform="matrix(1.3,0,0,1,452.31,552.78)">G</text>
<text transform="matrix(1.3,0,0,1,461.35,552.78)">A</text>
<text transform="matrix(1.3,0,0,1,470.39,552.78)">L</text>
<text transform="matrix(1.3,0,0,1,479.43,552.78)">V</text>
<text transform="matrix(1.3,0,0,1,488.47,552.78)">I</text>
<text transform="matrix(1.3,0,0,1,497.51,552.78)">N</text>
<text transform="matrix(1.3,0,0,1,506.55,552.78)">V</text>
<text transform="matrix(1.3,0,0,1,515.59,552.78)">G</text>
<text transform="matrix(1.3,0,0,1,524.63,552.78)">D</text>
<text transform="matrix(1.3,0,0,1,533.67,552.78)">L</text>
<text transform="matrix(1.3,0,0,1,542.71,552.78)">L</text>
<text transform="matrix(1.3,0,0,1,551.75,552.78)">Q</text>
<text transform="matrix(1.3,0,0,1,560.79,552.78)">L</text>
<text transform="matrix(1.3,0,0,1,569.83,552.78)">I</text>
<text transform="matrix(1.3,0,0,1,578.87,552.78)">T</text>
<text transform="matrix(1.3,0,0,1,587.91,552.78)">N</text>
<text transform="matrix(1.3,0,0,1,596.95,552.78)">G</text>
<text transform="matrix(1.3,0,0,1,605.99,552.78)">K</text>
<text transform="matrix(1.3,0,0,1,615.03,552.78)">F</text>
<text transform="matrix(1.3,0,0,1,624.07,552.78)">I</text>
<text transform="matrix(1.3,0,0,1,633.11,552.78)">S</text>
<text transform="matrix(1.3,0,0,1,642.15,552.78)">V</text>
<text transform="matrix(1.3,0,0,1,651.19,552.78)">E</text>
<text transform="matrix(1.3,0,0,1,660.23,552.78)">H</text>
<text transform="matrix(1.3,0,0,1,669.27,552.78)">R</text>
<text transform="matrix(1.3,0,0,1,678.31,552.78)">V</text>
<text transform="matrix(1.3,0,0,1,126.87,564.10)">H</text>
<text transform="matrix(1.3,0,0,1,135.91,564.10)">S</text>
<text transform="matrix(1.3,0,0,1,144.95,564.10)">D</text>
<text transform="matrix(1.3,0,0,1,153.99,564.10)">N</text>
<text transform="matrix(1.3,0,0,1,163.03,564.10)">D</text>
<text transform="matrix(1.3,0,0,1,172.07,564.10)">F</text>
<text transform="matrix(1.3,0,0,1,181.11,564.10)">L</text>
<text transform="matrix(1.3,0,0,1,190.15,564.10)">T</text>
<text transform="matrix(1.3,0,0,1,199.19,564.10)">V</text>
<text transform="matrix(1.3,0,0,1,208.23,564.10)">L</text>
<text transform="matrix(1.3,0,0,1,217.27,564.10)">L</text>
<text transform="matrix(1.3,0,0,1,226.31,564.10)">Q</text>
<text transform="matrix(1.3,0,0,1,235.35,564.10)">D</text>
<rect x="241.99" y="560.90" width="4.8" height="0.9" fill="#333"/>
<text transform="matrix(1.3,0,0,1,253.43,564.10)">H</text>
<text transform="matrix(1.3,0,0,1,262.47,564.10)">I</text>
<text transform="matrix(1.3,0,0,1,271.51,564.10)">G</text>
<text transform="matrix(1.3,0,0,1,280.55,564.10)">G</text>
<text transform="matrix(1.3,0,0,1,289.59,564.10)">L</text>
<text transform="matrix(1.3,0,0,1,298.63,564.10)">Q</text>
<text transform="matrix(1.3,0,0,1,307.67,564.10)">I</text>
<text transform="matrix(1.3,0,0,1,316.71,564.10)">L</text>
<text transform="matrix(1.3,0,0,1,325.75,564.10)">H</text>
<rect x="332.39" y="560.90" width="4.8" height="0.9" fill="#333"/>
<rect x="341.43" y="560.90" width="4.8" height="0.9" fill="#333"/>
<text transform="matrix(1.3,0,0,1,352.87,564.10)">Q</text>
<text transform="matrix(1.3,0,0,1,361.91,564.10)">N</text>
<text transform="matrix(1.3,0,0,1,370.95,564.10)">Q</text>
<text transform="matrix(1.3,0,0,1,379.99,564.10)">W</text>
<text transform="matrix(1.3,0,0,1,389.03,564.10)">V</text>
<text transform="matrix(1.3,0,0,1,398.07,564.10)">D</text>
<text transform="matrix(1.3,0,0,1,407.11,564.10)">V</text>
<text transform="matrix(1.3,0,0,1,416.15,564.10)">P</text>
<text transform="matrix(1.3,0,0,1,425.19,564.10)">P</text>
<text transform="matrix(1.3,0,0,1,434.23,564.10)">T</text>
<text transform="matrix(1.3,0,0,1,443.27,564.10)">P</text>
<text transform="matrix(1.3,0,0,1,452.31,564.10)">G</text>
<text transform="matrix(1.3,0,0,1,461.35,564.10)">A</text>
<text transform="matrix(1.3,0,0,1,470.39,564.10)">L</text>
<text transform="matrix(1.3,0,0,1,479.43,564.10)">V</text>
<text transform="matrix(1.3,0,0,1,488.47,564.10)">V</text>
<text transform="matrix(1.3,0,0,1,497.51,564.10)">N</text>
<text transform="matrix(1.3,0,0,1,506.55,564.10)">I</text>
<text transform="matrix(1.3,0,0,1,515.59,564.10)">G</text>
<text transform="matrix(1.3,0,0,1,524.63,564.10)">D</text>
<text transform="matrix(1.3,0,0,1,533.67,564.10)">L</text>
<text transform="matrix(1.3,0,0,1,542.71,564.10)">L</text>
<text transform="matrix(1.3,0,0,1,551.75,564.10)">Q</text>
<text transform="matrix(1.3,0,0,1,560.79,564.10)">L</text>
<text transform="matrix(1.3,0,0,1,569.83,564.10)">I</text>
<text transform="matrix(1.3,0,0,1,578.87,564.10)">S</text>
<text transform="matrix(1.3,0,0,1,587.91,564.10)">N</text>
<text transform="matrix(1.3,0,0,1,596.95,564.10)">D</text>
<text transform="matrix(1.3,0,0,1,605.99,564.10)">G</text>
<text transform="matrix(1.3,0,0,1,615.03,564.10)">F</text>
<text transform="matrix(1.3,0,0,1,624.07,564.10)">R</text>
<text transform="matrix(1.3,0,0,1,633.11,564.10)">S</text>
<text transform="matrix(1.3,0,0,1,642.15,564.10)">V</text>
<text transform="matrix(1.3,0,0,1,651.19,564.10)">E</text>
<text transform="matrix(1.3,0,0,1,660.23,564.10)">H</text>
<text transform="matrix(1.3,0,0,1,669.27,564.10)">R</text>
<text transform="matrix(1.3,0,0,1,678.31,564.10)">V</text>
<text transform="matrix(1.3,0,0,1,126.87,575.42)">H</text>
<text transform="matrix(1.3,0,0,1,135.91,575.42)">A</text>
<text transform="matrix(1.3,0,0,1,144.95,575.42)">D</text>
<text transform="matrix(1.3,0,0,1,153.99,575.42)">N</text>
<text transform="matrix(1.3,0,0,1,163.03,575.42)">D</text>
<text transform="matrix(1.3,0,0,1,172.07,575.42)">F</text>
<text transform="matrix(1.3,0,0,1,181.11,575.42)">L</text>
<text transform="matrix(1.3,0,0,1,190.15,575.42)">T</text>
<text transform="matrix(1.3,0,0,1,199.19,575.42)">V</text>
<text transform="matrix(1.3,0,0,1,208.23,575.42)">L</text>
<text transform="matrix(1.3,0,0,1,217.27,575.42)">L</text>
<text transform="matrix(1.3,0,0,1,226.31,575.42)">Q</text>
<text transform="matrix(1.3,0,0,1,235.35,575.42)">D</text>
<rect x="241.99" y="572.22" width="4.8" height="0.9" fill="#333"/>
<text transform="matrix(1.3,0,0,1,253.43,575.42)">H</text>
<text transform="matrix(1.3,0,0,1,262.47,575.42)">I</text>
<text transform="matrix(1.3,0,0,1,271.51,575.42)">G</text>
<text transform="matrix(1.3,0,0,1,280.55,575.42)">G</text>
<text transform="matrix(1.3,0,0,1,289.59,575.42)">L</text>
<text transform="matrix(1.3,0,0,1,298.63,575.42)">Q</text>
<text transform="matrix(1.3,0,0,1,307.67,575.42)">V</text>
<text transform="matrix(1.3,0,0,1,316.71,575.42)">F</text>
<text transform="matrix(1.3,0,0,1,325.75,575.42)">H</text>
<rect x="332.39" y="572.22" width="4.8" height="0.9" fill="#333"/>
<rect x="341.43" y="572.22" width="4.8" height="0.9" fill="#333"/>
<text transform="matrix(1.3,0,0,1,352.87,575.42)">E</text>
<text transform="matrix(1.3,0,0,1,361.91,575.42)">N</text>
<text transform="matrix(1.3,0,0,1,370.95,575.42)">Q</text>
<text transform="matrix(1.3,0,0,1,379.99,575.42)">W</text>
<text transform="matrix(1.3,0,0,1,389.03,575.42)">V</text>
<text transform="matrix(1.3,0,0,1,398.07,575.42)">D</text>
<text transform="matrix(1.3,0,0,1,407.11,575.42)">V</text>
<text transform="matrix(1.3,0,0,1,416.15,575.42)">P</text>
<text transform="matrix(1.3,0,0,1,425.19,575.42)">P</text>
<text transform="matrix(1.3,0,0,1,434.23,575.42)">T</text>
<text transform="matrix(1.3,0,0,1,443.27,575.42)">P</text>
<text transform="matrix(1.3,0,0,1,452.31,575.42)">G</text>
<text transform="matrix(1.3,0,0,1,461.35,575.42)">A</text>
<text transform="matrix(1.3,0,0,1,470.39,575.42)">L</text>
<text transform="matrix(1.3,0,0,1,479.43,575.42)">V</text>
<text transform="matrix(1.3,0,0,1,488.47,575.42)">I</text>
<text transform="matrix(1.3,0,0,1,497.51,575.42)">N</text>
<text transform="matrix(1.3,0,0,1,506.55,575.42)">I</text>
<text transform="matrix(1.3,0,0,1,515.59,575.42)">G</text>
<text transform="matrix(1.3,0,0,1,524.63,575.42)">D</text>
<text transform="matrix(1.3,0,0,1,533.67,575.42)">L</text>
<text transform="matrix(1.3,0,0,1,542.71,575.42)">L</text>
<text transform="matrix(1.3,0,0,1,551.75,575.42)">K</text>
<text transform="matrix(1.3,0,0,1,560.79,575.42)">L</text>
<text transform="matrix(1.3,0,0,1,569.83,575.42)">I</text>
<text transform="matrix(1.3,0,0,1,578.87,575.42)">S</text>
<text transform="matrix(1.3,0,0,1,587.91,575.42)">N</text>
<text transform="matrix(1.3,0,0,1,596.95,575.42)">D</text>
<text transform="matrix(1.3,0,0,1,605.99,575.42)">A</text>
<text transform="matrix(1.3,0,0,1,615.03,575.42)">F</text>
<text transform="matrix(1.3,0,0,1,624.07,575.42)">V</text>
<text transform="matrix(1.3,0,0,1,633.11,575.42)">S</text>
<text transform="matrix(1.3,0,0,1,642.15,575.42)">V</text>
<text transform="matrix(1.3,0,0,1,651.19,575.42)">E</text>
<text transform="matrix(1.3,0,0,1,660.23,575.42)">H</text>
<text transform="matrix(1.3,0,0,1,669.27,575.42)">R</text>
<text transform="matrix(1.3,0,0,1,678.31,575.42)">V</text>
<text transform="matrix(1.3,0,0,1,126.87,586.74)">H</text>
<text transform="matrix(1.3,0,0,1,135.91,586.74)">T</text>
<text transform="matrix(1.3,0,0,1,144.95,586.74)">D</text>
<text transform="matrix(1.3,0,0,1,153.99,586.74)">S</text>
<text transform="matrix(1.3,0,0,1,163.03,586.74)">D</text>
<text transform="matrix(1.3,0,0,1,172.07,586.74)">F</text>
<text transform="matrix(1.3,0,0,1,181.11,586.74)">L</text>
<text transform="matrix(1.3,0,0,1,190.15,586.74)">T</text>
<text transform="matrix(1.3,0,0,1,199.19,586.74)">V</text>
<text transform="matrix(1.3,0,0,1,208.23,586.74)">L</text>
<text transform="matrix(1.3,0,0,1,217.27,586.74)">L</text>
<text transform="matrix(1.3,0,0,1,226.31,586.74)">Q</text>
<text transform="matrix(1.3,0,0,1,235.35,586.74)">D</text>
<rect x="241.99" y="583.54" width="4.8" height="0.9" fill="#333"/>
<text transform="matrix(1.3,0,0,1,253.43,586.74)">H</text>
<text transform="matrix(1.3,0,0,1,262.47,586.74)">V</text>
<text transform="matrix(1.3,0,0,1,271.51,586.74)">G</text>
<text transform="matrix(1.3,0,0,1,280.55,586.74)">G</text>
<text transform="matrix(1.3,0,0,1,289.59,586.74)">L</text>
<text transform="matrix(1.3,0,0,1,298.63,586.74)">Q</text>
<text transform="matrix(1.3,0,0,1,307.67,586.74)">V</text>
<text transform="matrix(1.3,0,0,1,316.71,586.74)">L</text>
<text transform="matrix(1.3,0,0,1,325.75,586.74)">Y</text>
<rect x="332.39" y="583.54" width="4.8" height="0.9" fill="#333"/>
<rect x="341.43" y="583.54" width="4.8" height="0.9" fill="#333"/>
<text transform="matrix(1.3,0,0,1,352.87,586.74)">Q</text>
<text transform="matrix(1.3,0,0,1,361.91,586.74)">N</text>
<text transform="matrix(1.3,0,0,1,370.95,586.74)">Q</text>
<text transform="matrix(1.3,0,0,1,379.99,586.74)">W</text>
<text transform="matrix(1.3,0,0,1,389.03,586.74)">I</text>
<text transform="matrix(1.3,0,0,1,398.07,586.74)">D</text>
<text transform="matrix(1.3,0,0,1,407.11,586.74)">V</text>
<text transform="matrix(1.3,0,0,1,416.15,586.74)">S</text>
<text transform="matrix(1.3,0,0,1,425.19,586.74)">P</text>
<text transform="matrix(1.3,0,0,1,434.23,586.74)">V</text>
<text transform="matrix(1.3,0,0,1,443.27,586.74)">P</text>
<text transform="matrix(1.3,0,0,1,452.31,586.74)">G</text>
<text transform="matrix(1.3,0,0,1,461.35,586.74)">A</text>
<text transform="matrix(1.3,0,0,1,470.39,586.74)">L</text>
<text transform="matrix(1.3,0,0,1,479.43,586.74)">I</text>
<text transform="matrix(1.3,0,0,1,488.47,586.74)">V</text>
<text transform="matrix(1.3,0,0,1,497.51,586.74)">N</text>
<text transform="matrix(1.3,0,0,1,506.55,586.74)">I</text>
<text transform="matrix(1.3,0,0,1,515.59,586.74)">G</text>
<text transform="matrix(1.3,0,0,1,524.63,586.74)">D</text>
<text transform="matrix(1.3,0,0,1,533.67,586.74)">L</text>
<text transform="matrix(1.3,0,0,1,542.71,586.74)">L</text>
<text transform="matrix(1.3,0,0,1,551.75,586.74)">Q</text>
<text transform="matrix(1.3,0,0,1,560.79,586.74)">L</text>
<text transform="matrix(1.3,0,0,1,569.83,586.74)">I</text>
<text transform="matrix(1.3,0,0,1,578.87,586.74)">S</text>
<text transform="matrix(1.3,0,0,1,587.91,586.74)">N</text>
<text transform="matrix(1.3,0,0,1,596.95,586.74)">D</text>
<text transform="matrix(1.3,0,0,1,605.99,586.74)">I</text>
<text transform="matrix(1.3,0,0,1,615.03,586.74)">F</text>
<text transform="matrix(1.3,0,0,1,624.07,586.74)">K</text>
<text transform="matrix(1.3,0,0,1,633.11,586.74)">S</text>
<text transform="matrix(1.3,0,0,1,642.15,586.74)">S</text>
<text transform="matrix(1.3,0,0,1,651.19,586.74)">E</text>
<text transform="matrix(1.3,0,0,1,660.23,586.74)">H</text>
<text transform="matrix(1.3,0,0,1,669.27,586.74)">R</text>
<text transform="matrix(1.3,0,0,1,678.31,586.74)">V</text>
<text transform="matrix(1.3,0,0,1,126.87,598.06)">H</text>
<text transform="matrix(1.3,0,0,1,135.91,598.06)">A</text>
<text transform="matrix(1.3,0,0,1,144.95,598.06)">D</text>
<text transform="matrix(1.3,0,0,1,153.99,598.06)">N</text>
<text transform="matrix(1.3,0,0,1,163.03,598.06)">D</text>
<text transform="matrix(1.3,0,0,1,172.07,598.06)">F</text>
<text transform="matrix(1.3,0,0,1,181.11,598.06)">L</text>
<text transform="matrix(1.3,0,0,1,190.15,598.06)">T</text>
<text transform="matrix(1.3,0,0,1,199.19,598.06)">I</text>
<text transform="matrix(1.3,0,0,1,208.23,598.06)">L</text>
<text transform="matrix(1.3,0,0,1,217.27,598.06)">L</text>
<text transform="matrix(1.3,0,0,1,226.31,598.06)">Q</text>
<text transform="matrix(1.3,0,0,1,235.35,598.06)">D</text>
<rect x="241.99" y="594.86" width="4.8" height="0.9" fill="#333"/>
<text transform="matrix(1.3,0,0,1,253.43,598.06)">H</text>
<text transform="matrix(1.3,0,0,1,262.47,598.06)">I</text>
<text transform="matrix(1.3,0,0,1,271.51,598.06)">G</text>
<text transform="matrix(1.3,0,0,1,280.55,598.06)">G</text>
<text transform="matrix(1.3,0,0,1,289.59,598.06)">L</text>
<text transform="matrix(1.3,0,0,1,298.63,598.06)">Q</text>
<text transform="matrix(1.3,0,0,1,307.67,598.06)">V</text>
<text transform="matrix(1.3,0,0,1,316.71,598.06)">L</text>
<text transform="matrix(1.3,0,0,1,325.75,598.06)">H</text>
<rect x="332.39" y="594.86" width="4.8" height="0.9" fill="#333"/>
<rect x="341.43" y="594.86" width="4.8" height="0.9" fill="#333"/>
<text transform="matrix(1.3,0,0,1,352.87,598.06)">Q</text>
<text transform="matrix(1.3,0,0,1,361.91,598.06)">G</text>
<text transform="matrix(1.3,0,0,1,370.95,598.06)">K</text>
<text transform="matrix(1.3,0,0,1,379.99,598.06)">W</text>
<text transform="matrix(1.3,0,0,1,389.03,598.06)">V</text>
<text transform="matrix(1.3,0,0,1,398.07,598.06)">D</text>
<text transform="matrix(1.3,0,0,1,407.11,598.06)">I</text>
<text transform="matrix(1.3,0,0,1,416.15,598.06)">P</text>
<text transform="matrix(1.3,0,0,1,425.19,598.06)">P</text>
<text transform="matrix(1.3,0,0,1,434.23,598.06)">V</text>
<text transform="matrix(1.3,0,0,1,443.27,598.06)">P</text>
<text transform="matrix(1.3,0,0,1,452.31,598.06)">G</text>
<text transform="matrix(1.3,0,0,1,461.35,598.06)">A</text>
<text transform="matrix(1.3,0,0,1,470.39,598.06)">L</text>
<text transform="matrix(1.3,0,0,1,479.43,598.06)">V</text>
<text transform="matrix(1.3,0,0,1,488.47,598.06)">V</text>
<text transform="matrix(1.3,0,0,1,497.51,598.06)">N</text>
<text transform="matrix(1.3,0,0,1,506.55,598.06)">I</text>
<text transform="matrix(1.3,0,0,1,515.59,598.06)">G</text>
<text transform="matrix(1.3,0,0,1,524.63,598.06)">D</text>
<text transform="matrix(1.3,0,0,1,533.67,598.06)">L</text>
<text transform="matrix(1.3,0,0,1,542.71,598.06)">L</text>
<text transform="matrix(1.3,0,0,1,551.75,598.06)">Q</text>
<text transform="matrix(1.3,0,0,1,560.79,598.06)">L</text>
<text transform="matrix(1.3,0,0,1,569.83,598.06)">I</text>
<text transform="matrix(1.3,0,0,1,578.87,598.06)">S</text>
<text transform="matrix(1.3,0,0,1,587.91,598.06)">N</text>
<text transform="matrix(1.3,0,0,1,596.95,598.06)">D</text>
<text transform="matrix(1.3,0,0,1,605.99,598.06)">K</text>
<text transform="matrix(1.3,0,0,1,615.03,598.06)">F</text>
<text transform="matrix(1.3,0,0,1,624.07,598.06)">K</text>
<text transform="matrix(1.3,0,0,1,633.11,598.06)">S</text>
<text transform="matrix(1.3,0,0,1,642.15,598.06)">I</text>
<text transform="matrix(1.3,0,0,1,651.19,598.06)">Q</text>
<text transform="matrix(1.3,0,0,1,660.23,598.06)">H</text>
<text transform="matrix(1.3,0,0,1,669.27,598.06)">R</text>
<text transform="matrix(1.3,0,0,1,678.31,598.06)">V</text>
<text transform="matrix(1.3,0,0,1,126.87,609.38)">H</text>
<text transform="matrix(1.3,0,0,1,135.91,609.38)">S</text>
<text transform="matrix(1.3,0,0,1,144.95,609.38)">D</text>
<text transform="matrix(1.3,0,0,1,153.99,609.38)">N</text>
<text transform="matrix(1.3,0,0,1,163.03,609.38)">D</text>
<text transform="matrix(1.3,0,0,1,172.07,609.38)">F</text>
<text transform="matrix(1.3,0,0,1,181.11,609.38)">L</text>
<text transform="matrix(1.3,0,0,1,190.15,609.38)">T</text>
<text transform="matrix(1.3,0,0,1,199.19,609.38)">V</text>
<text transform="matrix(1.3,0,0,1,208.23,609.38)">L</text>
<text transform="matrix(1.3,0,0,1,217.27,609.38)">L</text>
<text transform="matrix(1.3,0,0,1,226.31,609.38)">Q</text>
<text transform="matrix(1.3,0,0,1,235.35,609.38)">D</text>
<rect x="241.99" y="606.18" width="4.8" height="0.9" fill="#333"/>
<text transform="matrix(1.3,0,0,1,253.43,609.38)">H</text>
<text transform="matrix(1.3,0,0,1,262.47,609.38)">I</text>
<text transform="matrix(1.3,0,0,1,271.51,609.38)">G</text>
<text transform="matrix(1.3,0,0,1,280.55,609.38)">G</text>
<text transform="matrix(1.3,0,0,1,289.59,609.38)">L</text>
<text transform="matrix(1.3,0,0,1,298.63,609.38)">Q</text>
<text transform="matrix(1.3,0,0,1,307.67,609.38)">V</text>
<text transform="matrix(1.3,0,0,1,316.71,609.38)">L</text>
<text transform="matrix(1.3,0,0,1,325.75,609.38)">Y</text>
<rect x="332.39" y="606.18" width="4.8" height="0.9" fill="#333"/>
<rect x="341.43" y="606.18" width="4.8" height="0.9" fill="#333"/>
<text transform="matrix(1.3,0,0,1,352.87,609.38)">E</text>
<text transform="matrix(1.3,0,0,1,361.91,609.38)">D</text>
<text transform="matrix(1.3,0,0,1,370.95,609.38)">K</text>
<text transform="matrix(1.3,0,0,1,379.99,609.38)">W</text>
<text transform="matrix(1.3,0,0,1,389.03,609.38)">I</text>
<text transform="matrix(1.3,0,0,1,398.07,609.38)">D</text>
<text transform="matrix(1.3,0,0,1,407.11,609.38)">I</text>
<text transform="matrix(1.3,0,0,1,416.15,609.38)">T</text>
<text transform="matrix(1.3,0,0,1,425.19,609.38)">P</text>
<text transform="matrix(1.3,0,0,1,434.23,609.38)">V</text>
<text transform="matrix(1.3,0,0,1,443.27,609.38)">S</text>
<text transform="matrix(1.3,0,0,1,452.31,609.38)">G</text>
<text transform="matrix(1.3,0,0,1,461.35,609.38)">A</text>
<text transform="matrix(1.3,0,0,1,470.39,609.38)">L</text>
<text transform="matrix(1.3,0,0,1,479.43,609.38)">I</text>
<text transform="matrix(1.3,0,0,1,488.47,609.38)">V</text>
<text transform="matrix(1.3,0,0,1,497.51,609.38)">N</text>
<text transform="matrix(1.3,0,0,1,506.55,609.38)">V</text>
<text transform="matrix(1.3,0,0,1,515.59,609.38)">G</text>
<text transform="matrix(1.3,0,0,1,524.63,609.38)">D</text>
<text transform="matrix(1.3,0,0,1,533.67,609.38)">L</text>
<text transform="matrix(1.3,0,0,1,542.71,609.38)">L</text>
<text transform="matrix(1.3,0,0,1,551.75,609.38)">Q</text>
<text transform="matrix(1.3,0,0,1,560.79,609.38)">L</text>
<text transform="matrix(1.3,0,0,1,569.83,609.38)">I</text>
<text transform="matrix(1.3,0,0,1,578.87,609.38)">T</text>
<text transform="matrix(1.3,0,0,1,587.91,609.38)">N</text>
<text transform="matrix(1.3,0,0,1,596.95,609.38)">D</text>
<text transform="matrix(1.3,0,0,1,605.99,609.38)">K</text>
<text transform="matrix(1.3,0,0,1,615.03,609.38)">F</text>
<text transform="matrix(1.3,0,0,1,624.07,609.38)">K</text>
<text transform="matrix(1.3,0,0,1,633.11,609.38)">S</text>
<text transform="matrix(1.3,0,0,1,642.15,609.38)">V</text>
<text transform="matrix(1.3,0,0,1,651.19,609.38)">V</text>
<text transform="matrix(1.3,0,0,1,660.23,609.38)">H</text>
<text transform="matrix(1.3,0,0,1,669.27,609.38)">R</text>
<text transform="matrix(1.3,0,0,1,678.31,609.38)">V</text>
<text transform="matrix(1.3,0,0,1,126.87,620.70)">H</text>
<text transform="matrix(1.3,0,0,1,135.91,620.70)">S</text>
<text transform="matrix(1.3,0,0,1,144.95,620.70)">D</text>
<text transform="matrix(1.3,0,0,1,153.99,620.70)">N</text>
<text transform="matrix(1.3,0,0,1,163.03,620.70)">C</text>
<text transform="matrix(1.3,0,0,1,172.07,620.70)">F</text>
<text transform="matrix(1.3,0,0,1,181.11,620.70)">L</text>
<text transform="matrix(1.3,0,0,1,190.15,620.70)">T</text>
<text transform="matrix(1.3,0,0,1,199.19,620.70)">V</text>
<text transform="matrix(1.3,0,0,1,208.23,620.70)">L</text>
<text transform="matrix(1.3,0,0,1,217.27,620.70)">L</text>
<text transform="matrix(1.3,0,0,1,226.31,620.70)">Q</text>
<text transform="matrix(1.3,0,0,1,235.35,620.70)">D</text>
<rect x="241.99" y="617.50" width="4.8" height="0.9" fill="#333"/>
<text transform="matrix(1.3,0,0,1,253.43,620.70)">H</text>
<text transform="matrix(1.3,0,0,1,262.47,620.70)">I</text>
<text transform="matrix(1.3,0,0,1,271.51,620.70)">G</text>
<text transform="matrix(1.3,0,0,1,280.55,620.70)">G</text>
<text transform="matrix(1.3,0,0,1,289.59,620.70)">L</text>
<text transform="matrix(1.3,0,0,1,298.63,620.70)">Q</text>
<text transform="matrix(1.3,0,0,1,307.67,620.70)">V</text>
<text transform="matrix(1.3,0,0,1,316.71,620.70)">L</text>
<text transform="matrix(1.3,0,0,1,325.75,620.70)">Y</text>
<rect x="332.39" y="617.50" width="4.8" height="0.9" fill="#333"/>
<rect x="341.43" y="617.50" width="4.8" height="0.9" fill="#333"/>
<text transform="matrix(1.3,0,0,1,352.87,620.70)">Q</text>
<text transform="matrix(1.3,0,0,1,361.91,620.70)">N</text>
<text transform="matrix(1.3,0,0,1,370.95,620.70)">M</text>
<text transform="matrix(1.3,0,0,1,379.99,620.70)">W</text>
<text transform="matrix(1.3,0,0,1,389.03,620.70)">I</text>
<text transform="matrix(1.3,0,0,1,398.07,620.70)">D</text>
<text transform="matrix(1.3,0,0,1,407.11,620.70)">I</text>
<text transform="matrix(1.3,0,0,1,416.15,620.70)">T</text>
<text transform="matrix(1.3,0,0,1,425.19,620.70)">P</text>
<text transform="matrix(1.3,0,0,1,434.23,620.70)">E</text>
<text transform="matrix(1.3,0,0,1,443.27,620.70)">P</text>
<text transform="matrix(1.3,0,0,1,452.31,620.70)">G</text>
<text transform="matrix(1.3,0,0,1,461.35,620.70)">A</text>
<text transform="matrix(1.3,0,0,1,470.39,620.70)">L</text>
<text transform="matrix(1.3,0,0,1,479.43,620.70)">V</text>
<text transform="matrix(1.3,0,0,1,488.47,620.70)">V</text>
<text transform="matrix(1.3,0,0,1,497.51,620.70)">N</text>
<text transform="matrix(1.3,0,0,1,506.55,620.70)">I</text>
<text transform="matrix(1.3,0,0,1,515.59,620.70)">G</text>
<text transform="matrix(1.3,0,0,1,524.63,620.70)">D</text>
<text transform="matrix(1.3,0,0,1,533.67,620.70)">L</text>
<text transform="matrix(1.3,0,0,1,542.71,620.70)">L</text>
<text transform="matrix(1.3,0,0,1,551.75,620.70)">Q</text>
<text transform="matrix(1.3,0,0,1,560.79,620.70)">L</text>
<text transform="matrix(1.3,0,0,1,569.83,620.70)">I</text>
<text transform="matrix(1.3,0,0,1,578.87,620.70)">T</text>
<text transform="matrix(1.3,0,0,1,587.91,620.70)">N</text>
<text transform="matrix(1.3,0,0,1,596.95,620.70)">D</text>
<text transform="matrix(1.3,0,0,1,605.99,620.70)">R</text>
<text transform="matrix(1.3,0,0,1,615.03,620.70)">F</text>
<text transform="matrix(1.3,0,0,1,624.07,620.70)">K</text>
<text transform="matrix(1.3,0,0,1,633.11,620.70)">S</text>
<text transform="matrix(1.3,0,0,1,642.15,620.70)">V</text>
<text transform="matrix(1.3,0,0,1,651.19,620.70)">E</text>
<text transform="matrix(1.3,0,0,1,660.23,620.70)">H</text>
<text transform="matrix(1.3,0,0,1,669.27,620.70)">R</text>
<text transform="matrix(1.3,0,0,1,678.31,620.70)">V</text>
<text transform="matrix(1.3,0,0,1,126.87,632.02)">H</text>
<text transform="matrix(1.3,0,0,1,135.91,632.02)">S</text>
<text transform="matrix(1.3,0,0,1,144.95,632.02)">D</text>
<text transform="matrix(1.3,0,0,1,153.99,632.02)">N</text>
<text transform="matrix(1.3,0,0,1,163.03,632.02)">D</text>
<text transform="matrix(1.3,0,0,1,172.07,632.02)">F</text>
<text transform="matrix(1.3,0,0,1,181.11,632.02)">L</text>
<text transform="matrix(1.3,0,0,1,190.15,632.02)">T</text>
<text transform="matrix(1.3,0,0,1,199.19,632.02)">V</text>
<text transform="matrix(1.3,0,0,1,208.23,632.02)">L</text>
<text transform="matrix(1.3,0,0,1,217.27,632.02)">L</text>
<text transform="matrix(1.3,0,0,1,226.31,632.02)">Q</text>
<text transform="matrix(1.3,0,0,1,235.35,632.02)">D</text>
<rect x="241.99" y="628.82" width="4.8" height="0.9" fill="#333"/>
<text transform="matrix(1.3,0,0,1,253.43,632.02)">H</text>
<text transform="matrix(1.3,0,0,1,262.47,632.02)">I</text>
<text transform="matrix(1.3,0,0,1,271.51,632.02)">G</text>
<text transform="matrix(1.3,0,0,1,280.55,632.02)">G</text>
<text transform="matrix(1.3,0,0,1,289.59,632.02)">L</text>
<text transform="matrix(1.3,0,0,1,298.63,632.02)">Q</text>
<text transform="matrix(1.3,0,0,1,307.67,632.02)">V</text>
<text transform="matrix(1.3,0,0,1,316.71,632.02)">M</text>
<text transform="matrix(1.3,0,0,1,325.75,632.02)">Y</text>
<rect x="332.39" y="628.82" width="4.8" height="0.9" fill="#333"/>
<rect x="341.43" y="628.82" width="4.8" height="0.9" fill="#333"/>
<text transform="matrix(1.3,0,0,1,352.87,632.02)">Q</text>
<text transform="matrix(1.3,0,0,1,361.91,632.02)">N</text>
<text transform="matrix(1.3,0,0,1,370.95,632.02)">H</text>
<text transform="matrix(1.3,0,0,1,379.99,632.02)">W</text>
<text transform="matrix(1.3,0,0,1,389.03,632.02)">V</text>
<text transform="matrix(1.3,0,0,1,398.07,632.02)">D</text>
<text transform="matrix(1.3,0,0,1,407.11,632.02)">V</text>
<text transform="matrix(1.3,0,0,1,416.15,632.02)">P</text>
<text transform="matrix(1.3,0,0,1,425.19,632.02)">P</text>
<text transform="matrix(1.3,0,0,1,434.23,632.02)">T</text>
<text transform="matrix(1.3,0,0,1,443.27,632.02)">P</text>
<text transform="matrix(1.3,0,0,1,452.31,632.02)">G</text>
<text transform="matrix(1.3,0,0,1,461.35,632.02)">A</text>
<text transform="matrix(1.3,0,0,1,470.39,632.02)">L</text>
<text transform="matrix(1.3,0,0,1,479.43,632.02)">L</text>
<text transform="matrix(1.3,0,0,1,488.47,632.02)">I</text>
<text transform="matrix(1.3,0,0,1,497.51,632.02)">N</text>
<text transform="matrix(1.3,0,0,1,506.55,632.02)">I</text>
<text transform="matrix(1.3,0,0,1,515.59,632.02)">G</text>
<text transform="matrix(1.3,0,0,1,524.63,632.02)">D</text>
<text transform="matrix(1.3,0,0,1,533.67,632.02)">L</text>
<text transform="matrix(1.3,0,0,1,542.71,632.02)">L</text>
<text transform="matrix(1.3,0,0,1,551.75,632.02)">Q</text>
<text transform="matrix(1.3,0,0,1,560.79,632.02)">L</text>
<text transform="matrix(1.3,0,0,1,569.83,632.02)">I</text>
<text transform="matrix(1.3,0,0,1,578.87,632.02)">S</text>
<text transform="matrix(1.3,0,0,1,587.91,632.02)">N</text>
<text transform="matrix(1.3,0,0,1,596.95,632.02)">D</text>
<text transform="matrix(1.3,0,0,1,605.99,632.02)">K</text>
<text transform="matrix(1.3,0,0,1,615.03,632.02)">F</text>
<text transform="matrix(1.3,0,0,1,624.07,632.02)">I</text>
<text transform="matrix(1.3,0,0,1,633.11,632.02)">S</text>
<text transform="matrix(1.3,0,0,1,642.15,632.02)">V</text>
<text transform="matrix(1.3,0,0,1,651.19,632.02)">E</text>
<text transform="matrix(1.3,0,0,1,660.23,632.02)">H</text>
<text transform="matrix(1.3,0,0,1,669.27,632.02)">R</text>
<text transform="matrix(1.3,0,0,1,678.31,632.02)">V</text>
<text transform="matrix(1.3,0,0,1,126.87,643.34)">H</text>
<text transform="matrix(1.3,0,0,1,135.91,643.34)">A</text>
<text transform="matrix(1.3,0,0,1,144.95,643.34)">D</text>
<text transform="matrix(1.3,0,0,1,153.99,643.34)">N</text>
<text transform="matrix(1.3,0,0,1,163.03,643.34)">D</text>
<text transform="matrix(1.3,0,0,1,172.07,643.34)">F</text>
<text transform="matrix(1.3,0,0,1,181.11,643.34)">L</text>
<text transform="matrix(1.3,0,0,1,190.15,643.34)">T</text>
<text transform="matrix(1.3,0,0,1,199.19,643.34)">V</text>
<text transform="matrix(1.3,0,0,1,208.23,643.34)">L</text>
<text transform="matrix(1.3,0,0,1,217.27,643.34)">L</text>
<text transform="matrix(1.3,0,0,1,226.31,643.34)">Q</text>
<text transform="matrix(1.3,0,0,1,235.35,643.34)">D</text>
<rect x="241.99" y="640.14" width="4.8" height="0.9" fill="#333"/>
<text transform="matrix(1.3,0,0,1,253.43,643.34)">Q</text>
<text transform="matrix(1.3,0,0,1,262.47,643.34)">I</text>
<text transform="matrix(1.3,0,0,1,271.51,643.34)">G</text>
<text transform="matrix(1.3,0,0,1,280.55,643.34)">G</text>
<text transform="matrix(1.3,0,0,1,289.59,643.34)">L</text>
<text transform="matrix(1.3,0,0,1,298.63,643.34)">Q</text>
<text transform="matrix(1.3,0,0,1,307.67,643.34)">V</text>
<text transform="matrix(1.3,0,0,1,316.71,643.34)">L</text>
<text transform="matrix(1.3,0,0,1,325.75,643.34)">H</text>
<rect x="332.39" y="640.14" width="4.8" height="0.9" fill="#333"/>
<rect x="341.43" y="640.14" width="4.8" height="0.9" fill="#333"/>
<text transform="matrix(1.3,0,0,1,352.87,643.34)">Q</text>
<text transform="matrix(1.3,0,0,1,361.91,643.34)">G</text>
<text transform="matrix(1.3,0,0,1,370.95,643.34)">Q</text>
<text transform="matrix(1.3,0,0,1,379.99,643.34)">W</text>
<text transform="matrix(1.3,0,0,1,389.03,643.34)">I</text>
<text transform="matrix(1.3,0,0,1,398.07,643.34)">D</text>
<text transform="matrix(1.3,0,0,1,407.11,643.34)">V</text>
<text transform="matrix(1.3,0,0,1,416.15,643.34)">P</text>
<text transform="matrix(1.3,0,0,1,425.19,643.34)">P</text>
<text transform="matrix(1.3,0,0,1,434.23,643.34)">M</text>
<text transform="matrix(1.3,0,0,1,443.27,643.34)">P</text>
<text transform="matrix(1.3,0,0,1,452.31,643.34)">G</text>
<text transform="matrix(1.3,0,0,1,461.35,643.34)">A</text>
<text transform="matrix(1.3,0,0,1,470.39,643.34)">L</text>
<text transform="matrix(1.3,0,0,1,479.43,643.34)">V</text>
<text transform="matrix(1.3,0,0,1,488.47,643.34)">I</text>
<text transform="matrix(1.3,0,0,1,497.51,643.34)">N</text>
<text transform="matrix(1.3,0,0,1,506.55,643.34)">V</text>
<text transform="matrix(1.3,0,0,1,515.59,643.34)">G</text>
<text transform="matrix(1.3,0,0,1,524.63,643.34)">D</text>
<text transform="matrix(1.3,0,0,1,533.67,643.34)">L</text>
<text transform="matrix(1.3,0,0,1,542.71,643.34)">L</text>
<text transform="matrix(1.3,0,0,1,551.75,643.34)">Q</text>
<text transform="matrix(1.3,0,0,1,560.79,643.34)">L</text>
<text transform="matrix(1.3,0,0,1,569.83,643.34)">I</text>
<text transform="matrix(1.3,0,0,1,578.87,643.34)">T</text>
<text transform="matrix(1.3,0,0,1,587.91,643.34)">N</text>
<text transform="matrix(1.3,0,0,1,596.95,643.34)">D</text>
<text transform="matrix(1.3,0,0,1,605.99,643.34)">R</text>
<text transform="matrix(1.3,0,0,1,615.03,643.34)">F</text>
<text transform="matrix(1.3,0,0,1,624.07,643.34)">K</text>
<text transform="matrix(1.3,0,0,1,633.11,643.34)">S</text>
<text transform="matrix(1.3,0,0,1,642.15,643.34)">V</text>
<text transform="matrix(1.3,0,0,1,651.19,643.34)">E</text>
<text transform="matrix(1.3,0,0,1,660.23,643.34)">H</text>
<text transform="matrix(1.3,0,0,1,669.27,643.34)">R</text>
<text transform="matrix(1.3,0,0,1,678.31,643.34)">V</text>
<text transform="matrix(1.3,0,0,1,126.87,654.66)">H</text>
<text transform="matrix(1.3,0,0,1,135.91,654.66)">A</text>
<text transform="matrix(1.3,0,0,1,144.95,654.66)">D</text>
<text transform="matrix(1.3,0,0,1,153.99,654.66)">D</text>
<text transform="matrix(1.3,0,0,1,163.03,654.66)">G</text>
<text transform="matrix(1.3,0,0,1,172.07,654.66)">F</text>
<text transform="matrix(1.3,0,0,1,181.11,654.66)">L</text>
<text transform="matrix(1.3,0,0,1,190.15,654.66)">T</text>
<text transform="matrix(1.3,0,0,1,199.19,654.66)">L</text>
<text transform="matrix(1.3,0,0,1,208.23,654.66)">L</text>
<text transform="matrix(1.3,0,0,1,217.27,654.66)">L</text>
<text transform="matrix(1.3,0,0,1,226.31,654.66)">Q</text>
<text transform="matrix(1.3,0,0,1,235.35,654.66)">D</text>
<rect x="241.99" y="651.46" width="4.8" height="0.9" fill="#333"/>
<text transform="matrix(1.3,0,0,1,253.43,654.66)">H</text>
<text transform="matrix(1.3,0,0,1,262.47,654.66)">I</text>
<text transform="matrix(1.3,0,0,1,271.51,654.66)">G</text>
<text transform="matrix(1.3,0,0,1,280.55,654.66)">G</text>
<text transform="matrix(1.3,0,0,1,289.59,654.66)">L</text>
<text transform="matrix(1.3,0,0,1,298.63,654.66)">Q</text>
<text transform="matrix(1.3,0,0,1,307.67,654.66)">V</text>
<text transform="matrix(1.3,0,0,1,316.71,654.66)">L</text>
<text transform="matrix(1.3,0,0,1,325.75,654.66)">H</text>
<rect x="332.39" y="651.46" width="4.8" height="0.9" fill="#333"/>
<rect x="341.43" y="651.46" width="4.8" height="0.9" fill="#333"/>
<text transform="matrix(1.3,0,0,1,352.87,654.66)">R</text>
<text transform="matrix(1.3,0,0,1,361.91,654.66)">N</text>
<text transform="matrix(1.3,0,0,1,370.95,654.66)">H</text>
<text transform="matrix(1.3,0,0,1,379.99,654.66)">W</text>
<text transform="matrix(1.3,0,0,1,389.03,654.66)">V</text>
<text transform="matrix(1.3,0,0,1,398.07,654.66)">D</text>
<text transform="matrix(1.3,0,0,1,407.11,654.66)">V</text>
<text transform="matrix(1.3,0,0,1,416.15,654.66)">P</text>
<text transform="matrix(1.3,0,0,1,425.19,654.66)">P</text>
<text transform="matrix(1.3,0,0,1,434.23,654.66)">T</text>
<text transform="matrix(1.3,0,0,1,443.27,654.66)">P</text>
<text transform="matrix(1.3,0,0,1,452.31,654.66)">G</text>
<text transform="matrix(1.3,0,0,1,461.35,654.66)">A</text>
<text transform="matrix(1.3,0,0,1,470.39,654.66)">L</text>
<text transform="matrix(1.3,0,0,1,479.43,654.66)">V</text>
<text transform="matrix(1.3,0,0,1,488.47,654.66)">V</text>
<text transform="matrix(1.3,0,0,1,497.51,654.66)">N</text>
<text transform="matrix(1.3,0,0,1,506.55,654.66)">I</text>
<text transform="matrix(1.3,0,0,1,515.59,654.66)">A</text>
<text transform="matrix(1.3,0,0,1,524.63,654.66)">D</text>
<text transform="matrix(1.3,0,0,1,533.67,654.66)">L</text>
<text transform="matrix(1.3,0,0,1,542.71,654.66)">L</text>
<text transform="matrix(1.3,0,0,1,551.75,654.66)">Q</text>
<text transform="matrix(1.3,0,0,1,560.79,654.66)">L</text>
<text transform="matrix(1.3,0,0,1,569.83,654.66)">I</text>
<text transform="matrix(1.3,0,0,1,578.87,654.66)">S</text>
<text transform="matrix(1.3,0,0,1,587.91,654.66)">N</text>
<text transform="matrix(1.3,0,0,1,596.95,654.66)">D</text>
<text transform="matrix(1.3,0,0,1,605.99,654.66)">K</text>
<text transform="matrix(1.3,0,0,1,615.03,654.66)">F</text>
<text transform="matrix(1.3,0,0,1,624.07,654.66)">K</text>
<text transform="matrix(1.3,0,0,1,633.11,654.66)">S</text>
<text transform="matrix(1.3,0,0,1,642.15,654.66)">V</text>
<text transform="matrix(1.3,0,0,1,651.19,654.66)">E</text>
<text transform="matrix(1.3,0,0,1,660.23,654.66)">H</text>
<text transform="matrix(1.3,0,0,1,669.27,654.66)">R</text>
<text transform="matrix(1.3,0,0,1,678.31,654.66)">V</text>
<text transform="matrix(1.3,0,0,1,126.87,665.98)">H</text>
<text transform="matrix(1.3,0,0,1,135.91,665.98)">A</text>
<text transform="matrix(1.3,0,0,1,144.95,665.98)">D</text>
<text transform="matrix(1.3,0,0,1,153.99,665.98)">S</text>
<text transform="matrix(1.3,0,0,1,163.03,665.98)">V</text>
<text transform="matrix(1.3,0,0,1,172.07,665.98)">F</text>
<text transform="matrix(1.3,0,0,1,181.11,665.98)">L</text>
<text transform="matrix(1.3,0,0,1,190.15,665.98)">T</text>
<text transform="matrix(1.3,0,0,1,199.19,665.98)">I</text>
<text transform="matrix(1.3,0,0,1,208.23,665.98)">L</text>
<text transform="matrix(1.3,0,0,1,217.27,665.98)">L</text>
<text transform="matrix(1.3,0,0,1,226.31,665.98)">Q</text>
<text transform="matrix(1.3,0,0,1,235.35,665.98)">D</text>
<rect x="241.99" y="662.78" width="4.8" height="0.9" fill="#333"/>
<text transform="matrix(1.3,0,0,1,253.43,665.98)">Q</text>
<text transform="matrix(1.3,0,0,1,262.47,665.98)">I</text>
<text transform="matrix(1.3,0,0,1,271.51,665.98)">G</text>
<text transform="matrix(1.3,0,0,1,280.55,665.98)">G</text>
<text transform="matrix(1.3,0,0,1,289.59,665.98)">L</text>
<text transform="matrix(1.3,0,0,1,298.63,665.98)">Q</text>
<text transform="matrix(1.3,0,0,1,307.67,665.98)">V</text>
<text transform="matrix(1.3,0,0,1,316.71,665.98)">L</text>
<text transform="matrix(1.3,0,0,1,325.75,665.98)">H</text>
<rect x="332.39" y="662.78" width="4.8" height="0.9" fill="#333"/>
<rect x="341.43" y="662.78" width="4.8" height="0.9" fill="#333"/>
<text transform="matrix(1.3,0,0,1,352.87,665.98)">Q</text>
<text transform="matrix(1.3,0,0,1,361.91,665.98)">D</text>
<text transform="matrix(1.3,0,0,1,370.95,665.98)">H</text>
<text transform="matrix(1.3,0,0,1,379.99,665.98)">W</text>
<text transform="matrix(1.3,0,0,1,389.03,665.98)">V</text>
<text transform="matrix(1.3,0,0,1,398.07,665.98)">D</text>
<text transform="matrix(1.3,0,0,1,407.11,665.98)">V</text>
<text transform="matrix(1.3,0,0,1,416.15,665.98)">P</text>
<text transform="matrix(1.3,0,0,1,425.19,665.98)">P</text>
<text transform="matrix(1.3,0,0,1,434.23,665.98)">T</text>
<text transform="matrix(1.3,0,0,1,443.27,665.98)">P</text>
<text transform="matrix(1.3,0,0,1,452.31,665.98)">G</text>
<text transform="matrix(1.3,0,0,1,461.35,665.98)">A</text>
<text transform="matrix(1.3,0,0,1,470.39,665.98)">L</text>
<text transform="matrix(1.3,0,0,1,479.43,665.98)">V</text>
<text transform="matrix(1.3,0,0,1,488.47,665.98)">I</text>
<text transform="matrix(1.3,0,0,1,497.51,665.98)">N</text>
<text transform="matrix(1.3,0,0,1,506.55,665.98)">I</text>
<text transform="matrix(1.3,0,0,1,515.59,665.98)">G</text>
<text transform="matrix(1.3,0,0,1,524.63,665.98)">D</text>
<text transform="matrix(1.3,0,0,1,533.67,665.98)">H</text>
<text transform="matrix(1.3,0,0,1,542.71,665.98)">L</text>
<text transform="matrix(1.3,0,0,1,551.75,665.98)">Q</text>
<text transform="matrix(1.3,0,0,1,560.79,665.98)">L</text>
<text transform="matrix(1.3,0,0,1,569.83,665.98)">V</text>
<text transform="matrix(1.3,0,0,1,578.87,665.98)">S</text>
<text transform="matrix(1.3,0,0,1,587.91,665.98)">N</text>
<text transform="matrix(1.3,0,0,1,596.95,665.98)">D</text>
<text transform="matrix(1.3,0,0,1,605.99,665.98)">K</text>
<text transform="matrix(1.3,0,0,1,615.03,665.98)">F</text>
<text transform="matrix(1.3,0,0,1,624.07,665.98)">I</text>
<text transform="matrix(1.3,0,0,1,633.11,665.98)">S</text>
<text transform="matrix(1.3,0,0,1,642.15,665.98)">V</text>
<text transform="matrix(1.3,0,0,1,651.19,665.98)">E</text>
<text transform="matrix(1.3,0,0,1,660.23,665.98)">H</text>
<text transform="matrix(1.3,0,0,1,669.27,665.98)">R</text>
<text transform="matrix(1.3,0,0,1,678.31,665.98)">V</text>
<text transform="matrix(1.3,0,0,1,126.87,677.30)">H</text>
<text transform="matrix(1.3,0,0,1,135.91,677.30)">S</text>
<text transform="matrix(1.3,0,0,1,144.95,677.30)">D</text>
<text transform="matrix(1.3,0,0,1,153.99,677.30)">P</text>
<text transform="matrix(1.3,0,0,1,163.03,677.30)">D</text>
<text transform="matrix(1.3,0,0,1,172.07,677.30)">F</text>
<text transform="matrix(1.3,0,0,1,181.11,677.30)">L</text>
<text transform="matrix(1.3,0,0,1,190.15,677.30)">T</text>
<text transform="matrix(1.3,0,0,1,199.19,677.30)">I</text>
<text transform="matrix(1.3,0,0,1,208.23,677.30)">L</text>
<text transform="matrix(1.3,0,0,1,217.27,677.30)">L</text>
<text transform="matrix(1.3,0,0,1,226.31,677.30)">Q</text>
<text transform="matrix(1.3,0,0,1,235.35,677.30)">D</text>
<rect x="241.99" y="674.10" width="4.8" height="0.9" fill="#333"/>
<text transform="matrix(1.3,0,0,1,253.43,677.30)">H</text>
<text transform="matrix(1.3,0,0,1,262.47,677.30)">V</text>
<text transform="matrix(1.3,0,0,1,271.51,677.30)">G</text>
<text transform="matrix(1.3,0,0,1,280.55,677.30)">G</text>
<text transform="matrix(1.3,0,0,1,289.59,677.30)">L</text>
<text transform="matrix(1.3,0,0,1,298.63,677.30)">Q</text>
<text transform="matrix(1.3,0,0,1,307.67,677.30)">V</text>
<text transform="matrix(1.3,0,0,1,316.71,677.30)">L</text>
<text transform="matrix(1.3,0,0,1,325.75,677.30)">H</text>
<rect x="332.39" y="674.10" width="4.8" height="0.9" fill="#333"/>
<rect x="341.43" y="674.10" width="4.8" height="0.9" fill="#333"/>
<text transform="matrix(1.3,0,0,1,352.87,677.30)">Q</text>
<text transform="matrix(1.3,0,0,1,361.91,677.30)">Q</text>
<text transform="matrix(1.3,0,0,1,370.95,677.30)">Q</text>
<text transform="matrix(1.3,0,0,1,379.99,677.30)">W</text>
<text transform="matrix(1.3,0,0,1,389.03,677.30)">V</text>
<text transform="matrix(1.3,0,0,1,398.07,677.30)">D</text>
<text transform="matrix(1.3,0,0,1,407.11,677.30)">V</text>
<text transform="matrix(1.3,0,0,1,416.15,677.30)">P</text>
<text transform="matrix(1.3,0,0,1,425.19,677.30)">P</text>
<text transform="matrix(1.3,0,0,1,434.23,677.30)">M</text>
<text transform="matrix(1.3,0,0,1,443.27,677.30)">A</text>
<text transform="matrix(1.3,0,0,1,452.31,677.30)">G</text>
<text transform="matrix(1.3,0,0,1,461.35,677.30)">A</text>
<text transform="matrix(1.3,0,0,1,470.39,677.30)">L</text>
<text transform="matrix(1.3,0,0,1,479.43,677.30)">V</text>
<text transform="matrix(1.3,0,0,1,488.47,677.30)">V</text>
<text transform="matrix(1.3,0,0,1,497.51,677.30)">N</text>
<text transform="matrix(1.3,0,0,1,506.55,677.30)">I</text>
<text transform="matrix(1.3,0,0,1,515.59,677.30)">G</text>
<text transform="matrix(1.3,0,0,1,524.63,677.30)">D</text>
<text transform="matrix(1.3,0,0,1,533.67,677.30)">L</text>
<text transform="matrix(1.3,0,0,1,542.71,677.30)">L</text>
<text transform="matrix(1.3,0,0,1,551.75,677.30)">Q</text>
<text transform="matrix(1.3,0,0,1,560.79,677.30)">L</text>
<text transform="matrix(1.3,0,0,1,569.83,677.30)">I</text>
<text transform="matrix(1.3,0,0,1,578.87,677.30)">S</text>
<text transform="matrix(1.3,0,0,1,587.91,677.30)">N</text>
<text transform="matrix(1.3,0,0,1,596.95,677.30)">D</text>
<text transform="matrix(1.3,0,0,1,605.99,677.30)">R</text>
<text transform="matrix(1.3,0,0,1,615.03,677.30)">L</text>
<text transform="matrix(1.3,0,0,1,624.07,677.30)">K</text>
<text transform="matrix(1.3,0,0,1,633.11,677.30)">S</text>
<text transform="matrix(1.3,0,0,1,642.15,677.30)">V</text>
<text transform="matrix(1.3,0,0,1,651.19,677.30)">E</text>
<text transform="matrix(1.3,0,0,1,660.23,677.30)">H</text>
<text transform="matrix(1.3,0,0,1,669.27,677.30)">R</text>
<text transform="matrix(1.3,0,0,1,678.31,677.30)">V</text>
<text transform="matrix(1.3,0,0,1,126.87,688.62)">H</text>
<text transform="matrix(1.3,0,0,1,135.91,688.62)">S</text>
<text transform="matrix(1.3,0,0,1,144.95,688.62)">D</text>
<text transform="matrix(1.3,0,0,1,153.99,688.62)">S</text>
<text transform="matrix(1.3,0,0,1,163.03,688.62)">G</text>
<text transform="matrix(1.3,0,0,1,172.07,688.62)">F</text>
<text transform="matrix(1.3,0,0,1,181.11,688.62)">L</text>
<text transform="matrix(1.3,0,0,1,190.15,688.62)">T</text>
<text transform="matrix(1.3,0,0,1,199.19,688.62)">I</text>
<text transform="matrix(1.3,0,0,1,208.23,688.62)">L</text>
<text transform="matrix(1.3,0,0,1,217.27,688.62)">L</text>
<text transform="matrix(1.3,0,0,1,226.31,688.62)">Q</text>
<text transform="matrix(1.3,0,0,1,235.35,688.62)">D</text>
<rect x="241.99" y="685.42" width="4.8" height="0.9" fill="#333"/>
<text transform="matrix(1.3,0,0,1,253.43,688.62)">E</text>
<text transform="matrix(1.3,0,0,1,262.47,688.62)">I</text>
<text transform="matrix(1.3,0,0,1,271.51,688.62)">G</text>
<text transform="matrix(1.3,0,0,1,280.55,688.62)">G</text>
<text transform="matrix(1.3,0,0,1,289.59,688.62)">L</text>
<text transform="matrix(1.3,0,0,1,298.63,688.62)">Q</text>
<text transform="matrix(1.3,0,0,1,307.67,688.62)">V</text>
<text transform="matrix(1.3,0,0,1,316.71,688.62)">L</text>
<text transform="matrix(1.3,0,0,1,325.75,688.62)">H</text>
<rect x="332.39" y="685.42" width="4.8" height="0.9" fill="#333"/>
<rect x="341.43" y="685.42" width="4.8" height="0.9" fill="#333"/>
<text transform="matrix(1.3,0,0,1,352.87,688.62)">D</text>
<text transform="matrix(1.3,0,0,1,361.91,688.62)">D</text>
<text transform="matrix(1.3,0,0,1,370.95,688.62)">R</text>
<text transform="matrix(1.3,0,0,1,379.99,688.62)">W</text>
<text transform="matrix(1.3,0,0,1,389.03,688.62)">V</text>
<text transform="matrix(1.3,0,0,1,398.07,688.62)">D</text>
<text transform="matrix(1.3,0,0,1,407.11,688.62)">V</text>
<text transform="matrix(1.3,0,0,1,416.15,688.62)">T</text>
<text transform="matrix(1.3,0,0,1,425.19,688.62)">P</text>
<text transform="matrix(1.3,0,0,1,434.23,688.62)">I</text>
<text transform="matrix(1.3,0,0,1,443.27,688.62)">P</text>
<text transform="matrix(1.3,0,0,1,452.31,688.62)">G</text>
<text transform="matrix(1.3,0,0,1,461.35,688.62)">A</text>
<text transform="matrix(1.3,0,0,1,470.39,688.62)">F</text>
<text transform="matrix(1.3,0,0,1,479.43,688.62)">T</text>
<text transform="matrix(1.3,0,0,1,488.47,688.62)">V</text>
<text transform="matrix(1.3,0,0,1,497.51,688.62)">N</text>
<text transform="matrix(1.3,0,0,1,506.55,688.62)">I</text>
<text transform="matrix(1.3,0,0,1,515.59,688.62)">G</text>
<text transform="matrix(1.3,0,0,1,524.63,688.62)">D</text>
<text transform="matrix(1.3,0,0,1,533.67,688.62)">L</text>
<text transform="matrix(1.3,0,0,1,542.71,688.62)">L</text>
<text transform="matrix(1.3,0,0,1,551.75,688.62)">Q</text>
<text transform="matrix(1.3,0,0,1,560.79,688.62)">L</text>
<text transform="matrix(1.3,0,0,1,569.83,688.62)">V</text>
<text transform="matrix(1.3,0,0,1,578.87,688.62)">S</text>
<text transform="matrix(1.3,0,0,1,587.91,688.62)">N</text>
<text transform="matrix(1.3,0,0,1,596.95,688.62)">D</text>
<text transform="matrix(1.3,0,0,1,605.99,688.62)">G</text>
<text transform="matrix(1.3,0,0,1,615.03,688.62)">F</text>
<text transform="matrix(1.3,0,0,1,624.07,688.62)">S</text>
<text transform="matrix(1.3,0,0,1,633.11,688.62)">S</text>
<text transform="matrix(1.3,0,0,1,642.15,688.62)">V</text>
<text transform="matrix(1.3,0,0,1,651.19,688.62)">E</text>
<text transform="matrix(1.3,0,0,1,660.23,688.62)">H</text>
<text transform="matrix(1.3,0,0,1,669.27,688.62)">R</text>
<text transform="matrix(1.3,0,0,1,678.31,688.62)">V</text>
<text transform="matrix(1.3,0,0,1,126.87,699.94)">H</text>
<text transform="matrix(1.3,0,0,1,135.91,699.94)">S</text>
<text transform="matrix(1.3,0,0,1,144.95,699.94)">D</text>
<text transform="matrix(1.3,0,0,1,153.99,699.94)">S</text>
<text transform="matrix(1.3,0,0,1,163.03,699.94)">G</text>
<text transform="matrix(1.3,0,0,1,172.07,699.94)">F</text>
<text transform="matrix(1.3,0,0,1,181.11,699.94)">L</text>
<text transform="matrix(1.3,0,0,1,190.15,699.94)">T</text>
<text transform="matrix(1.3,0,0,1,199.19,699.94)">I</text>
<text transform="matrix(1.3,0,0,1,208.23,699.94)">L</text>
<text transform="matrix(1.3,0,0,1,217.27,699.94)">L</text>
<text transform="matrix(1.3,0,0,1,226.31,699.94)">Q</text>
<text transform="matrix(1.3,0,0,1,235.35,699.94)">D</text>
<rect x="241.99" y="696.74" width="4.8" height="0.9" fill="#333"/>
<text transform="matrix(1.3,0,0,1,253.43,699.94)">E</text>
<text transform="matrix(1.3,0,0,1,262.47,699.94)">I</text>
<text transform="matrix(1.3,0,0,1,271.51,699.94)">G</text>
<text transform="matrix(1.3,0,0,1,280.55,699.94)">G</text>
<text transform="matrix(1.3,0,0,1,289.59,699.94)">L</text>
<text transform="matrix(1.3,0,0,1,298.63,699.94)">Q</text>
<text transform="matrix(1.3,0,0,1,307.67,699.94)">I</text>
<text transform="matrix(1.3,0,0,1,316.71,699.94)">L</text>
<text transform="matrix(1.3,0,0,1,325.75,699.94)">H</text>
<rect x="332.39" y="696.74" width="4.8" height="0.9" fill="#333"/>
<rect x="341.43" y="696.74" width="4.8" height="0.9" fill="#333"/>
<text transform="matrix(1.3,0,0,1,352.87,699.94)">E</text>
<text transform="matrix(1.3,0,0,1,361.91,699.94)">D</text>
<text transform="matrix(1.3,0,0,1,370.95,699.94)">R</text>
<text transform="matrix(1.3,0,0,1,379.99,699.94)">W</text>
<text transform="matrix(1.3,0,0,1,389.03,699.94)">V</text>
<text transform="matrix(1.3,0,0,1,398.07,699.94)">D</text>
<text transform="matrix(1.3,0,0,1,407.11,699.94)">V</text>
<text transform="matrix(1.3,0,0,1,416.15,699.94)">T</text>
<text transform="matrix(1.3,0,0,1,425.19,699.94)">P</text>
<text transform="matrix(1.3,0,0,1,434.23,699.94)">T</text>
<text transform="matrix(1.3,0,0,1,443.27,699.94)">P</text>
<text transform="matrix(1.3,0,0,1,452.31,699.94)">G</text>
<text transform="matrix(1.3,0,0,1,461.35,699.94)">A</text>
<text transform="matrix(1.3,0,0,1,470.39,699.94)">F</text>
<text transform="matrix(1.3,0,0,1,479.43,699.94)">I</text>
<text transform="matrix(1.3,0,0,1,488.47,699.94)">V</text>
<text transform="matrix(1.3,0,0,1,497.51,699.94)">N</text>
<text transform="matrix(1.3,0,0,1,506.55,699.94)">I</text>
<text transform="matrix(1.3,0,0,1,515.59,699.94)">G</text>
<text transform="matrix(1.3,0,0,1,524.63,699.94)">D</text>
<text transform="matrix(1.3,0,0,1,533.67,699.94)">L</text>
<text transform="matrix(1.3,0,0,1,542.71,699.94)">L</text>
<text transform="matrix(1.3,0,0,1,551.75,699.94)">Q</text>
<text transform="matrix(1.3,0,0,1,560.79,699.94)">L</text>
<text transform="matrix(1.3,0,0,1,569.83,699.94)">I</text>
<text transform="matrix(1.3,0,0,1,578.87,699.94)">S</text>
<text transform="matrix(1.3,0,0,1,587.91,699.94)">N</text>
<text transform="matrix(1.3,0,0,1,596.95,699.94)">D</text>
<text transform="matrix(1.3,0,0,1,605.99,699.94)">R</text>
<text transform="matrix(1.3,0,0,1,615.03,699.94)">F</text>
<text transform="matrix(1.3,0,0,1,624.07,699.94)">R</text>
<text transform="matrix(1.3,0,0,1,633.11,699.94)">S</text>
<text transform="matrix(1.3,0,0,1,642.15,699.94)">V</text>
<text transform="matrix(1.3,0,0,1,651.19,699.94)">E</text>
<text transform="matrix(1.3,0,0,1,660.23,699.94)">H</text>
<text transform="matrix(1.3,0,0,1,669.27,699.94)">R</text>
<text transform="matrix(1.3,0,0,1,678.31,699.94)">V</text>
<text transform="matrix(1.3,0,0,1,126.87,711.26)">H</text>
<text transform="matrix(1.3,0,0,1,135.91,711.26)">S</text>
<text transform="matrix(1.3,0,0,1,144.95,711.26)">D</text>
<text transform="matrix(1.3,0,0,1,153.99,711.26)">S</text>
<text transform="matrix(1.3,0,0,1,163.03,711.26)">G</text>
<text transform="matrix(1.3,0,0,1,172.07,711.26)">F</text>
<text transform="matrix(1.3,0,0,1,181.11,711.26)">L</text>
<text transform="matrix(1.3,0,0,1,190.15,711.26)">T</text>
<text transform="matrix(1.3,0,0,1,199.19,711.26)">I</text>
<text transform="matrix(1.3,0,0,1,208.23,711.26)">L</text>
<text transform="matrix(1.3,0,0,1,217.27,711.26)">L</text>
<text transform="matrix(1.3,0,0,1,226.31,711.26)">Q</text>
<text transform="matrix(1.3,0,0,1,235.35,711.26)">D</text>
<rect x="241.99" y="708.06" width="4.8" height="0.9" fill="#333"/>
<text transform="matrix(1.3,0,0,1,253.43,711.26)">E</text>
<text transform="matrix(1.3,0,0,1,262.47,711.26)">I</text>
<text transform="matrix(1.3,0,0,1,271.51,711.26)">G</text>
<text transform="matrix(1.3,0,0,1,280.55,711.26)">G</text>
<text transform="matrix(1.3,0,0,1,289.59,711.26)">L</text>
<text transform="matrix(1.3,0,0,1,298.63,711.26)">Q</text>
<text transform="matrix(1.3,0,0,1,307.67,711.26)">I</text>
<text transform="matrix(1.3,0,0,1,316.71,711.26)">L</text>
<text transform="matrix(1.3,0,0,1,325.75,711.26)">H</text>
<rect x="332.39" y="708.06" width="4.8" height="0.9" fill="#333"/>
<rect x="341.43" y="708.06" width="4.8" height="0.9" fill="#333"/>
<text transform="matrix(1.3,0,0,1,352.87,711.26)">D</text>
<text transform="matrix(1.3,0,0,1,361.91,711.26)">D</text>
<text transform="matrix(1.3,0,0,1,370.95,711.26)">Q</text>
<text transform="matrix(1.3,0,0,1,379.99,711.26)">W</text>
<text transform="matrix(1.3,0,0,1,389.03,711.26)">V</text>
<text transform="matrix(1.3,0,0,1,398.07,711.26)">D</text>
<text transform="matrix(1.3,0,0,1,407.11,711.26)">V</text>
<text transform="matrix(1.3,0,0,1,416.15,711.26)">T</text>
<text transform="matrix(1.3,0,0,1,425.19,711.26)">P</text>
<text transform="matrix(1.3,0,0,1,434.23,711.26)">T</text>
<text transform="matrix(1.3,0,0,1,443.27,711.26)">P</text>
<text transform="matrix(1.3,0,0,1,452.31,711.26)">G</text>
<text transform="matrix(1.3,0,0,1,461.35,711.26)">A</text>
<text transform="matrix(1.3,0,0,1,470.39,711.26)">F</text>
<text transform="matrix(1.3,0,0,1,479.43,711.26)">I</text>
<text transform="matrix(1.3,0,0,1,488.47,711.26)">V</text>
<text transform="matrix(1.3,0,0,1,497.51,711.26)">N</text>
<text transform="matrix(1.3,0,0,1,506.55,711.26)">I</text>
<text transform="matrix(1.3,0,0,1,515.59,711.26)">A</text>
<text transform="matrix(1.3,0,0,1,524.63,711.26)">D</text>
<text transform="matrix(1.3,0,0,1,533.67,711.26)">L</text>
<text transform="matrix(1.3,0,0,1,542.71,711.26)">L</text>
<text transform="matrix(1.3,0,0,1,551.75,711.26)">Q</text>
<text transform="matrix(1.3,0,0,1,560.79,711.26)">L</text>
<text transform="matrix(1.3,0,0,1,569.83,711.26)">I</text>
<text transform="matrix(1.3,0,0,1,578.87,711.26)">S</text>
<text transform="matrix(1.3,0,0,1,587.91,711.26)">N</text>
<text transform="matrix(1.3,0,0,1,596.95,711.26)">D</text>
<text transform="matrix(1.3,0,0,1,605.99,711.26)">M</text>
<text transform="matrix(1.3,0,0,1,615.03,711.26)">F</text>
<text transform="matrix(1.3,0,0,1,624.07,711.26)">R</text>
<text transform="matrix(1.3,0,0,1,633.11,711.26)">S</text>
<text transform="matrix(1.3,0,0,1,642.15,711.26)">V</text>
<text transform="matrix(1.3,0,0,1,651.19,711.26)">E</text>
<text transform="matrix(1.3,0,0,1,660.23,711.26)">H</text>
<text transform="matrix(1.3,0,0,1,669.27,711.26)">R</text>
<text transform="matrix(1.3,0,0,1,678.31,711.26)">V</text>
<text transform="matrix(1.3,0,0,1,126.87,722.58)">H</text>
<text transform="matrix(1.3,0,0,1,135.91,722.58)">S</text>
<text transform="matrix(1.3,0,0,1,144.95,722.58)">D</text>
<text transform="matrix(1.3,0,0,1,153.99,722.58)">S</text>
<text transform="matrix(1.3,0,0,1,163.03,722.58)">G</text>
<text transform="matrix(1.3,0,0,1,172.07,722.58)">F</text>
<text transform="matrix(1.3,0,0,1,181.11,722.58)">L</text>
<text transform="matrix(1.3,0,0,1,190.15,722.58)">T</text>
<text transform="matrix(1.3,0,0,1,199.19,722.58)">I</text>
<text transform="matrix(1.3,0,0,1,208.23,722.58)">L</text>
<text transform="matrix(1.3,0,0,1,217.27,722.58)">L</text>
<text transform="matrix(1.3,0,0,1,226.31,722.58)">Q</text>
<text transform="matrix(1.3,0,0,1,235.35,722.58)">D</text>
<rect x="241.99" y="719.38" width="4.8" height="0.9" fill="#333"/>
<text transform="matrix(1.3,0,0,1,253.43,722.58)">K</text>
<text transform="matrix(1.3,0,0,1,262.47,722.58)">V</text>
<text transform="matrix(1.3,0,0,1,271.51,722.58)">G</text>
<text transform="matrix(1.3,0,0,1,280.55,722.58)">G</text>
<text transform="matrix(1.3,0,0,1,289.59,722.58)">L</text>
<text transform="matrix(1.3,0,0,1,298.63,722.58)">Q</text>
<text transform="matrix(1.3,0,0,1,307.67,722.58)">I</text>
<text transform="matrix(1.3,0,0,1,316.71,722.58)">L</text>
<text transform="matrix(1.3,0,0,1,325.75,722.58)">H</text>
<rect x="332.39" y="719.38" width="4.8" height="0.9" fill="#333"/>
<rect x="341.43" y="719.38" width="4.8" height="0.9" fill="#333"/>
<text transform="matrix(1.3,0,0,1,352.87,722.58)">D</text>
<text transform="matrix(1.3,0,0,1,361.91,722.58)">G</text>
<text transform="matrix(1.3,0,0,1,370.95,722.58)">Q</text>
<text transform="matrix(1.3,0,0,1,379.99,722.58)">W</text>
<text transform="matrix(1.3,0,0,1,389.03,722.58)">V</text>
<text transform="matrix(1.3,0,0,1,398.07,722.58)">D</text>
<text transform="matrix(1.3,0,0,1,407.11,722.58)">V</text>
<text transform="matrix(1.3,0,0,1,416.15,722.58)">A</text>
<text transform="matrix(1.3,0,0,1,425.19,722.58)">P</text>
<text transform="matrix(1.3,0,0,1,434.23,722.58)">T</text>
<text transform="matrix(1.3,0,0,1,443.27,722.58)">P</text>
<text transform="matrix(1.3,0,0,1,452.31,722.58)">G</text>
<text transform="matrix(1.3,0,0,1,461.35,722.58)">A</text>
<text transform="matrix(1.3,0,0,1,470.39,722.58)">F</text>
<text transform="matrix(1.3,0,0,1,479.43,722.58)">I</text>
<text transform="matrix(1.3,0,0,1,488.47,722.58)">V</text>
<text transform="matrix(1.3,0,0,1,497.51,722.58)">N</text>
<text transform="matrix(1.3,0,0,1,506.55,722.58)">I</text>
<text transform="matrix(1.3,0,0,1,515.59,722.58)">G</text>
<text transform="matrix(1.3,0,0,1,524.63,722.58)">D</text>
<text transform="matrix(1.3,0,0,1,533.67,722.58)">L</text>
<text transform="matrix(1.3,0,0,1,542.71,722.58)">L</text>
<text transform="matrix(1.3,0,0,1,551.75,722.58)">Q</text>
<text transform="matrix(1.3,0,0,1,560.79,722.58)">L</text>
<text transform="matrix(1.3,0,0,1,569.83,722.58)">V</text>
<text transform="matrix(1.3,0,0,1,578.87,722.58)">S</text>
<text transform="matrix(1.3,0,0,1,587.91,722.58)">N</text>
<text transform="matrix(1.3,0,0,1,596.95,722.58)">D</text>
<text transform="matrix(1.3,0,0,1,605.99,722.58)">K</text>
<text transform="matrix(1.3,0,0,1,615.03,722.58)">F</text>
<text transform="matrix(1.3,0,0,1,624.07,722.58)">S</text>
<text transform="matrix(1.3,0,0,1,633.11,722.58)">S</text>
<text transform="matrix(1.3,0,0,1,642.15,722.58)">V</text>
<text transform="matrix(1.3,0,0,1,651.19,722.58)">E</text>
<text transform="matrix(1.3,0,0,1,660.23,722.58)">H</text>
<text transform="matrix(1.3,0,0,1,669.27,722.58)">R</text>
<text transform="matrix(1.3,0,0,1,678.31,722.58)">V</text>
<text transform="matrix(1.3,0,0,1,126.87,733.90)">H</text>
<text transform="matrix(1.3,0,0,1,135.91,733.90)">S</text>
<text transform="matrix(1.3,0,0,1,144.95,733.90)">D</text>
<text transform="matrix(1.3,0,0,1,153.99,733.90)">S</text>
<text transform="matrix(1.3,0,0,1,163.03,733.90)">G</text>
<text transform="matrix(1.3,0,0,1,172.07,733.90)">F</text>
<text transform="matrix(1.3,0,0,1,181.11,733.90)">L</text>
<text transform="matrix(1.3,0,0,1,190.15,733.90)">T</text>
<text transform="matrix(1.3,0,0,1,199.19,733.90)">I</text>
<text transform="matrix(1.3,0,0,1,208.23,733.90)">L</text>
<text transform="matrix(1.3,0,0,1,217.27,733.90)">L</text>
<text transform="matrix(1.3,0,0,1,226.31,733.90)">Q</text>
<text transform="matrix(1.3,0,0,1,235.35,733.90)">D</text>
<rect x="241.99" y="730.70" width="4.8" height="0.9" fill="#333"/>
<text transform="matrix(1.3,0,0,1,253.43,733.90)">G</text>
<text transform="matrix(1.3,0,0,1,262.47,733.90)">V</text>
<text transform="matrix(1.3,0,0,1,271.51,733.90)">G</text>
<text transform="matrix(1.3,0,0,1,280.55,733.90)">G</text>
<text transform="matrix(1.3,0,0,1,289.59,733.90)">L</text>
<text transform="matrix(1.3,0,0,1,298.63,733.90)">Q</text>
<text transform="matrix(1.3,0,0,1,307.67,733.90)">I</text>
<text transform="matrix(1.3,0,0,1,316.71,733.90)">L</text>
<text transform="matrix(1.3,0,0,1,325.75,733.90)">H</text>
<rect x="332.39" y="730.70" width="4.8" height="0.9" fill="#333"/>
<rect x="341.43" y="730.70" width="4.8" height="0.9" fill="#333"/>
<text transform="matrix(1.3,0,0,1,352.87,733.90)">D</text>
<text transform="matrix(1.3,0,0,1,361.91,733.90)">D</text>
<text transform="matrix(1.3,0,0,1,370.95,733.90)">Q</text>
<text transform="matrix(1.3,0,0,1,379.99,733.90)">W</text>
<text transform="matrix(1.3,0,0,1,389.03,733.90)">V</text>
<text transform="matrix(1.3,0,0,1,398.07,733.90)">D</text>
<text transform="matrix(1.3,0,0,1,407.11,733.90)">I</text>
<text transform="matrix(1.3,0,0,1,416.15,733.90)">T</text>
<text transform="matrix(1.3,0,0,1,425.19,733.90)">P</text>
<text transform="matrix(1.3,0,0,1,434.23,733.90)">T</text>
<text transform="matrix(1.3,0,0,1,443.27,733.90)">P</text>
<text transform="matrix(1.3,0,0,1,452.31,733.90)">G</text>
<text transform="matrix(1.3,0,0,1,461.35,733.90)">A</text>
<text transform="matrix(1.3,0,0,1,470.39,733.90)">F</text>
<text transform="matrix(1.3,0,0,1,479.43,733.90)">I</text>
<text transform="matrix(1.3,0,0,1,488.47,733.90)">V</text>
<text transform="matrix(1.3,0,0,1,497.51,733.90)">N</text>
<text transform="matrix(1.3,0,0,1,506.55,733.90)">I</text>
<text transform="matrix(1.3,0,0,1,515.59,733.90)">A</text>
<text transform="matrix(1.3,0,0,1,524.63,733.90)">D</text>
<text transform="matrix(1.3,0,0,1,533.67,733.90)">L</text>
<text transform="matrix(1.3,0,0,1,542.71,733.90)">L</text>
<text transform="matrix(1.3,0,0,1,551.75,733.90)">Q</text>
<text transform="matrix(1.3,0,0,1,560.79,733.90)">L</text>
<text transform="matrix(1.3,0,0,1,569.83,733.90)">I</text>
<text transform="matrix(1.3,0,0,1,578.87,733.90)">S</text>
<text transform="matrix(1.3,0,0,1,587.91,733.90)">N</text>
<text transform="matrix(1.3,0,0,1,596.95,733.90)">D</text>
<text transform="matrix(1.3,0,0,1,605.99,733.90)">K</text>
<text transform="matrix(1.3,0,0,1,615.03,733.90)">F</text>
<text transform="matrix(1.3,0,0,1,624.07,733.90)">I</text>
<text transform="matrix(1.3,0,0,1,633.11,733.90)">S</text>
<text transform="matrix(1.3,0,0,1,642.15,733.90)">V</text>
<text transform="matrix(1.3,0,0,1,651.19,733.90)">E</text>
<text transform="matrix(1.3,0,0,1,660.23,733.90)">H</text>
<text transform="matrix(1.3,0,0,1,669.27,733.90)">R</text>
<text transform="matrix(1.3,0,0,1,678.31,733.90)">V</text>
<text transform="matrix(1.3,0,0,1,126.87,745.22)">H</text>
<text transform="matrix(1.3,0,0,1,135.91,745.22)">S</text>
<text transform="matrix(1.3,0,0,1,144.95,745.22)">D</text>
<text transform="matrix(1.3,0,0,1,153.99,745.22)">S</text>
<text transform="matrix(1.3,0,0,1,163.03,745.22)">G</text>
<text transform="matrix(1.3,0,0,1,172.07,745.22)">F</text>
<text transform="matrix(1.3,0,0,1,181.11,745.22)">L</text>
<text transform="matrix(1.3,0,0,1,190.15,745.22)">T</text>
<text transform="matrix(1.3,0,0,1,199.19,745.22)">I</text>
<text transform="matrix(1.3,0,0,1,208.23,745.22)">L</text>
<text transform="matrix(1.3,0,0,1,217.27,745.22)">L</text>
<text transform="matrix(1.3,0,0,1,226.31,745.22)">Q</text>
<text transform="matrix(1.3,0,0,1,235.35,745.22)">D</text>
<rect x="241.99" y="742.02" width="4.8" height="0.9" fill="#333"/>
<text transform="matrix(1.3,0,0,1,253.43,745.22)">D</text>
<text transform="matrix(1.3,0,0,1,262.47,745.22)">I</text>
<text transform="matrix(1.3,0,0,1,271.51,745.22)">G</text>
<text transform="matrix(1.3,0,0,1,280.55,745.22)">G</text>
<text transform="matrix(1.3,0,0,1,289.59,745.22)">L</text>
<text transform="matrix(1.3,0,0,1,298.63,745.22)">Q</text>
<text transform="matrix(1.3,0,0,1,307.67,745.22)">I</text>
<text transform="matrix(1.3,0,0,1,316.71,745.22)">L</text>
<text transform="matrix(1.3,0,0,1,325.75,745.22)">H</text>
<rect x="332.39" y="742.02" width="4.8" height="0.9" fill="#333"/>
<rect x="341.43" y="742.02" width="4.8" height="0.9" fill="#333"/>
<text transform="matrix(1.3,0,0,1,352.87,745.22)">E</text>
<text transform="matrix(1.3,0,0,1,361.91,745.22)">D</text>
<text transform="matrix(1.3,0,0,1,370.95,745.22)">R</text>
<text transform="matrix(1.3,0,0,1,379.99,745.22)">W</text>
<text transform="matrix(1.3,0,0,1,389.03,745.22)">V</text>
<text transform="matrix(1.3,0,0,1,398.07,745.22)">D</text>
<text transform="matrix(1.3,0,0,1,407.11,745.22)">V</text>
<text transform="matrix(1.3,0,0,1,416.15,745.22)">T</text>
<text transform="matrix(1.3,0,0,1,425.19,745.22)">P</text>
<text transform="matrix(1.3,0,0,1,434.23,745.22)">T</text>
<text transform="matrix(1.3,0,0,1,443.27,745.22)">P</text>
<text transform="matrix(1.3,0,0,1,452.31,745.22)">G</text>
<text transform="matrix(1.3,0,0,1,461.35,745.22)">A</text>
<text transform="matrix(1.3,0,0,1,470.39,745.22)">F</text>
<text transform="matrix(1.3,0,0,1,479.43,745.22)">I</text>
<text transform="matrix(1.3,0,0,1,488.47,745.22)">V</text>
<text transform="matrix(1.3,0,0,1,497.51,745.22)">N</text>
<text transform="matrix(1.3,0,0,1,506.55,745.22)">V</text>
<text transform="matrix(1.3,0,0,1,515.59,745.22)">A</text>
<text transform="matrix(1.3,0,0,1,524.63,745.22)">D</text>
<text transform="matrix(1.3,0,0,1,533.67,745.22)">L</text>
<text transform="matrix(1.3,0,0,1,542.71,745.22)">L</text>
<text transform="matrix(1.3,0,0,1,551.75,745.22)">Q</text>
<text transform="matrix(1.3,0,0,1,560.79,745.22)">L</text>
<text transform="matrix(1.3,0,0,1,569.83,745.22)">I</text>
<text transform="matrix(1.3,0,0,1,578.87,745.22)">S</text>
<text transform="matrix(1.3,0,0,1,587.91,745.22)">N</text>
<text transform="matrix(1.3,0,0,1,596.95,745.22)">D</text>
<text transform="matrix(1.3,0,0,1,605.99,745.22)">N</text>
<text transform="matrix(1.3,0,0,1,615.03,745.22)">Y</text>
<text transform="matrix(1.3,0,0,1,624.07,745.22)">K</text>
<text transform="matrix(1.3,0,0,1,633.11,745.22)">S</text>
<text transform="matrix(1.3,0,0,1,642.15,745.22)">V</text>
<text transform="matrix(1.3,0,0,1,651.19,745.22)">E</text>
<text transform="matrix(1.3,0,0,1,660.23,745.22)">H</text>
<text transform="matrix(1.3,0,0,1,669.27,745.22)">R</text>
<text transform="matrix(1.3,0,0,1,678.31,745.22)">V</text>
<text transform="matrix(1.3,0,0,1,126.87,756.54)">H</text>
<text transform="matrix(1.3,0,0,1,135.91,756.54)">S</text>
<text transform="matrix(1.3,0,0,1,144.95,756.54)">D</text>
<text transform="matrix(1.3,0,0,1,153.99,756.54)">P</text>
<text transform="matrix(1.3,0,0,1,163.03,756.54)">G</text>
<text transform="matrix(1.3,0,0,1,172.07,756.54)">S</text>
<text transform="matrix(1.3,0,0,1,181.11,756.54)">L</text>
<text transform="matrix(1.3,0,0,1,190.15,756.54)">T</text>
<text transform="matrix(1.3,0,0,1,199.19,756.54)">I</text>
<text transform="matrix(1.3,0,0,1,208.23,756.54)">L</text>
<text transform="matrix(1.3,0,0,1,217.27,756.54)">L</text>
<text transform="matrix(1.3,0,0,1,226.31,756.54)">P</text>
<text transform="matrix(1.3,0,0,1,235.35,756.54)">D</text>
<text transform="matrix(1.3,0,0,1,244.39,756.54)">D</text>
<text transform="matrix(1.3,0,0,1,253.43,756.54)">H</text>
<text transform="matrix(1.3,0,0,1,262.47,756.54)">V</text>
<text transform="matrix(1.3,0,0,1,271.51,756.54)">K</text>
<text transform="matrix(1.3,0,0,1,280.55,756.54)">G</text>
<text transform="matrix(1.3,0,0,1,289.59,756.54)">L</text>
<text transform="matrix(1.3,0,0,1,298.63,756.54)">Q</text>
<text transform="matrix(1.3,0,0,1,307.67,756.54)">I</text>
<text transform="matrix(1.3,0,0,1,316.71,756.54)">R</text>
<text transform="matrix(1.3,0,0,1,325.75,756.54)">K</text>
<rect x="332.39" y="753.34" width="4.8" height="0.9" fill="#333"/>
<rect x="341.43" y="753.34" width="4.8" height="0.9" fill="#333"/>
<text transform="matrix(1.3,0,0,1,352.87,756.54)">D</text>
<text transform="matrix(1.3,0,0,1,361.91,756.54)">G</text>
<text transform="matrix(1.3,0,0,1,370.95,756.54)">S</text>
<text transform="matrix(1.3,0,0,1,379.99,756.54)">W</text>
<text transform="matrix(1.3,0,0,1,389.03,756.54)">L</text>
<text transform="matrix(1.3,0,0,1,398.07,756.54)">T</text>
<text transform="matrix(1.3,0,0,1,407.11,756.54)">V</text>
<text transform="matrix(1.3,0,0,1,416.15,756.54)">D</text>
<text transform="matrix(1.3,0,0,1,425.19,756.54)">S</text>
<text transform="matrix(1.3,0,0,1,434.23,756.54)">I</text>
<text transform="matrix(1.3,0,0,1,443.27,756.54)">P</text>
<text transform="matrix(1.3,0,0,1,452.31,756.54)">D</text>
<text transform="matrix(1.3,0,0,1,461.35,756.54)">V</text>
<text transform="matrix(1.3,0,0,1,470.39,756.54)">F</text>
<text transform="matrix(1.3,0,0,1,479.43,756.54)">V</text>
<text transform="matrix(1.3,0,0,1,488.47,756.54)">V</text>
<text transform="matrix(1.3,0,0,1,497.51,756.54)">N</text>
<text transform="matrix(1.3,0,0,1,506.55,756.54)">I</text>
<text transform="matrix(1.3,0,0,1,515.59,756.54)">A</text>
<text transform="matrix(1.3,0,0,1,524.63,756.54)">D</text>
<text transform="matrix(1.3,0,0,1,533.67,756.54)">Q</text>
<text transform="matrix(1.3,0,0,1,542.71,756.54)">I</text>
<text transform="matrix(1.3,0,0,1,551.75,756.54)">Q</text>
<text transform="matrix(1.3,0,0,1,560.79,756.54)">V</text>
<text transform="matrix(1.3,0,0,1,569.83,756.54)">L</text>
<text transform="matrix(1.3,0,0,1,578.87,756.54)">T</text>
<text transform="matrix(1.3,0,0,1,587.91,756.54)">N</text>
<text transform="matrix(1.3,0,0,1,596.95,756.54)">N</text>
<text transform="matrix(1.3,0,0,1,605.99,756.54)">T</text>
<text transform="matrix(1.3,0,0,1,615.03,756.54)">Y</text>
<text transform="matrix(1.3,0,0,1,624.07,756.54)">K</text>
<text transform="matrix(1.3,0,0,1,633.11,756.54)">S</text>
<text transform="matrix(1.3,0,0,1,642.15,756.54)">V</text>
<text transform="matrix(1.3,0,0,1,651.19,756.54)">E</text>
<text transform="matrix(1.3,0,0,1,660.23,756.54)">H</text>
<text transform="matrix(1.3,0,0,1,669.27,756.54)">R</text>
<text transform="matrix(1.3,0,0,1,678.31,756.54)">V</text>
<text transform="matrix(1.3,0,0,1,126.87,767.86)">H</text>
<text transform="matrix(1.3,0,0,1,135.91,767.86)">S</text>
<text transform="matrix(1.3,0,0,1,144.95,767.86)">D</text>
<text transform="matrix(1.3,0,0,1,153.99,767.86)">P</text>
<text transform="matrix(1.3,0,0,1,163.03,767.86)">G</text>
<text transform="matrix(1.3,0,0,1,172.07,767.86)">L</text>
<text transform="matrix(1.3,0,0,1,181.11,767.86)">L</text>
<text transform="matrix(1.3,0,0,1,190.15,767.86)">T</text>
<text transform="matrix(1.3,0,0,1,199.19,767.86)">V</text>
<text transform="matrix(1.3,0,0,1,208.23,767.86)">L</text>
<text transform="matrix(1.3,0,0,1,217.27,767.86)">L</text>
<text transform="matrix(1.3,0,0,1,226.31,767.86)">Q</text>
<text transform="matrix(1.3,0,0,1,235.35,767.86)">D</text>
<rect x="241.99" y="764.66" width="4.8" height="0.9" fill="#333"/>
<text transform="matrix(1.3,0,0,1,253.43,767.86)">Q</text>
<text transform="matrix(1.3,0,0,1,262.47,767.86)">V</text>
<text transform="matrix(1.3,0,0,1,271.51,767.86)">G</text>
<text transform="matrix(1.3,0,0,1,280.55,767.86)">G</text>
<text transform="matrix(1.3,0,0,1,289.59,767.86)">L</text>
<text transform="matrix(1.3,0,0,1,298.63,767.86)">Q</text>
<text transform="matrix(1.3,0,0,1,307.67,767.86)">V</text>
<text transform="matrix(1.3,0,0,1,316.71,767.86)">L</text>
<text transform="matrix(1.3,0,0,1,325.75,767.86)">N</text>
<rect x="332.39" y="764.66" width="4.8" height="0.9" fill="#333"/>
<rect x="341.43" y="764.66" width="4.8" height="0.9" fill="#333"/>
<text transform="matrix(1.3,0,0,1,352.87,767.86)">E</text>
<text transform="matrix(1.3,0,0,1,361.91,767.86)">E</text>
<text transform="matrix(1.3,0,0,1,370.95,767.86)">E</text>
<text transform="matrix(1.3,0,0,1,379.99,767.86)">W</text>
<text transform="matrix(1.3,0,0,1,389.03,767.86)">I</text>
<text transform="matrix(1.3,0,0,1,398.07,767.86)">D</text>
<text transform="matrix(1.3,0,0,1,407.11,767.86)">V</text>
<text transform="matrix(1.3,0,0,1,416.15,767.86)">R</text>
<text transform="matrix(1.3,0,0,1,425.19,767.86)">P</text>
<text transform="matrix(1.3,0,0,1,434.23,767.86)">V</text>
<text transform="matrix(1.3,0,0,1,443.27,767.86)">P</text>
<text transform="matrix(1.3,0,0,1,452.31,767.86)">G</text>
<text transform="matrix(1.3,0,0,1,461.35,767.86)">A</text>
<text transform="matrix(1.3,0,0,1,470.39,767.86)">L</text>
<text transform="matrix(1.3,0,0,1,479.43,767.86)">V</text>
<text transform="matrix(1.3,0,0,1,488.47,767.86)">V</text>
<text transform="matrix(1.3,0,0,1,497.51,767.86)">N</text>
<text transform="matrix(1.3,0,0,1,506.55,767.86)">V</text>
<text transform="matrix(1.3,0,0,1,515.59,767.86)">G</text>
<text transform="matrix(1.3,0,0,1,524.63,767.86)">D</text>
<text transform="matrix(1.3,0,0,1,533.67,767.86)">L</text>
<text transform="matrix(1.3,0,0,1,542.71,767.86)">L</text>
<text transform="matrix(1.3,0,0,1,551.75,767.86)">Q</text>
<text transform="matrix(1.3,0,0,1,560.79,767.86)">I</text>
<text transform="matrix(1.3,0,0,1,569.83,767.86)">V</text>
<text transform="matrix(1.3,0,0,1,578.87,767.86)">S</text>
<text transform="matrix(1.3,0,0,1,587.91,767.86)">N</text>
<text transform="matrix(1.3,0,0,1,596.95,767.86)">G</text>
<text transform="matrix(1.3,0,0,1,605.99,767.86)">V</text>
<text transform="matrix(1.3,0,0,1,615.03,767.86)">Y</text>
<text transform="matrix(1.3,0,0,1,624.07,767.86)">K</text>
<text transform="matrix(1.3,0,0,1,633.11,767.86)">S</text>
<text transform="matrix(1.3,0,0,1,642.15,767.86)">V</text>
<text transform="matrix(1.3,0,0,1,651.19,767.86)">E</text>
<text transform="matrix(1.3,0,0,1,660.23,767.86)">H</text>
<text transform="matrix(1.3,0,0,1,669.27,767.86)">R</text>
<text transform="matrix(1.3,0,0,1,678.31,767.86)">V</text>
<text transform="matrix(1.3,0,0,1,126.87,779.18)">H</text>
<text transform="matrix(1.3,0,0,1,135.91,779.18)">T</text>
<text transform="matrix(1.3,0,0,1,144.95,779.18)">D</text>
<text transform="matrix(1.3,0,0,1,153.99,779.18)">P</text>
<text transform="matrix(1.3,0,0,1,163.03,779.18)">G</text>
<text transform="matrix(1.3,0,0,1,172.07,779.18)">T</text>
<text transform="matrix(1.3,0,0,1,181.11,779.18)">I</text>
<text transform="matrix(1.3,0,0,1,190.15,779.18)">T</text>
<text transform="matrix(1.3,0,0,1,199.19,779.18)">L</text>
<text transform="matrix(1.3,0,0,1,208.23,779.18)">L</text>
<text transform="matrix(1.3,0,0,1,217.27,779.18)">L</text>
<text transform="matrix(1.3,0,0,1,226.31,779.18)">Q</text>
<text transform="matrix(1.3,0,0,1,235.35,779.18)">D</text>
<rect x="241.99" y="775.98" width="4.8" height="0.9" fill="#333"/>
<text transform="matrix(1.3,0,0,1,253.43,779.18)">Q</text>
<text transform="matrix(1.3,0,0,1,262.47,779.18)">V</text>
<text transform="matrix(1.3,0,0,1,271.51,779.18)">G</text>
<text transform="matrix(1.3,0,0,1,280.55,779.18)">G</text>
<text transform="matrix(1.3,0,0,1,289.59,779.18)">L</text>
<text transform="matrix(1.3,0,0,1,298.63,779.18)">Q</text>
<text transform="matrix(1.3,0,0,1,307.67,779.18)">A</text>
<text transform="matrix(1.3,0,0,1,316.71,779.18)">T</text>
<text transform="matrix(1.3,0,0,1,325.75,779.18)">K</text>
<text transform="matrix(1.3,0,0,1,334.79,779.18)">D</text>
<text transform="matrix(1.3,0,0,1,343.83,779.18)">D</text>
<text transform="matrix(1.3,0,0,1,352.87,779.18)">G</text>
<text transform="matrix(1.3,0,0,1,361.91,779.18)">K</text>
<text transform="matrix(1.3,0,0,1,370.95,779.18)">N</text>
<text transform="matrix(1.3,0,0,1,379.99,779.18)">W</text>
<text transform="matrix(1.3,0,0,1,389.03,779.18)">I</text>
<text transform="matrix(1.3,0,0,1,398.07,779.18)">T</text>
<text transform="matrix(1.3,0,0,1,407.11,779.18)">V</text>
<text transform="matrix(1.3,0,0,1,416.15,779.18)">E</text>
<text transform="matrix(1.3,0,0,1,425.19,779.18)">P</text>
<text transform="matrix(1.3,0,0,1,434.23,779.18)">I</text>
<text transform="matrix(1.3,0,0,1,443.27,779.18)">Q</text>
<text transform="matrix(1.3,0,0,1,452.31,779.18)">G</text>
<text transform="matrix(1.3,0,0,1,461.35,779.18)">A</text>
<text transform="matrix(1.3,0,0,1,470.39,779.18)">F</text>
<text transform="matrix(1.3,0,0,1,479.43,779.18)">V</text>
<text transform="matrix(1.3,0,0,1,488.47,779.18)">V</text>
<text transform="matrix(1.3,0,0,1,497.51,779.18)">N</text>
<text transform="matrix(1.3,0,0,1,506.55,779.18)">L</text>
<text transform="matrix(1.3,0,0,1,515.59,779.18)">G</text>
<text transform="matrix(1.3,0,0,1,524.63,779.18)">D</text>
<text transform="matrix(1.3,0,0,1,533.67,779.18)">H</text>
<text transform="matrix(1.3,0,0,1,542.71,779.18)">M</text>
<text transform="matrix(1.3,0,0,1,551.75,779.18)">H</text>
<text transform="matrix(1.3,0,0,1,560.79,779.18)">Y</text>
<text transform="matrix(1.3,0,0,1,569.83,779.18)">L</text>
<text transform="matrix(1.3,0,0,1,578.87,779.18)">S</text>
<text transform="matrix(1.3,0,0,1,587.91,779.18)">N</text>
<text transform="matrix(1.3,0,0,1,596.95,779.18)">G</text>
<text transform="matrix(1.3,0,0,1,605.99,779.18)">K</text>
<text transform="matrix(1.3,0,0,1,615.03,779.18)">F</text>
<text transform="matrix(1.3,0,0,1,624.07,779.18)">K</text>
<text transform="matrix(1.3,0,0,1,633.11,779.18)">S</text>
<text transform="matrix(1.3,0,0,1,642.15,779.18)">A</text>
<text transform="matrix(1.3,0,0,1,651.19,779.18)">D</text>
<text transform="matrix(1.3,0,0,1,660.23,779.18)">H</text>
<text transform="matrix(1.3,0,0,1,669.27,779.18)">Q</text>
<text transform="matrix(1.3,0,0,1,678.31,779.18)">A</text>
<text transform="matrix(1.3,0,0,1,126.87,790.50)">H</text>
<text transform="matrix(1.3,0,0,1,135.91,790.50)">S</text>
<text transform="matrix(1.3,0,0,1,144.95,790.50)">D</text>
<text transform="matrix(1.3,0,0,1,153.99,790.50)">L</text>
<text transform="matrix(1.3,0,0,1,163.03,790.50)">G</text>
<text transform="matrix(1.3,0,0,1,172.07,790.50)">A</text>
<text transform="matrix(1.3,0,0,1,181.11,790.50)">I</text>
<text transform="matrix(1.3,0,0,1,190.15,790.50)">T</text>
<text transform="matrix(1.3,0,0,1,199.19,790.50)">L</text>
<text transform="matrix(1.3,0,0,1,208.23,790.50)">L</text>
<text transform="matrix(1.3,0,0,1,217.27,790.50)">L</text>
<text transform="matrix(1.3,0,0,1,226.31,790.50)">Q</text>
<text transform="matrix(1.3,0,0,1,235.35,790.50)">D</text>
<text transform="matrix(1.3,0,0,1,244.39,790.50)">D</text>
<rect x="251.03" y="787.30" width="4.8" height="0.9" fill="#333"/>
<text transform="matrix(1.3,0,0,1,262.47,790.50)">V</text>
<text transform="matrix(1.3,0,0,1,271.51,790.50)">G</text>
<text transform="matrix(1.3,0,0,1,280.55,790.50)">G</text>
<text transform="matrix(1.3,0,0,1,289.59,790.50)">L</text>
<text transform="matrix(1.3,0,0,1,298.63,790.50)">Q</text>
<text transform="matrix(1.3,0,0,1,307.67,790.50)">V</text>
<text transform="matrix(1.3,0,0,1,316.71,790.50)">C</text>
<text transform="matrix(1.3,0,0,1,325.75,790.50)">I</text>
<rect x="332.39" y="787.30" width="4.8" height="0.9" fill="#333"/>
<rect x="341.43" y="787.30" width="4.8" height="0.9" fill="#333"/>
<text transform="matrix(1.3,0,0,1,352.87,790.50)">D</text>
<text transform="matrix(1.3,0,0,1,361.91,790.50)">G</text>
<text transform="matrix(1.3,0,0,1,370.95,790.50)">N</text>
<text transform="matrix(1.3,0,0,1,379.99,790.50)">W</text>
<text transform="matrix(1.3,0,0,1,389.03,790.50)">F</text>
<text transform="matrix(1.3,0,0,1,398.07,790.50)">A</text>
<text transform="matrix(1.3,0,0,1,407.11,790.50)">V</text>
<text transform="matrix(1.3,0,0,1,416.15,790.50)">Q</text>
<text transform="matrix(1.3,0,0,1,425.19,790.50)">P</text>
<text transform="matrix(1.3,0,0,1,434.23,790.50)">I</text>
<text transform="matrix(1.3,0,0,1,443.27,790.50)">H</text>
<text transform="matrix(1.3,0,0,1,452.31,790.50)">G</text>
<text transform="matrix(1.3,0,0,1,461.35,790.50)">A</text>
<text transform="matrix(1.3,0,0,1,470.39,790.50)">L</text>
<text transform="matrix(1.3,0,0,1,479.43,790.50)">V</text>
<text transform="matrix(1.3,0,0,1,488.47,790.50)">V</text>
<text transform="matrix(1.3,0,0,1,497.51,790.50)">N</text>
<text transform="matrix(1.3,0,0,1,506.55,790.50)">L</text>
<text transform="matrix(1.3,0,0,1,515.59,790.50)">A</text>
<text transform="matrix(1.3,0,0,1,524.63,790.50)">D</text>
<text transform="matrix(1.3,0,0,1,533.67,790.50)">Q</text>
<text transform="matrix(1.3,0,0,1,542.71,790.50)">I</text>
<text transform="matrix(1.3,0,0,1,551.75,790.50)">Q</text>
<text transform="matrix(1.3,0,0,1,560.79,790.50)">I</text>
<text transform="matrix(1.3,0,0,1,569.83,790.50)">L</text>
<text transform="matrix(1.3,0,0,1,578.87,790.50)">S</text>
<text transform="matrix(1.3,0,0,1,587.91,790.50)">N</text>
<text transform="matrix(1.3,0,0,1,596.95,790.50)">G</text>
<text transform="matrix(1.3,0,0,1,605.99,790.50)">R</text>
<text transform="matrix(1.3,0,0,1,615.03,790.50)">F</text>
<text transform="matrix(1.3,0,0,1,624.07,790.50)">K</text>
<text transform="matrix(1.3,0,0,1,633.11,790.50)">S</text>
<text transform="matrix(1.3,0,0,1,642.15,790.50)">I</text>
<text transform="matrix(1.3,0,0,1,651.19,790.50)">E</text>
<text transform="matrix(1.3,0,0,1,660.23,790.50)">H</text>
<text transform="matrix(1.3,0,0,1,669.27,790.50)">R</text>
<text transform="matrix(1.3,0,0,1,678.31,790.50)">A</text>
<text transform="matrix(1.3,0,0,1,126.87,801.82)">H</text>
<text transform="matrix(1.3,0,0,1,135.91,801.82)">S</text>
<text transform="matrix(1.3,0,0,1,144.95,801.82)">D</text>
<text transform="matrix(1.3,0,0,1,153.99,801.82)">V</text>
<text transform="matrix(1.3,0,0,1,163.03,801.82)">G</text>
<text transform="matrix(1.3,0,0,1,172.07,801.82)">G</text>
<text transform="matrix(1.3,0,0,1,181.11,801.82)">I</text>
<text transform="matrix(1.3,0,0,1,190.15,801.82)">T</text>
<text transform="matrix(1.3,0,0,1,199.19,801.82)">I</text>
<text transform="matrix(1.3,0,0,1,208.23,801.82)">L</text>
<text transform="matrix(1.3,0,0,1,217.27,801.82)">L</text>
<text transform="matrix(1.3,0,0,1,226.31,801.82)">Q</text>
<text transform="matrix(1.3,0,0,1,235.35,801.82)">D</text>
<rect x="241.99" y="798.62" width="4.8" height="0.9" fill="#333"/>
<text transform="matrix(1.3,0,0,1,253.43,801.82)">A</text>
<text transform="matrix(1.3,0,0,1,262.47,801.82)">T</text>
<text transform="matrix(1.3,0,0,1,271.51,801.82)">S</text>
<text transform="matrix(1.3,0,0,1,280.55,801.82)">G</text>
<text transform="matrix(1.3,0,0,1,289.59,801.82)">L</text>
<text transform="matrix(1.3,0,0,1,298.63,801.82)">Q</text>
<text transform="matrix(1.3,0,0,1,307.67,801.82)">V</text>
<text transform="matrix(1.3,0,0,1,316.71,801.82)">L</text>
<text transform="matrix(1.3,0,0,1,325.75,801.82)">N</text>
<rect x="332.39" y="798.62" width="4.8" height="0.9" fill="#333"/>
<rect x="341.43" y="798.62" width="4.8" height="0.9" fill="#333"/>
<text transform="matrix(1.3,0,0,1,352.87,801.82)">D</text>
<text transform="matrix(1.3,0,0,1,361.91,801.82)">G</text>
<text transform="matrix(1.3,0,0,1,370.95,801.82)">Q</text>
<text transform="matrix(1.3,0,0,1,379.99,801.82)">W</text>
<text transform="matrix(1.3,0,0,1,389.03,801.82)">I</text>
<text transform="matrix(1.3,0,0,1,398.07,801.82)">K</text>
<text transform="matrix(1.3,0,0,1,407.11,801.82)">V</text>
<text transform="matrix(1.3,0,0,1,416.15,801.82)">K</text>
<text transform="matrix(1.3,0,0,1,425.19,801.82)">P</text>
<text transform="matrix(1.3,0,0,1,434.23,801.82)">L</text>
<text transform="matrix(1.3,0,0,1,443.27,801.82)">P</text>
<text transform="matrix(1.3,0,0,1,452.31,801.82)">G</text>
<text transform="matrix(1.3,0,0,1,461.35,801.82)">A</text>
<text transform="matrix(1.3,0,0,1,470.39,801.82)">F</text>
<text transform="matrix(1.3,0,0,1,479.43,801.82)">V</text>
<text transform="matrix(1.3,0,0,1,488.47,801.82)">V</text>
<text transform="matrix(1.3,0,0,1,497.51,801.82)">N</text>
<text transform="matrix(1.3,0,0,1,506.55,801.82)">V</text>
<text transform="matrix(1.3,0,0,1,515.59,801.82)">G</text>
<text transform="matrix(1.3,0,0,1,524.63,801.82)">D</text>
<text transform="matrix(1.3,0,0,1,533.67,801.82)">Q</text>
<text transform="matrix(1.3,0,0,1,542.71,801.82)">L</text>
<text transform="matrix(1.3,0,0,1,551.75,801.82)">Q</text>
<text transform="matrix(1.3,0,0,1,560.79,801.82)">V</text>
<text transform="matrix(1.3,0,0,1,569.83,801.82)">L</text>
<text transform="matrix(1.3,0,0,1,578.87,801.82)">S</text>
<text transform="matrix(1.3,0,0,1,587.91,801.82)">N</text>
<text transform="matrix(1.3,0,0,1,596.95,801.82)">G</text>
<text transform="matrix(1.3,0,0,1,605.99,801.82)">K</text>
<text transform="matrix(1.3,0,0,1,615.03,801.82)">Y</text>
<text transform="matrix(1.3,0,0,1,624.07,801.82)">K</text>
<text transform="matrix(1.3,0,0,1,633.11,801.82)">S</text>
<text transform="matrix(1.3,0,0,1,642.15,801.82)">V</text>
<text transform="matrix(1.3,0,0,1,651.19,801.82)">E</text>
<text transform="matrix(1.3,0,0,1,660.23,801.82)">H</text>
<text transform="matrix(1.3,0,0,1,669.27,801.82)">R</text>
<text transform="matrix(1.3,0,0,1,678.31,801.82)">V</text>
<text transform="matrix(1.3,0,0,1,126.87,813.14)">H</text>
<text transform="matrix(1.3,0,0,1,135.91,813.14)">A</text>
<text transform="matrix(1.3,0,0,1,144.95,813.14)">D</text>
<text transform="matrix(1.3,0,0,1,153.99,813.14)">T</text>
<text transform="matrix(1.3,0,0,1,163.03,813.14)">S</text>
<text transform="matrix(1.3,0,0,1,172.07,813.14)">F</text>
<text transform="matrix(1.3,0,0,1,181.11,813.14)">I</text>
<text transform="matrix(1.3,0,0,1,190.15,813.14)">T</text>
<text transform="matrix(1.3,0,0,1,199.19,813.14)">V</text>
<text transform="matrix(1.3,0,0,1,208.23,813.14)">L</text>
<text transform="matrix(1.3,0,0,1,217.27,813.14)">Q</text>
<text transform="matrix(1.3,0,0,1,226.31,813.14)">Q</text>
<text transform="matrix(1.3,0,0,1,235.35,813.14)">D</text>
<rect x="241.99" y="809.94" width="4.8" height="0.9" fill="#333"/>
<text transform="matrix(1.3,0,0,1,253.43,813.14)">K</text>
<text transform="matrix(1.3,0,0,1,262.47,813.14)">T</text>
<text transform="matrix(1.3,0,0,1,271.51,813.14)">P</text>
<text transform="matrix(1.3,0,0,1,280.55,813.14)">G</text>
<text transform="matrix(1.3,0,0,1,289.59,813.14)">L</text>
<text transform="matrix(1.3,0,0,1,298.63,813.14)">E</text>
<text transform="matrix(1.3,0,0,1,307.67,813.14)">I</text>
<text transform="matrix(1.3,0,0,1,316.71,813.14)">E</text>
<text transform="matrix(1.3,0,0,1,325.75,813.14)">E</text>
<rect x="332.39" y="809.94" width="4.8" height="0.9" fill="#333"/>
<rect x="341.43" y="809.94" width="4.8" height="0.9" fill="#333"/>
<text transform="matrix(1.3,0,0,1,352.87,813.14)">D</text>
<text transform="matrix(1.3,0,0,1,361.91,813.14)">G</text>
<text transform="matrix(1.3,0,0,1,370.95,813.14)">Q</text>
<text transform="matrix(1.3,0,0,1,379.99,813.14)">W</text>
<text transform="matrix(1.3,0,0,1,389.03,813.14)">I</text>
<text transform="matrix(1.3,0,0,1,398.07,813.14)">L</text>
<text transform="matrix(1.3,0,0,1,407.11,813.14)">V</text>
<text transform="matrix(1.3,0,0,1,416.15,813.14)">P</text>
<text transform="matrix(1.3,0,0,1,425.19,813.14)">P</text>
<text transform="matrix(1.3,0,0,1,434.23,813.14)">I</text>
<text transform="matrix(1.3,0,0,1,443.27,813.14)">P</text>
<text transform="matrix(1.3,0,0,1,452.31,813.14)">D</text>
<text transform="matrix(1.3,0,0,1,461.35,813.14)">A</text>
<text transform="matrix(1.3,0,0,1,470.39,813.14)">F</text>
<text transform="matrix(1.3,0,0,1,479.43,813.14)">V</text>
<text transform="matrix(1.3,0,0,1,488.47,813.14)">V</text>
<text transform="matrix(1.3,0,0,1,497.51,813.14)">N</text>
<text transform="matrix(1.3,0,0,1,506.55,813.14)">I</text>
<text transform="matrix(1.3,0,0,1,515.59,813.14)">G</text>
<text transform="matrix(1.3,0,0,1,524.63,813.14)">D</text>
<text transform="matrix(1.3,0,0,1,533.67,813.14)">L</text>
<text transform="matrix(1.3,0,0,1,542.71,813.14)">L</text>
<text transform="matrix(1.3,0,0,1,551.75,813.14)">Q</text>
<text transform="matrix(1.3,0,0,1,560.79,813.14)">I</text>
<text transform="matrix(1.3,0,0,1,569.83,813.14)">V</text>
<text transform="matrix(1.3,0,0,1,578.87,813.14)">S</text>
<text transform="matrix(1.3,0,0,1,587.91,813.14)">N</text>
<text transform="matrix(1.3,0,0,1,596.95,813.14)">G</text>
<text transform="matrix(1.3,0,0,1,605.99,813.14)">R</text>
<text transform="matrix(1.3,0,0,1,615.03,813.14)">Y</text>
<text transform="matrix(1.3,0,0,1,624.07,813.14)">K</text>
<text transform="matrix(1.3,0,0,1,633.11,813.14)">S</text>
<text transform="matrix(1.3,0,0,1,642.15,813.14)">V</text>
<text transform="matrix(1.3,0,0,1,651.19,813.14)">M</text>
<text transform="matrix(1.3,0,0,1,660.23,813.14)">H</text>
<text transform="matrix(1.3,0,0,1,669.27,813.14)">R</text>
<text transform="matrix(1.3,0,0,1,678.31,813.14)">V</text>
<text transform="matrix(1.3,0,0,1,126.87,824.46)">H</text>
<text transform="matrix(1.3,0,0,1,135.91,824.46)">S</text>
<text transform="matrix(1.3,0,0,1,144.95,824.46)">D</text>
<text transform="matrix(1.3,0,0,1,153.99,824.46)">M</text>
<text transform="matrix(1.3,0,0,1,163.03,824.46)">G</text>
<text transform="matrix(1.3,0,0,1,172.07,824.46)">A</text>
<text transform="matrix(1.3,0,0,1,181.11,824.46)">I</text>
<text transform="matrix(1.3,0,0,1,190.15,824.46)">T</text>
<text transform="matrix(1.3,0,0,1,199.19,824.46)">L</text>
<text transform="matrix(1.3,0,0,1,208.23,824.46)">L</text>
<text transform="matrix(1.3,0,0,1,217.27,824.46)">L</text>
<text transform="matrix(1.3,0,0,1,226.31,824.46)">Q</text>
<text transform="matrix(1.3,0,0,1,235.35,824.46)">D</text>
<text transform="matrix(1.3,0,0,1,244.39,824.46)">D</text>
<rect x="251.03" y="821.26" width="4.8" height="0.9" fill="#333"/>
<text transform="matrix(1.3,0,0,1,262.47,824.46)">V</text>
<text transform="matrix(1.3,0,0,1,271.51,824.46)">A</text>
<text transform="matrix(1.3,0,0,1,280.55,824.46)">G</text>
<text transform="matrix(1.3,0,0,1,289.59,824.46)">L</text>
<text transform="matrix(1.3,0,0,1,298.63,824.46)">Q</text>
<text transform="matrix(1.3,0,0,1,307.67,824.46)">V</text>
<text transform="matrix(1.3,0,0,1,316.71,824.46)">Y</text>
<text transform="matrix(1.3,0,0,1,325.75,824.46)">K</text>
<rect x="332.39" y="821.26" width="4.8" height="0.9" fill="#333"/>
<rect x="341.43" y="821.26" width="4.8" height="0.9" fill="#333"/>
<text transform="matrix(1.3,0,0,1,352.87,824.46)">D</text>
<text transform="matrix(1.3,0,0,1,361.91,824.46)">H</text>
<text transform="matrix(1.3,0,0,1,370.95,824.46)">E</text>
<text transform="matrix(1.3,0,0,1,379.99,824.46)">W</text>
<text transform="matrix(1.3,0,0,1,389.03,824.46)">F</text>
<text transform="matrix(1.3,0,0,1,398.07,824.46)">T</text>
<text transform="matrix(1.3,0,0,1,407.11,824.46)">V</text>
<text transform="matrix(1.3,0,0,1,416.15,824.46)">Q</text>
<text transform="matrix(1.3,0,0,1,425.19,824.46)">P</text>
<text transform="matrix(1.3,0,0,1,434.23,824.46)">L</text>
<text transform="matrix(1.3,0,0,1,443.27,824.46)">P</text>
<text transform="matrix(1.3,0,0,1,452.31,824.46)">D</text>
<text transform="matrix(1.3,0,0,1,461.35,824.46)">A</text>
<text transform="matrix(1.3,0,0,1,470.39,824.46)">F</text>
<text transform="matrix(1.3,0,0,1,479.43,824.46)">V</text>
<text transform="matrix(1.3,0,0,1,488.47,824.46)">V</text>
<text transform="matrix(1.3,0,0,1,497.51,824.46)">N</text>
<text transform="matrix(1.3,0,0,1,506.55,824.46)">L</text>
<text transform="matrix(1.3,0,0,1,515.59,824.46)">G</text>
<text transform="matrix(1.3,0,0,1,524.63,824.46)">D</text>
<text transform="matrix(1.3,0,0,1,533.67,824.46)">M</text>
<text transform="matrix(1.3,0,0,1,542.71,824.46)">L</text>
<text transform="matrix(1.3,0,0,1,551.75,824.46)">Q</text>
<text transform="matrix(1.3,0,0,1,560.79,824.46)">I</text>
<text transform="matrix(1.3,0,0,1,569.83,824.46)">V</text>
<text transform="matrix(1.3,0,0,1,578.87,824.46)">S</text>
<text transform="matrix(1.3,0,0,1,587.91,824.46)">N</text>
<text transform="matrix(1.3,0,0,1,596.95,824.46)">D</text>
<text transform="matrix(1.3,0,0,1,605.99,824.46)">K</text>
<text transform="matrix(1.3,0,0,1,615.03,824.46)">Y</text>
<text transform="matrix(1.3,0,0,1,624.07,824.46)">K</text>
<text transform="matrix(1.3,0,0,1,633.11,824.46)">S</text>
<text transform="matrix(1.3,0,0,1,642.15,824.46)">V</text>
<text transform="matrix(1.3,0,0,1,651.19,824.46)">E</text>
<text transform="matrix(1.3,0,0,1,660.23,824.46)">H</text>
<text transform="matrix(1.3,0,0,1,669.27,824.46)">R</text>
<text transform="matrix(1.3,0,0,1,678.31,824.46)">A</text>
<text transform="matrix(1.3,0,0,1,126.87,835.78)">H</text>
<text transform="matrix(1.3,0,0,1,135.91,835.78)">S</text>
<text transform="matrix(1.3,0,0,1,144.95,835.78)">D</text>
<text transform="matrix(1.3,0,0,1,153.99,835.78)">P</text>
<text transform="matrix(1.3,0,0,1,163.03,835.78)">N</text>
<text transform="matrix(1.3,0,0,1,172.07,835.78)">T</text>
<text transform="matrix(1.3,0,0,1,181.11,835.78)">I</text>
<text transform="matrix(1.3,0,0,1,190.15,835.78)">T</text>
<text transform="matrix(1.3,0,0,1,199.19,835.78)">M</text>
<text transform="matrix(1.3,0,0,1,208.23,835.78)">L</text>
<text transform="matrix(1.3,0,0,1,217.27,835.78)">L</text>
<text transform="matrix(1.3,0,0,1,226.31,835.78)">Q</text>
<text transform="matrix(1.3,0,0,1,235.35,835.78)">D</text>
<rect x="241.99" y="832.58" width="4.8" height="0.9" fill="#333"/>
<text transform="matrix(1.3,0,0,1,253.43,835.78)">D</text>
<text transform="matrix(1.3,0,0,1,262.47,835.78)">V</text>
<text transform="matrix(1.3,0,0,1,271.51,835.78)">G</text>
<text transform="matrix(1.3,0,0,1,280.55,835.78)">G</text>
<text transform="matrix(1.3,0,0,1,289.59,835.78)">L</text>
<text transform="matrix(1.3,0,0,1,298.63,835.78)">Q</text>
<text transform="matrix(1.3,0,0,1,307.67,835.78)">V</text>
<text transform="matrix(1.3,0,0,1,316.71,835.78)">F</text>
<text transform="matrix(1.3,0,0,1,325.75,835.78)">K</text>
<rect x="332.39" y="832.58" width="4.8" height="0.9" fill="#333"/>
<rect x="341.43" y="832.58" width="4.8" height="0.9" fill="#333"/>
<text transform="matrix(1.3,0,0,1,352.87,835.78)">E</text>
<text transform="matrix(1.3,0,0,1,361.91,835.78)">D</text>
<text transform="matrix(1.3,0,0,1,370.95,835.78)">R</text>
<text transform="matrix(1.3,0,0,1,379.99,835.78)">W</text>
<text transform="matrix(1.3,0,0,1,389.03,835.78)">I</text>
<text transform="matrix(1.3,0,0,1,398.07,835.78)">D</text>
<text transform="matrix(1.3,0,0,1,407.11,835.78)">V</text>
<text transform="matrix(1.3,0,0,1,416.15,835.78)">R</text>
<text transform="matrix(1.3,0,0,1,425.19,835.78)">P</text>
<text transform="matrix(1.3,0,0,1,434.23,835.78)">L</text>
<text transform="matrix(1.3,0,0,1,443.27,835.78)">P</text>
<text transform="matrix(1.3,0,0,1,452.31,835.78)">N</text>
<text transform="matrix(1.3,0,0,1,461.35,835.78)">A</text>
<text transform="matrix(1.3,0,0,1,470.39,835.78)">L</text>
<text transform="matrix(1.3,0,0,1,479.43,835.78)">V</text>
<text transform="matrix(1.3,0,0,1,488.47,835.78)">I</text>
<text transform="matrix(1.3,0,0,1,497.51,835.78)">N</text>
<text transform="matrix(1.3,0,0,1,506.55,835.78)">V</text>
<text transform="matrix(1.3,0,0,1,515.59,835.78)">G</text>
<text transform="matrix(1.3,0,0,1,524.63,835.78)">D</text>
<text transform="matrix(1.3,0,0,1,533.67,835.78)">Q</text>
<text transform="matrix(1.3,0,0,1,542.71,835.78)">L</text>
<text transform="matrix(1.3,0,0,1,551.75,835.78)">Q</text>
<text transform="matrix(1.3,0,0,1,560.79,835.78)">I</text>
<text transform="matrix(1.3,0,0,1,569.83,835.78)">L</text>
<text transform="matrix(1.3,0,0,1,578.87,835.78)">S</text>
<text transform="matrix(1.3,0,0,1,587.91,835.78)">N</text>
<text transform="matrix(1.3,0,0,1,596.95,835.78)">G</text>
<text transform="matrix(1.3,0,0,1,605.99,835.78)">K</text>
<text transform="matrix(1.3,0,0,1,615.03,835.78)">Y</text>
<text transform="matrix(1.3,0,0,1,624.07,835.78)">S</text>
<text transform="matrix(1.3,0,0,1,633.11,835.78)">S</text>
<text transform="matrix(1.3,0,0,1,642.15,835.78)">C</text>
<text transform="matrix(1.3,0,0,1,651.19,835.78)">L</text>
<text transform="matrix(1.3,0,0,1,660.23,835.78)">H</text>
<text transform="matrix(1.3,0,0,1,669.27,835.78)">R</text>
<text transform="matrix(1.3,0,0,1,678.31,835.78)">V</text>
<text transform="matrix(1.3,0,0,1,126.87,847.10)">H</text>
<text transform="matrix(1.3,0,0,1,135.91,847.10)">Y</text>
<text transform="matrix(1.3,0,0,1,144.95,847.10)">D</text>
<text transform="matrix(1.3,0,0,1,153.99,847.10)">A</text>
<text transform="matrix(1.3,0,0,1,163.03,847.10)">G</text>
<text transform="matrix(1.3,0,0,1,172.07,847.10)">A</text>
<text transform="matrix(1.3,0,0,1,181.11,847.10)">L</text>
<text transform="matrix(1.3,0,0,1,190.15,847.10)">T</text>
<text transform="matrix(1.3,0,0,1,199.19,847.10)">I</text>
<text transform="matrix(1.3,0,0,1,208.23,847.10)">V</text>
<text transform="matrix(1.3,0,0,1,217.27,847.10)">G</text>
<text transform="matrix(1.3,0,0,1,226.31,847.10)">Q</text>
<text transform="matrix(1.3,0,0,1,235.35,847.10)">D</text>
<text transform="matrix(1.3,0,0,1,244.39,847.10)">G</text>
<text transform="matrix(1.3,0,0,1,253.43,847.10)">E</text>
<text transform="matrix(1.3,0,0,1,262.47,847.10)">V</text>
<text transform="matrix(1.3,0,0,1,271.51,847.10)">G</text>
<text transform="matrix(1.3,0,0,1,280.55,847.10)">G</text>
<text transform="matrix(1.3,0,0,1,289.59,847.10)">L</text>
<text transform="matrix(1.3,0,0,1,298.63,847.10)">Q</text>
<text transform="matrix(1.3,0,0,1,307.67,847.10)">V</text>
<text transform="matrix(1.3,0,0,1,316.71,847.10)">Q</text>
<text transform="matrix(1.3,0,0,1,325.75,847.10)">K</text>
<rect x="332.39" y="843.90" width="4.8" height="0.9" fill="#333"/>
<rect x="341.43" y="843.90" width="4.8" height="0.9" fill="#333"/>
<text transform="matrix(1.3,0,0,1,352.87,847.10)">G</text>
<text transform="matrix(1.3,0,0,1,361.91,847.10)">G</text>
<text transform="matrix(1.3,0,0,1,370.95,847.10)">E</text>
<text transform="matrix(1.3,0,0,1,379.99,847.10)">W</text>
<text transform="matrix(1.3,0,0,1,389.03,847.10)">V</text>
<text transform="matrix(1.3,0,0,1,398.07,847.10)">G</text>
<text transform="matrix(1.3,0,0,1,407.11,847.10)">I</text>
<text transform="matrix(1.3,0,0,1,416.15,847.10)">E</text>
<text transform="matrix(1.3,0,0,1,425.19,847.10)">P</text>
<text transform="matrix(1.3,0,0,1,434.23,847.10)">R</text>
<text transform="matrix(1.3,0,0,1,443.27,847.10)">R</text>
<text transform="matrix(1.3,0,0,1,452.31,847.10)">D</text>
<text transform="matrix(1.3,0,0,1,461.35,847.10)">A</text>
<text transform="matrix(1.3,0,0,1,470.39,847.10)">F</text>
<text transform="matrix(1.3,0,0,1,479.43,847.10)">V</text>
<text transform="matrix(1.3,0,0,1,488.47,847.10)">I</text>
<text transform="matrix(1.3,0,0,1,497.51,847.10)">N</text>
<text transform="matrix(1.3,0,0,1,506.55,847.10)">I</text>
<text transform="matrix(1.3,0,0,1,515.59,847.10)">G</text>
<text transform="matrix(1.3,0,0,1,524.63,847.10)">D</text>
<text transform="matrix(1.3,0,0,1,533.67,847.10)">M</text>
<text transform="matrix(1.3,0,0,1,542.71,847.10)">M</text>
<text transform="matrix(1.3,0,0,1,551.75,847.10)">Q</text>
<text transform="matrix(1.3,0,0,1,560.79,847.10)">V</text>
<text transform="matrix(1.3,0,0,1,569.83,847.10)">W</text>
<text transform="matrix(1.3,0,0,1,578.87,847.10)">S</text>
<text transform="matrix(1.3,0,0,1,587.91,847.10)">N</text>
<text transform="matrix(1.3,0,0,1,596.95,847.10)">G</text>
<text transform="matrix(1.3,0,0,1,605.99,847.10)">K</text>
<text transform="matrix(1.3,0,0,1,615.03,847.10)">Y</text>
<text transform="matrix(1.3,0,0,1,624.07,847.10)">K</text>
<text transform="matrix(1.3,0,0,1,633.11,847.10)">S</text>
<text transform="matrix(1.3,0,0,1,642.15,847.10)">P</text>
<text transform="matrix(1.3,0,0,1,651.19,847.10)">L</text>
<text transform="matrix(1.3,0,0,1,660.23,847.10)">H</text>
<text transform="matrix(1.3,0,0,1,669.27,847.10)">R</text>
<text transform="matrix(1.3,0,0,1,678.31,847.10)">V</text>
</g>
</svg>
</body></html>
